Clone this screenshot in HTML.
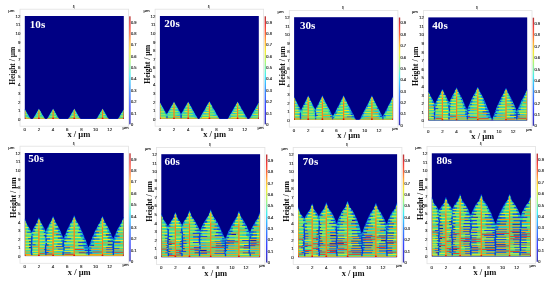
<!DOCTYPE html>
<html><head><meta charset="utf-8"><title>Dendrite growth</title>
<style>
html,body{margin:0;padding:0;background:#fff;}
body{width:550px;height:282px;overflow:hidden;}
svg text{font-family:"Liberation Sans",sans-serif;}
.lb{font-family:"Liberation Serif",serif;font-weight:bold;font-size:11.1px;fill:#fff;}
.tk{font-size:4.4px;fill:#222;stroke:#222;stroke-width:0.12px;}
.ck{font-size:4.0px;fill:#222;stroke:#222;stroke-width:0.15px;}
.yl{font-family:"Liberation Serif",serif;font-weight:bold;fill:#111;}
.xl{font-family:"Liberation Serif",serif;font-weight:bold;font-size:8.5px;fill:#111;}
</style></head><body>
<svg width="550" height="282" viewBox="0 0 550 282" style="display:block">
<defs>
<linearGradient id="cb" x1="0" y1="1" x2="0" y2="0"><stop offset="0.000" stop-color="#00008c"/><stop offset="0.063" stop-color="#0000d0"/><stop offset="0.158" stop-color="#0010ff"/><stop offset="0.295" stop-color="#0060ff"/><stop offset="0.379" stop-color="#00a8ff"/><stop offset="0.453" stop-color="#10e8f0"/><stop offset="0.526" stop-color="#60f090"/><stop offset="0.611" stop-color="#b8f030"/><stop offset="0.684" stop-color="#f4e000"/><stop offset="0.758" stop-color="#ffa000"/><stop offset="0.842" stop-color="#ff3800"/><stop offset="0.926" stop-color="#e80000"/><stop offset="1.000" stop-color="#a00000"/></linearGradient>
<filter id="bl" x="-5%" y="-5%" width="110%" height="110%"><feGaussianBlur stdDeviation="0.5"/></filter>
</defs>
<rect width="550" height="282" fill="#fff"/>
<rect x="20.0" y="9.2" width="108.6" height="117.0" fill="none" stroke="#e2e2e2" stroke-width="0.8"/>
<rect x="24.8" y="16.0" width="99.0" height="103.0" fill="#000084"/>
<clipPath id="c0"><rect x="24.8" y="16.0" width="99.0" height="103.0"/></clipPath>
<clipPath id="s0"><polygon points="24.8,119.0 24.8,109.1 25.5,110.3 26.2,111.5 26.9,112.7 27.6,113.9 28.3,115.1 29.0,116.3 29.8,117.5 30.5,118.7 31.2,119.0 32.6,119.0 33.3,118.3 34.0,117.1 34.7,115.9 35.4,114.7 36.1,113.5 36.8,112.3 37.5,111.1 38.2,109.9 38.9,108.7 39.6,109.9 40.4,111.1 41.1,112.3 41.8,113.5 42.5,114.7 43.2,115.9 43.9,117.1 44.6,118.3 45.3,119.0 46.7,119.0 47.4,118.3 48.1,117.1 48.8,115.9 49.5,114.7 50.3,113.5 51.0,112.3 51.7,111.1 52.4,109.9 53.1,108.7 53.8,109.9 54.5,111.1 55.2,112.3 55.9,113.5 56.6,114.7 57.3,115.9 58.0,117.1 58.7,118.3 59.5,119.0 67.9,119.0 68.6,118.3 69.3,117.1 70.1,115.9 70.8,114.7 71.5,113.5 72.2,112.3 72.9,111.1 73.6,109.9 74.3,108.7 75.0,109.9 75.7,111.1 76.4,112.3 77.1,113.5 77.8,114.7 78.5,115.9 79.2,117.1 80.0,118.3 80.7,119.0 96.2,119.0 96.9,118.3 97.6,117.1 98.3,115.9 99.0,114.7 99.8,113.5 100.5,112.3 101.2,111.1 101.9,109.9 102.6,108.7 103.3,109.9 104.0,111.1 104.7,112.3 105.4,113.5 106.1,114.7 106.8,115.9 107.5,117.1 108.2,118.3 109.0,119.0 117.4,119.0 118.1,118.7 118.8,117.5 119.6,116.3 120.3,115.1 121.0,113.9 121.7,112.7 122.4,111.5 123.1,110.3 123.8,109.1 123.8,119.0"/></clipPath>
<g clip-path="url(#c0)"><g filter="url(#bl)">
<polygon points="24.8,119.0 24.8,109.1 25.5,110.3 26.2,111.5 26.9,112.7 27.6,113.9 28.3,115.1 29.0,116.3 29.8,117.5 30.5,118.7 31.2,119.0 32.6,119.0 33.3,118.3 34.0,117.1 34.7,115.9 35.4,114.7 36.1,113.5 36.8,112.3 37.5,111.1 38.2,109.9 38.9,108.7 39.6,109.9 40.4,111.1 41.1,112.3 41.8,113.5 42.5,114.7 43.2,115.9 43.9,117.1 44.6,118.3 45.3,119.0 46.7,119.0 47.4,118.3 48.1,117.1 48.8,115.9 49.5,114.7 50.3,113.5 51.0,112.3 51.7,111.1 52.4,109.9 53.1,108.7 53.8,109.9 54.5,111.1 55.2,112.3 55.9,113.5 56.6,114.7 57.3,115.9 58.0,117.1 58.7,118.3 59.5,119.0 67.9,119.0 68.6,118.3 69.3,117.1 70.1,115.9 70.8,114.7 71.5,113.5 72.2,112.3 72.9,111.1 73.6,109.9 74.3,108.7 75.0,109.9 75.7,111.1 76.4,112.3 77.1,113.5 77.8,114.7 78.5,115.9 79.2,117.1 80.0,118.3 80.7,119.0 96.2,119.0 96.9,118.3 97.6,117.1 98.3,115.9 99.0,114.7 99.8,113.5 100.5,112.3 101.2,111.1 101.9,109.9 102.6,108.7 103.3,109.9 104.0,111.1 104.7,112.3 105.4,113.5 106.1,114.7 106.8,115.9 107.5,117.1 108.2,118.3 109.0,119.0 117.4,119.0 118.1,118.7 118.8,117.5 119.6,116.3 120.3,115.1 121.0,113.9 121.7,112.7 122.4,111.5 123.1,110.3 123.8,109.1 123.8,119.0" fill="#0c50ec" stroke="#0828c0" stroke-width="0.5"/>
<g clip-path="url(#s0)">
<path d="M24.8 109.2L25.4 110.2L25.9 111.2L26.5 112.2L27.0 113.1L27.6 114.1L28.1 115.1L28.7 116.1L29.2 117.0L29.8 118.0L30.3 119.0L19.3 119.0L19.8 118.0L20.4 117.0L20.9 116.1L21.5 115.1L22.0 114.1L22.6 113.1L23.1 112.2L23.7 111.2L24.2 110.2ZM38.9 108.8L39.5 109.8L40.1 110.8L40.7 111.9L41.2 112.9L41.8 113.9L42.4 114.9L43.0 115.9L43.5 117.0L44.1 118.0L44.7 119.0L33.2 119.0L33.8 118.0L34.3 117.0L34.9 115.9L35.5 114.9L36.1 113.9L36.6 112.9L37.2 111.9L37.8 110.8L38.4 109.8ZM53.1 108.8L53.7 109.8L54.2 110.8L54.8 111.9L55.4 112.9L56.0 113.9L56.5 114.9L57.1 115.9L57.7 117.0L58.3 118.0L58.8 119.0L47.3 119.0L47.9 118.0L48.5 117.0L49.1 115.9L49.6 114.9L50.2 113.9L50.8 112.9L51.4 111.9L51.9 110.8L52.5 109.8ZM74.3 108.8L74.9 109.8L75.5 110.8L76.0 111.9L76.6 112.9L77.2 113.9L77.8 114.9L78.3 115.9L78.9 117.0L79.5 118.0L80.1 119.0L68.5 119.0L69.1 118.0L69.7 117.0L70.3 115.9L70.8 114.9L71.4 113.9L72.0 112.9L72.6 111.9L73.1 110.8L73.7 109.8ZM102.6 108.8L103.2 109.8L103.7 110.8L104.3 111.9L104.9 112.9L105.5 113.9L106.0 114.9L106.6 115.9L107.2 117.0L107.8 118.0L108.3 119.0L96.8 119.0L97.4 118.0L98.0 117.0L98.6 115.9L99.1 114.9L99.7 113.9L100.3 112.9L100.9 111.9L101.4 110.8L102.0 109.8ZM123.8 109.2L124.4 110.2L124.9 111.2L125.5 112.2L126.0 113.1L126.6 114.1L127.1 115.1L127.7 116.1L128.2 117.0L128.8 118.0L129.3 119.0L118.3 119.0L118.8 118.0L119.4 117.0L119.9 116.1L120.5 115.1L121.0 114.1L121.6 113.1L122.1 112.2L122.7 111.2L123.2 110.2Z" fill="#22c8d0"/>
<path d="M24.8 109.4L25.3 110.3L25.8 111.3L26.3 112.3L26.8 113.2L27.3 114.2L27.8 115.2L28.3 116.1L28.8 117.1L29.3 118.0L29.8 119.0L19.8 119.0L20.3 118.0L20.8 117.1L21.3 116.1L21.8 115.2L22.3 114.2L22.8 113.2L23.3 112.3L23.8 111.3L24.3 110.3ZM38.9 109.0L39.5 110.0L40.0 111.0L40.5 112.0L41.0 113.0L41.5 114.0L42.1 115.0L42.6 116.0L43.1 117.0L43.6 118.0L44.2 119.0L33.7 119.0L34.3 118.0L34.8 117.0L35.3 116.0L35.8 115.0L36.3 114.0L36.9 113.0L37.4 112.0L37.9 111.0L38.4 110.0ZM53.1 109.0L53.6 110.0L54.1 111.0L54.6 112.0L55.2 113.0L55.7 114.0L56.2 115.0L56.7 116.0L57.3 117.0L57.8 118.0L58.3 119.0L47.9 119.0L48.4 118.0L48.9 117.0L49.4 116.0L50.0 115.0L50.5 114.0L51.0 113.0L51.5 112.0L52.0 111.0L52.6 110.0ZM74.3 109.0L74.8 110.0L75.3 111.0L75.9 112.0L76.4 113.0L76.9 114.0L77.4 115.0L77.9 116.0L78.5 117.0L79.0 118.0L79.5 119.0L69.1 119.0L69.6 118.0L70.1 117.0L70.7 116.0L71.2 115.0L71.7 114.0L72.2 113.0L72.7 112.0L73.3 111.0L73.8 110.0ZM102.6 109.0L103.1 110.0L103.6 111.0L104.1 112.0L104.7 113.0L105.2 114.0L105.7 115.0L106.2 116.0L106.8 117.0L107.3 118.0L107.8 119.0L97.4 119.0L97.9 118.0L98.4 117.0L98.9 116.0L99.5 115.0L100.0 114.0L100.5 113.0L101.0 112.0L101.5 111.0L102.1 110.0ZM123.8 109.4L124.3 110.3L124.8 111.3L125.3 112.3L125.8 113.2L126.3 114.2L126.8 115.2L127.3 116.1L127.8 117.1L128.3 118.0L128.8 119.0L118.8 119.0L119.3 118.0L119.8 117.1L120.3 116.1L120.8 115.2L121.3 114.2L121.8 113.2L122.3 112.3L122.8 111.3L123.3 110.3Z" fill="#44de8c"/>
<path d="M24.8 114.8H21.6M24.8 112.2H26.3M38.9 112.0H40.8M53.1 111.5H54.5M74.3 116.3H70.5M74.3 114.8H77.5M102.6 114.6H105.8M123.8 116.1H119.7M123.8 117.5H127.9M24.8 117.1H20.8M24.8 112.5H23.2M24.8 117.4H29.1M24.8 114.5H27.4M38.9 117.3H33.9M38.9 115.0H35.7M38.9 112.5H36.9M38.9 117.2H43.9M38.9 114.3H41.7M53.1 116.3H48.6M53.1 113.7H50.3M53.1 116.5H56.9M53.1 114.0H56.0M74.3 113.8H71.4M74.3 117.1H79.0M74.3 112.5H76.4M102.6 116.0H98.2M102.6 113.2H99.8M102.6 116.9H106.7M102.6 112.2H104.3M123.8 113.8H120.8M123.8 115.2H127.8M123.8 112.6H126.1" stroke="#3cd8a0" stroke-width="1.7" fill="none" opacity="1"/>
<path d="M22.9 115.8H20.7M26.8 116.1H29.1M36.8 116.0H34.4M37.7 113.7H35.8M41.2 115.9H43.4M51.1 115.0H49.2M72.2 115.0H70.4M76.8 115.9H78.7M75.7 113.5H77.3M100.8 114.7H98.9M104.1 115.7H106.9M122.3 114.8H120.3M126.1 116.2H128.2M125.2 113.9H126.8" stroke="#20b8e8" stroke-width="1.1" fill="none" opacity="1"/>
<path d="M24.8 117.1H21.7M24.8 112.5H23.5M24.8 117.4H28.1M24.8 114.5H26.8M38.9 117.3H35.1M38.9 115.0H36.4M38.9 112.5H37.4M38.9 117.2H42.8M38.9 114.3H41.1M53.1 116.3H49.7M53.1 113.7H50.9M53.1 116.5H56.0M53.1 114.0H55.3M74.3 113.8H72.0M74.3 117.1H77.9M74.3 112.5H75.9M102.6 116.0H99.2M102.6 113.2H100.4M102.6 116.9H105.7M102.6 112.2H103.9M123.8 113.8H121.5M123.8 115.2H126.9M123.8 112.6H125.6" stroke="#a0f050" stroke-width="1.0" fill="none" opacity="1"/>
<path d="M24.8 114.8H22.3M24.8 112.2H26.0M38.9 112.0H40.4M53.1 111.5H54.2M74.3 116.3H71.4M74.3 114.8H76.7M102.6 114.6H105.0M123.8 116.1H120.6M123.8 117.5H127.0" stroke="#eee820" stroke-width="1.0" fill="none" opacity="1"/>
<path d="M24.8 118.4H123.8" stroke="#f4a820" stroke-width="0.8" fill="none"/>
<path d="M24.8 119.0V109.7" stroke="#f4ac20" stroke-width="1.0" fill="none"/>
<path d="M24.8 119.0V111.9" stroke="#ee5a18" stroke-width="0.6" fill="none"/>
<circle cx="24.8" cy="118.3" r="0.9" fill="#e01010"/>
<path d="M38.9 119.0V109.3" stroke="#f4ac20" stroke-width="1.0" fill="none"/>
<path d="M38.9 119.0V111.6" stroke="#ee5a18" stroke-width="0.6" fill="none"/>
<circle cx="38.9" cy="118.3" r="0.9" fill="#e01010"/>
<path d="M53.1 119.0V109.3" stroke="#f4ac20" stroke-width="1.0" fill="none"/>
<path d="M53.1 119.0V111.6" stroke="#ee5a18" stroke-width="0.6" fill="none"/>
<circle cx="53.1" cy="118.3" r="0.9" fill="#e01010"/>
<path d="M74.3 119.0V109.3" stroke="#f4ac20" stroke-width="1.0" fill="none"/>
<path d="M74.3 119.0V111.6" stroke="#ee5a18" stroke-width="0.6" fill="none"/>
<circle cx="74.3" cy="118.3" r="0.9" fill="#e01010"/>
<path d="M102.6 119.0V109.3" stroke="#f4ac20" stroke-width="1.0" fill="none"/>
<path d="M102.6 119.0V111.6" stroke="#ee5a18" stroke-width="0.6" fill="none"/>
<circle cx="102.6" cy="118.3" r="0.9" fill="#e01010"/>
<path d="M123.8 119.0V109.7" stroke="#f4ac20" stroke-width="1.0" fill="none"/>
<path d="M123.8 119.0V111.9" stroke="#ee5a18" stroke-width="0.6" fill="none"/>
<circle cx="123.8" cy="118.3" r="0.9" fill="#e01010"/>
</g></g></g>
<text x="29.8" y="27.5" class="lb">10s</text>
<text x="20.4" y="120.8" class="tk" text-anchor="end">0</text>
<text x="20.4" y="112.2" class="tk" text-anchor="end">1</text>
<text x="20.4" y="103.6" class="tk" text-anchor="end">2</text>
<text x="20.4" y="95.0" class="tk" text-anchor="end">3</text>
<text x="20.4" y="86.4" class="tk" text-anchor="end">4</text>
<text x="20.4" y="77.8" class="tk" text-anchor="end">5</text>
<text x="20.4" y="69.2" class="tk" text-anchor="end">6</text>
<text x="20.4" y="60.7" class="tk" text-anchor="end">7</text>
<text x="20.4" y="52.1" class="tk" text-anchor="end">8</text>
<text x="20.4" y="43.5" class="tk" text-anchor="end">9</text>
<text x="20.4" y="34.9" class="tk" text-anchor="end">10</text>
<text x="20.4" y="26.3" class="tk" text-anchor="end">11</text>
<text x="20.4" y="17.8" class="tk" text-anchor="end">12</text>
<text x="24.8" y="131.0" class="tk" text-anchor="middle">0</text>
<text x="38.9" y="131.0" class="tk" text-anchor="middle">2</text>
<text x="53.1" y="131.0" class="tk" text-anchor="middle">4</text>
<text x="67.2" y="131.0" class="tk" text-anchor="middle">6</text>
<text x="81.4" y="131.0" class="tk" text-anchor="middle">8</text>
<text x="95.5" y="131.0" class="tk" text-anchor="middle">10</text>
<text x="109.7" y="131.0" class="tk" text-anchor="middle">12</text>
<text x="11.4" y="11.5" class="tk" text-anchor="middle">µm</text>
<text x="125.7" y="129.2" class="tk" text-anchor="middle">µm</text>
<text x="73.7" y="7.8" class="tk" text-anchor="middle" fill="#7080a0">ξ</text>
<rect x="129.2" y="16.3" width="1.4" height="108.0" fill="url(#cb)" opacity="0.78"/>
<text x="130.9" y="125.9" class="ck">0</text>
<text x="130.9" y="114.5" class="ck">0.1</text>
<text x="130.9" y="103.1" class="ck">0.2</text>
<text x="130.9" y="91.7" class="ck">0.3</text>
<text x="130.9" y="80.4" class="ck">0.4</text>
<text x="130.9" y="69.0" class="ck">0.5</text>
<text x="130.9" y="57.6" class="ck">0.6</text>
<text x="130.9" y="46.3" class="ck">0.7</text>
<text x="130.9" y="34.9" class="ck">0.8</text>
<text x="130.9" y="23.5" class="ck">0.9</text>
<text transform="translate(15.0,65.8) rotate(-90)" class="yl" font-size="7.5" text-anchor="middle">Height / µm</text>
<text x="78.8" y="136.8" class="xl" text-anchor="middle">x / µm</text>
<rect x="155.1" y="9.2" width="108.5" height="117.0" fill="none" stroke="#e2e2e2" stroke-width="0.8"/>
<rect x="159.9" y="16.0" width="98.9" height="103.0" fill="#000084"/>
<clipPath id="c1"><rect x="159.9" y="16.0" width="98.9" height="103.0"/></clipPath>
<clipPath id="s1"><polygon points="159.9,119.0 159.9,102.3 160.6,103.5 161.3,104.8 162.0,106.0 162.7,107.2 163.4,108.5 164.1,109.7 164.8,111.0 165.6,112.2 166.3,113.5 166.8,114.4 167.0,114.1 167.7,112.9 168.4,111.6 169.1,110.4 169.8,109.1 170.5,107.9 171.2,106.6 171.9,105.4 172.6,104.2 173.3,102.9 174.0,101.7 174.7,102.9 175.4,104.2 176.1,105.4 176.9,106.6 177.6,107.9 178.3,109.1 179.0,110.4 179.7,111.6 180.4,112.9 181.1,114.1 181.8,112.9 182.5,111.6 183.2,110.4 183.9,109.1 184.6,107.9 185.3,106.6 186.0,105.4 186.7,104.2 187.5,102.9 188.2,101.7 188.9,102.9 189.6,104.2 190.3,105.4 191.0,106.6 191.7,107.9 192.4,109.1 193.1,110.4 193.8,111.6 194.5,112.9 195.2,114.1 195.9,115.4 196.6,116.6 197.3,117.8 198.0,119.0 198.8,119.0 199.5,118.7 200.2,117.4 200.9,116.2 201.6,114.9 202.3,113.7 203.0,112.4 203.7,111.2 204.4,109.9 205.1,108.7 205.8,107.5 206.5,106.2 207.2,105.0 207.9,103.7 208.6,102.5 209.4,101.2 210.1,102.5 210.8,103.7 211.5,105.0 212.2,106.2 212.9,107.5 213.6,108.7 214.3,109.9 215.0,111.2 215.7,112.4 216.4,113.7 217.1,114.9 217.8,116.2 218.5,117.4 219.2,118.7 219.9,119.0 227.7,119.0 228.4,117.8 229.1,116.6 229.8,115.4 230.5,114.1 231.2,112.9 232.0,111.6 232.7,110.4 233.4,109.1 234.1,107.9 234.8,106.6 235.5,105.4 236.2,104.2 236.9,102.9 237.6,101.7 238.3,102.9 239.0,104.2 239.7,105.4 240.4,106.6 241.1,107.9 241.8,109.1 242.6,110.4 243.3,111.6 244.0,112.9 244.7,114.1 245.4,115.4 246.1,116.6 246.8,117.8 247.5,119.0 248.9,119.0 249.6,118.4 250.3,117.2 251.0,116.0 251.7,114.7 252.4,113.5 253.1,112.2 253.9,111.0 254.6,109.7 255.3,108.5 256.0,107.2 256.7,106.0 257.4,104.8 258.1,103.5 258.8,102.3 258.8,119.0"/></clipPath>
<g clip-path="url(#c1)"><g filter="url(#bl)">
<polygon points="159.9,119.0 159.9,102.3 160.6,103.5 161.3,104.8 162.0,106.0 162.7,107.2 163.4,108.5 164.1,109.7 164.8,111.0 165.6,112.2 166.3,113.5 166.8,114.4 167.0,114.1 167.7,112.9 168.4,111.6 169.1,110.4 169.8,109.1 170.5,107.9 171.2,106.6 171.9,105.4 172.6,104.2 173.3,102.9 174.0,101.7 174.7,102.9 175.4,104.2 176.1,105.4 176.9,106.6 177.6,107.9 178.3,109.1 179.0,110.4 179.7,111.6 180.4,112.9 181.1,114.1 181.8,112.9 182.5,111.6 183.2,110.4 183.9,109.1 184.6,107.9 185.3,106.6 186.0,105.4 186.7,104.2 187.5,102.9 188.2,101.7 188.9,102.9 189.6,104.2 190.3,105.4 191.0,106.6 191.7,107.9 192.4,109.1 193.1,110.4 193.8,111.6 194.5,112.9 195.2,114.1 195.9,115.4 196.6,116.6 197.3,117.8 198.0,119.0 198.8,119.0 199.5,118.7 200.2,117.4 200.9,116.2 201.6,114.9 202.3,113.7 203.0,112.4 203.7,111.2 204.4,109.9 205.1,108.7 205.8,107.5 206.5,106.2 207.2,105.0 207.9,103.7 208.6,102.5 209.4,101.2 210.1,102.5 210.8,103.7 211.5,105.0 212.2,106.2 212.9,107.5 213.6,108.7 214.3,109.9 215.0,111.2 215.7,112.4 216.4,113.7 217.1,114.9 217.8,116.2 218.5,117.4 219.2,118.7 219.9,119.0 227.7,119.0 228.4,117.8 229.1,116.6 229.8,115.4 230.5,114.1 231.2,112.9 232.0,111.6 232.7,110.4 233.4,109.1 234.1,107.9 234.8,106.6 235.5,105.4 236.2,104.2 236.9,102.9 237.6,101.7 238.3,102.9 239.0,104.2 239.7,105.4 240.4,106.6 241.1,107.9 241.8,109.1 242.6,110.4 243.3,111.6 244.0,112.9 244.7,114.1 245.4,115.4 246.1,116.6 246.8,117.8 247.5,119.0 248.9,119.0 249.6,118.4 250.3,117.2 251.0,116.0 251.7,114.7 252.4,113.5 253.1,112.2 253.9,111.0 254.6,109.7 255.3,108.5 256.0,107.2 256.7,106.0 257.4,104.8 258.1,103.5 258.8,102.3 258.8,119.0" fill="#0c50ec" stroke="#0828c0" stroke-width="0.5"/>
<g clip-path="url(#s1)">
<path d="M159.9 102.4L160.8 104.1L161.7 105.7L162.6 107.4L163.5 109.1L164.4 110.7L165.3 112.4L166.2 114.0L167.1 115.7L168.0 117.3L168.9 119.0L150.9 119.0L151.8 117.3L152.7 115.7L153.6 114.0L154.5 112.4L155.4 110.7L156.3 109.1L157.2 107.4L158.1 105.7L159.0 104.1ZM174.0 101.8L175.0 103.6L175.9 105.3L176.8 107.0L177.8 108.7L178.7 110.4L179.6 112.1L180.6 113.9L181.5 115.6L182.4 117.3L183.4 119.0L164.7 119.0L165.6 117.3L166.5 115.6L167.5 113.9L168.4 112.1L169.4 110.4L170.3 108.7L171.2 107.0L172.2 105.3L173.1 103.6ZM188.2 101.8L189.1 103.6L190.0 105.3L191.0 107.0L191.9 108.7L192.8 110.4L193.8 112.1L194.7 113.9L195.6 115.6L196.6 117.3L197.5 119.0L178.8 119.0L179.7 117.3L180.7 115.6L181.6 113.9L182.5 112.1L183.5 110.4L184.4 108.7L185.4 107.0L186.3 105.3L187.2 103.6ZM209.4 101.4L210.3 103.2L211.3 104.9L212.2 106.7L213.2 108.4L214.1 110.2L215.1 112.0L216.1 113.7L217.0 115.5L218.0 117.2L218.9 119.0L199.8 119.0L200.7 117.2L201.7 115.5L202.6 113.7L203.6 112.0L204.6 110.2L205.5 108.4L206.5 106.7L207.4 104.9L208.4 103.2ZM237.6 101.8L238.5 103.6L239.5 105.3L240.4 107.0L241.3 108.7L242.3 110.4L243.2 112.1L244.2 113.9L245.1 115.6L246.0 117.3L247.0 119.0L228.3 119.0L229.2 117.3L230.1 115.6L231.1 113.9L232.0 112.1L232.9 110.4L233.9 108.7L234.8 107.0L235.7 105.3L236.7 103.6ZM258.8 102.4L259.7 104.1L260.6 105.7L261.5 107.4L262.4 109.1L263.3 110.7L264.2 112.4L265.1 114.0L266.0 115.7L266.9 117.3L267.8 119.0L249.8 119.0L250.7 117.3L251.6 115.7L252.5 114.0L253.4 112.4L254.3 110.7L255.2 109.1L256.1 107.4L257.0 105.7L257.9 104.1Z" fill="#22c8d0"/>
<path d="M159.9 102.7L160.7 104.3L161.5 105.9L162.4 107.6L163.2 109.2L164.0 110.8L164.8 112.5L165.6 114.1L166.4 115.7L167.3 117.4L168.1 119.0L151.7 119.0L152.5 117.4L153.4 115.7L154.2 114.1L155.0 112.5L155.8 110.8L156.6 109.2L157.4 107.6L158.3 105.9L159.1 104.3ZM174.0 102.1L174.9 103.8L175.7 105.5L176.6 107.2L177.4 108.9L178.3 110.5L179.1 112.2L180.0 113.9L180.8 115.6L181.6 117.3L182.5 119.0L165.6 119.0L166.4 117.3L167.3 115.6L168.1 113.9L169.0 112.2L169.8 110.5L170.6 108.9L171.5 107.2L172.3 105.5L173.2 103.8ZM188.2 102.1L189.0 103.8L189.8 105.5L190.7 107.2L191.5 108.9L192.4 110.5L193.2 112.2L194.1 113.9L194.9 115.6L195.8 117.3L196.6 119.0L179.7 119.0L180.5 117.3L181.4 115.6L182.2 113.9L183.1 112.2L183.9 110.5L184.8 108.9L185.6 107.2L186.5 105.5L187.3 103.8ZM209.4 101.7L210.2 103.4L211.1 105.1L212.0 106.9L212.8 108.6L213.7 110.3L214.6 112.1L215.4 113.8L216.3 115.5L217.2 117.3L218.0 119.0L200.7 119.0L201.5 117.3L202.4 115.5L203.3 113.8L204.1 112.1L205.0 110.3L205.9 108.6L206.7 106.9L207.6 105.1L208.5 103.4ZM237.6 102.1L238.5 103.8L239.3 105.5L240.1 107.2L241.0 108.9L241.8 110.5L242.7 112.2L243.5 113.9L244.4 115.6L245.2 117.3L246.1 119.0L229.1 119.0L230.0 117.3L230.8 115.6L231.7 113.9L232.5 112.2L233.4 110.5L234.2 108.9L235.1 107.2L235.9 105.5L236.8 103.8ZM258.8 102.7L259.6 104.3L260.4 105.9L261.3 107.6L262.1 109.2L262.9 110.8L263.7 112.5L264.5 114.1L265.3 115.7L266.2 117.4L267.0 119.0L250.6 119.0L251.4 117.4L252.3 115.7L253.1 114.1L253.9 112.5L254.7 110.8L255.5 109.2L256.3 107.6L257.2 105.9L258.0 104.3Z" fill="#44de8c"/>
<path d="M159.9 117.2H152.1M159.9 111.9H154.2M159.9 109.7H156.1M159.9 117.2H167.3M159.9 111.9H165.2M174.0 111.1H168.3M174.0 108.7H170.3M188.2 111.7H183.4M188.2 112.0H193.9M188.2 109.7H192.2M209.4 117.5H199.8M209.4 115.2H200.7M209.4 112.6H202.2M209.4 110.2H205.1M209.4 107.8H205.7M209.4 116.8H219.2M209.4 106.1H212.2M237.6 117.4H229.1M237.6 114.9H229.2M237.6 112.4H231.7M237.6 110.1H233.1M237.6 104.7H236.0M237.6 114.7H245.5M237.6 109.5H241.2M258.8 114.3H251.7M258.8 109.5H255.3M258.8 107.2H256.5M174.0 116.7H182.1M159.9 114.7H153.7M159.9 106.8H157.0M159.9 114.7H167.1M159.9 109.1H163.5M159.9 106.7H162.1M174.0 116.2H165.7M174.0 113.9H166.2M174.0 106.1H171.3M174.0 114.0H180.0M174.0 111.4H179.5M174.0 108.6H177.9M174.0 106.0H176.4M188.2 116.7H180.1M188.2 114.3H181.1M188.2 109.4H183.6M188.2 106.5H185.6M188.2 117.3H196.6M188.2 114.6H194.1M188.2 107.1H191.6M188.2 104.3H189.6M209.4 105.5H206.8M209.4 114.0H216.1M209.4 111.2H215.2M209.4 108.9H213.0M237.6 107.5H234.1M237.6 117.4H246.9M237.6 111.9H243.8M237.6 106.9H240.6M237.6 104.3H238.8M258.8 116.8H250.7M258.8 111.8H253.6M258.8 116.5H266.1M258.8 113.6H264.4M258.8 110.9H264.3M258.8 108.3H261.7M258.8 105.9H261.0" stroke="#3cd8a0" stroke-width="1.7" fill="none" opacity="1"/>
<path d="M157.8 110.6H154.9M157.9 108.4H156.3M161.6 107.8H163.2M170.4 114.9H166.8M170.4 112.6H167.5M172.1 109.8H169.2M172.6 107.4H170.6M177.1 115.4H181.1M177.1 112.7H180.6M176.0 110.1H179.0M175.9 107.3H177.4M185.7 113.0H181.4M186.0 108.1H184.3M191.4 116.1H196.7M190.5 113.3H195.1M189.7 108.4H192.2M206.0 113.9H201.8M207.0 111.3H203.3M208.3 106.5H206.2M213.1 115.5H217.9M213.2 112.7H216.2M211.5 110.0H214.6M232.8 116.1H229.0M235.2 113.7H230.5M235.7 111.1H232.0M236.0 108.8H233.4M242.3 116.1H246.2M240.2 110.6H242.9M255.7 115.5H250.9M255.2 113.0H252.4M256.4 110.5H253.9M257.4 108.2H255.2M262.2 115.2H265.9M260.8 112.4H264.8M261.2 109.6H263.2" stroke="#20b8e8" stroke-width="1.1" fill="none" opacity="1"/>
<path d="M165.7 113.4H166.8M170.1 109.8H168.9M178.3 110.1H179.3M183.6 110.5H182.7M184.7 108.1H184.1M190.1 105.8H190.8M201.1 116.2H200.0M204.2 111.3H203.1M212.4 107.6H213.3M211.1 104.8H211.6M234.2 108.8H233.2M245.4 116.1H246.6M251.8 115.5H250.6M262.3 109.6H263.4" stroke="#0c44d8" stroke-width="1.1" fill="none" opacity="1"/>
<path d="M159.9 114.7H155.1M159.9 106.8H157.7M159.9 114.7H165.4M159.9 109.1H162.7M159.9 106.7H161.6M174.0 116.2H167.6M174.0 113.9H168.0M174.0 106.1H171.9M174.0 114.0H178.7M174.0 111.4H178.2M174.0 108.6H177.0M174.0 106.0H175.9M188.2 116.7H181.9M188.2 114.3H182.7M188.2 109.4H184.7M188.2 106.5H186.2M188.2 117.3H194.6M188.2 114.6H192.8M188.2 107.1H190.8M188.2 104.3H189.3M209.4 105.5H207.4M209.4 114.0H214.6M209.4 111.2H213.9M209.4 108.9H212.1M237.6 107.5H234.9M237.6 117.4H244.7M237.6 111.9H242.4M237.6 106.9H239.9M237.6 104.3H238.5M258.8 116.8H252.6M258.8 111.8H254.8M258.8 116.5H264.4M258.8 113.6H263.1M258.8 110.9H263.0M258.8 108.3H261.0M258.8 105.9H260.5" stroke="#a0f050" stroke-width="1.0" fill="none" opacity="1"/>
<path d="M159.9 117.2H153.9M159.9 111.9H155.5M159.9 109.7H157.0M159.9 117.2H165.6M159.9 111.9H164.0M174.0 111.1H169.6M174.0 108.7H171.1M188.2 111.7H184.5M188.2 112.0H192.5M188.2 109.7H191.3M209.4 117.5H202.0M209.4 115.2H202.7M209.4 112.6H203.9M209.4 110.2H206.1M209.4 107.8H206.6M209.4 116.8H216.9M209.4 106.1H211.5M237.6 117.4H231.1M237.6 114.9H231.1M237.6 112.4H233.1M237.6 110.1H234.2M237.6 104.7H236.4M237.6 114.7H243.7M237.6 109.5H240.4M258.8 114.3H253.3M258.8 109.5H256.1M258.8 107.2H257.0" stroke="#eee820" stroke-width="1.0" fill="none" opacity="1"/>
<path d="M174.0 116.7H180.2" stroke="#f8a018" stroke-width="1.0" fill="none" opacity="1"/>
<path d="M167.0 119.0V116.3" stroke="#0c34d0" stroke-width="1.3" fill="none"/>
<path d="M181.1 119.0V116.8M181.1 116.8V114.6" stroke="#0c34d0" stroke-width="1.3" fill="none"/>
<path d="M159.9 118.4H258.8" stroke="#f4a820" stroke-width="0.8" fill="none"/>
<path d="M159.9 119.0V103.3" stroke="#f4ac20" stroke-width="1.1" fill="none"/>
<path d="M159.9 119.0V106.9" stroke="#ee5a18" stroke-width="0.6" fill="none"/>
<circle cx="159.9" cy="118.3" r="0.9" fill="#e01010"/>
<path d="M174.0 119.0V102.7" stroke="#f4ac20" stroke-width="1.1" fill="none"/>
<path d="M174.0 119.0V106.5" stroke="#ee5a18" stroke-width="0.6" fill="none"/>
<circle cx="174.0" cy="118.3" r="0.9" fill="#e01010"/>
<path d="M188.2 119.0V102.7" stroke="#f4ac20" stroke-width="1.1" fill="none"/>
<path d="M188.2 119.0V106.5" stroke="#ee5a18" stroke-width="0.6" fill="none"/>
<circle cx="188.2" cy="118.3" r="0.9" fill="#e01010"/>
<path d="M209.4 119.0V102.3" stroke="#f4ac20" stroke-width="1.1" fill="none"/>
<path d="M209.4 119.0V106.2" stroke="#ee5a18" stroke-width="0.6" fill="none"/>
<circle cx="209.4" cy="118.3" r="0.9" fill="#e01010"/>
<path d="M237.6 119.0V102.7" stroke="#f4ac20" stroke-width="1.1" fill="none"/>
<path d="M237.6 119.0V106.5" stroke="#ee5a18" stroke-width="0.6" fill="none"/>
<circle cx="237.6" cy="118.3" r="0.9" fill="#e01010"/>
<path d="M258.8 119.0V103.3" stroke="#f4ac20" stroke-width="1.1" fill="none"/>
<path d="M258.8 119.0V106.9" stroke="#ee5a18" stroke-width="0.6" fill="none"/>
<circle cx="258.8" cy="118.3" r="0.9" fill="#e01010"/>
</g></g></g>
<text x="164.3" y="26.8" class="lb">20s</text>
<text x="155.5" y="120.8" class="tk" text-anchor="end">0</text>
<text x="155.5" y="112.2" class="tk" text-anchor="end">1</text>
<text x="155.5" y="103.6" class="tk" text-anchor="end">2</text>
<text x="155.5" y="95.0" class="tk" text-anchor="end">3</text>
<text x="155.5" y="86.4" class="tk" text-anchor="end">4</text>
<text x="155.5" y="77.8" class="tk" text-anchor="end">5</text>
<text x="155.5" y="69.2" class="tk" text-anchor="end">6</text>
<text x="155.5" y="60.7" class="tk" text-anchor="end">7</text>
<text x="155.5" y="52.1" class="tk" text-anchor="end">8</text>
<text x="155.5" y="43.5" class="tk" text-anchor="end">9</text>
<text x="155.5" y="34.9" class="tk" text-anchor="end">10</text>
<text x="155.5" y="26.3" class="tk" text-anchor="end">11</text>
<text x="155.5" y="17.8" class="tk" text-anchor="end">12</text>
<text x="159.9" y="131.0" class="tk" text-anchor="middle">0</text>
<text x="174.0" y="131.0" class="tk" text-anchor="middle">2</text>
<text x="188.2" y="131.0" class="tk" text-anchor="middle">4</text>
<text x="202.3" y="131.0" class="tk" text-anchor="middle">6</text>
<text x="216.4" y="131.0" class="tk" text-anchor="middle">8</text>
<text x="230.5" y="131.0" class="tk" text-anchor="middle">10</text>
<text x="244.7" y="131.0" class="tk" text-anchor="middle">12</text>
<text x="146.5" y="11.5" class="tk" text-anchor="middle">µm</text>
<text x="260.7" y="129.2" class="tk" text-anchor="middle">µm</text>
<text x="208.8" y="7.8" class="tk" text-anchor="middle" fill="#7080a0">ξ</text>
<rect x="264.6" y="16.3" width="1.4" height="108.0" fill="url(#cb)" opacity="0.78"/>
<text x="266.3" y="125.9" class="ck">0</text>
<text x="266.3" y="114.5" class="ck">0.1</text>
<text x="266.3" y="103.1" class="ck">0.2</text>
<text x="266.3" y="91.7" class="ck">0.3</text>
<text x="266.3" y="80.4" class="ck">0.4</text>
<text x="266.3" y="69.0" class="ck">0.5</text>
<text x="266.3" y="57.6" class="ck">0.6</text>
<text x="266.3" y="46.3" class="ck">0.7</text>
<text x="266.3" y="34.9" class="ck">0.8</text>
<text x="266.3" y="23.5" class="ck">0.9</text>
<text transform="translate(150.3,64.3) rotate(-90)" class="yl" font-size="7.7" text-anchor="middle">Height / µm</text>
<text x="214.6" y="136.8" class="xl" text-anchor="middle">x / µm</text>
<rect x="289.3" y="10.4" width="108.6" height="116.7" fill="none" stroke="#e2e2e2" stroke-width="0.8"/>
<rect x="294.1" y="17.2" width="99.0" height="102.7" fill="#000084"/>
<clipPath id="c2"><rect x="294.1" y="17.2" width="99.0" height="102.7"/></clipPath>
<clipPath id="s2"><polygon points="294.1,119.9 294.1,96.7 294.8,98.3 295.5,99.8 296.2,101.3 296.9,102.7 297.6,104.0 298.3,105.4 299.1,106.8 299.8,108.1 300.5,109.5 300.9,110.3 301.2,109.8 301.9,108.4 302.6,107.0 303.3,105.7 304.0,104.3 304.7,102.9 305.4,101.5 306.1,100.2 306.8,98.7 307.5,97.1 308.2,95.6 309.0,97.1 309.7,98.7 310.4,100.2 311.1,101.5 311.8,102.9 312.5,104.3 313.2,105.7 313.9,107.0 314.6,108.4 315.3,109.8 316.0,108.4 316.7,107.0 317.4,105.7 318.1,104.3 318.9,102.9 319.6,101.5 320.3,100.2 321.0,98.7 321.7,97.1 322.4,95.6 323.1,97.1 323.8,98.7 324.5,100.2 325.2,101.5 325.9,102.9 326.6,104.3 327.3,105.7 328.0,107.0 328.8,108.4 329.5,109.8 330.2,111.1 330.9,112.5 331.6,113.9 332.3,115.2 333.0,116.5 333.0,116.4 333.7,115.1 334.4,113.7 335.1,112.3 335.8,111.0 336.5,109.6 337.2,108.2 337.9,106.8 338.7,105.5 339.4,104.1 340.1,102.7 340.8,101.4 341.5,100.0 342.2,98.5 342.9,97.0 343.6,95.5 344.3,97.0 345.0,98.5 345.7,100.0 346.4,101.4 347.1,102.7 347.8,104.1 348.6,105.5 349.3,106.8 350.0,108.2 350.7,109.6 351.4,111.0 352.1,112.3 352.8,113.7 353.5,115.1 354.2,116.4 354.9,117.8 355.6,119.2 356.3,119.9 359.2,119.9 359.9,119.3 360.6,118.0 361.3,116.6 362.0,115.2 362.7,113.9 363.4,112.5 364.1,111.1 364.8,109.8 365.5,108.4 366.2,107.0 366.9,105.7 367.6,104.3 368.4,102.9 369.1,101.5 369.8,100.2 370.5,98.7 371.2,97.1 371.9,95.6 372.6,97.1 373.3,98.7 374.0,100.2 374.7,101.5 375.4,102.9 376.1,104.3 376.8,105.7 377.5,107.0 378.2,108.4 379.0,109.8 379.7,111.1 380.4,112.5 381.1,113.9 381.8,115.2 382.5,116.6 382.7,116.9 383.2,115.9 383.9,114.6 384.6,113.2 385.3,111.8 386.0,110.4 386.7,109.1 387.4,107.7 388.2,106.3 388.9,105.0 389.6,103.6 390.3,102.2 391.0,100.9 391.7,99.3 392.4,97.8 393.1,96.3 393.1,119.9"/></clipPath>
<g clip-path="url(#c2)"><g filter="url(#bl)">
<polygon points="294.1,119.9 294.1,96.7 294.8,98.3 295.5,99.8 296.2,101.3 296.9,102.7 297.6,104.0 298.3,105.4 299.1,106.8 299.8,108.1 300.5,109.5 300.9,110.3 301.2,109.8 301.9,108.4 302.6,107.0 303.3,105.7 304.0,104.3 304.7,102.9 305.4,101.5 306.1,100.2 306.8,98.7 307.5,97.1 308.2,95.6 309.0,97.1 309.7,98.7 310.4,100.2 311.1,101.5 311.8,102.9 312.5,104.3 313.2,105.7 313.9,107.0 314.6,108.4 315.3,109.8 316.0,108.4 316.7,107.0 317.4,105.7 318.1,104.3 318.9,102.9 319.6,101.5 320.3,100.2 321.0,98.7 321.7,97.1 322.4,95.6 323.1,97.1 323.8,98.7 324.5,100.2 325.2,101.5 325.9,102.9 326.6,104.3 327.3,105.7 328.0,107.0 328.8,108.4 329.5,109.8 330.2,111.1 330.9,112.5 331.6,113.9 332.3,115.2 333.0,116.5 333.0,116.4 333.7,115.1 334.4,113.7 335.1,112.3 335.8,111.0 336.5,109.6 337.2,108.2 337.9,106.8 338.7,105.5 339.4,104.1 340.1,102.7 340.8,101.4 341.5,100.0 342.2,98.5 342.9,97.0 343.6,95.5 344.3,97.0 345.0,98.5 345.7,100.0 346.4,101.4 347.1,102.7 347.8,104.1 348.6,105.5 349.3,106.8 350.0,108.2 350.7,109.6 351.4,111.0 352.1,112.3 352.8,113.7 353.5,115.1 354.2,116.4 354.9,117.8 355.6,119.2 356.3,119.9 359.2,119.9 359.9,119.3 360.6,118.0 361.3,116.6 362.0,115.2 362.7,113.9 363.4,112.5 364.1,111.1 364.8,109.8 365.5,108.4 366.2,107.0 366.9,105.7 367.6,104.3 368.4,102.9 369.1,101.5 369.8,100.2 370.5,98.7 371.2,97.1 371.9,95.6 372.6,97.1 373.3,98.7 374.0,100.2 374.7,101.5 375.4,102.9 376.1,104.3 376.8,105.7 377.5,107.0 378.2,108.4 379.0,109.8 379.7,111.1 380.4,112.5 381.1,113.9 381.8,115.2 382.5,116.6 382.7,116.9 383.2,115.9 383.9,114.6 384.6,113.2 385.3,111.8 386.0,110.4 386.7,109.1 387.4,107.7 388.2,106.3 388.9,105.0 389.6,103.6 390.3,102.2 391.0,100.9 391.7,99.3 392.4,97.8 393.1,96.3 393.1,119.9" fill="#0c50ec" stroke="#0828c0" stroke-width="0.5"/>
<g clip-path="url(#s2)">
<path d="M294.1 97.0L295.1 99.3L296.2 101.6L297.3 103.9L298.4 106.1L299.6 108.4L300.7 110.7L301.8 113.0L303.0 115.3L304.1 117.6L305.2 119.9L283.0 119.9L284.1 117.6L285.2 115.3L286.4 113.0L287.5 110.7L288.6 108.4L289.8 106.1L290.9 103.9L292.0 101.6L293.1 99.3ZM308.2 95.9L309.3 98.3L310.4 100.7L311.6 103.1L312.8 105.5L314.0 107.9L315.2 110.3L316.4 112.7L317.6 115.1L318.7 117.5L319.9 119.9L296.5 119.9L297.7 117.5L298.9 115.1L300.1 112.7L301.3 110.3L302.5 107.9L303.7 105.5L304.9 103.1L306.1 100.7L307.2 98.3ZM322.4 95.9L323.5 98.3L324.6 100.7L325.7 103.1L326.9 105.5L328.1 107.9L329.3 110.3L330.5 112.7L331.7 115.1L332.9 117.5L334.1 119.9L310.7 119.9L311.9 117.5L313.1 115.1L314.3 112.7L315.5 110.3L316.6 107.9L317.8 105.5L319.0 103.1L320.2 100.7L321.3 98.3ZM343.6 95.7L344.7 98.1L345.8 100.5L347.0 103.0L348.2 105.4L349.4 107.8L350.6 110.2L351.8 112.6L353.0 115.1L354.2 117.5L355.4 119.9L331.8 119.9L333.0 117.5L334.2 115.1L335.4 112.6L336.6 110.2L337.8 107.8L339.0 105.4L340.2 103.0L341.4 100.5L342.5 98.1ZM371.9 95.9L373.0 98.3L374.1 100.7L375.2 103.1L376.4 105.5L377.6 107.9L378.8 110.3L380.0 112.7L381.2 115.1L382.4 117.5L383.6 119.9L360.2 119.9L361.4 117.5L362.6 115.1L363.8 112.7L365.0 110.3L366.1 107.9L367.3 105.5L368.5 103.1L369.7 100.7L370.8 98.3ZM393.1 96.6L394.1 98.9L395.2 101.2L396.4 103.6L397.5 105.9L398.7 108.2L399.8 110.6L401.0 112.9L402.1 115.2L403.3 117.6L404.5 119.9L381.7 119.9L382.9 117.6L384.1 115.2L385.2 112.9L386.4 110.6L387.5 108.2L388.7 105.9L389.8 103.6L391.0 101.2L392.1 98.9Z" fill="#22c8d0"/>
<path d="M294.1 97.3L295.0 99.6L296.0 101.8L297.0 104.1L298.0 106.4L299.1 108.6L300.1 110.9L301.1 113.1L302.1 115.4L303.2 117.6L304.2 119.9L284.0 119.9L285.0 117.6L286.1 115.4L287.1 113.1L288.1 110.9L289.1 108.6L290.2 106.4L291.2 104.1L292.2 101.8L293.2 99.6ZM308.2 96.2L309.2 98.6L310.2 101.0L311.3 103.3L312.4 105.7L313.4 108.1L314.5 110.4L315.6 112.8L316.7 115.2L317.8 117.5L318.8 119.9L297.7 119.9L298.7 117.5L299.8 115.2L300.9 112.8L302.0 110.4L303.0 108.1L304.1 105.7L305.2 103.3L306.3 101.0L307.3 98.6ZM322.4 96.2L323.4 98.6L324.4 101.0L325.4 103.3L326.5 105.7L327.6 108.1L328.7 110.4L329.7 112.8L330.8 115.2L331.9 117.5L333.0 119.9L311.8 119.9L312.9 117.5L314.0 115.2L315.0 112.8L316.1 110.4L317.2 108.1L318.3 105.7L319.3 103.3L320.4 101.0L321.4 98.6ZM343.6 96.1L344.6 98.5L345.6 100.8L346.7 103.2L347.8 105.6L348.8 108.0L349.9 110.4L351.0 112.8L352.1 115.1L353.2 117.5L354.3 119.9L332.9 119.9L334.0 117.5L335.1 115.1L336.2 112.8L337.3 110.4L338.4 108.0L339.4 105.6L340.5 103.2L341.6 100.8L342.6 98.5ZM371.9 96.2L372.9 98.6L373.9 101.0L374.9 103.3L376.0 105.7L377.1 108.1L378.2 110.4L379.2 112.8L380.3 115.2L381.4 117.5L382.5 119.9L361.3 119.9L362.4 117.5L363.5 115.2L364.5 112.8L365.6 110.4L366.7 108.1L367.8 105.7L368.8 103.3L369.9 101.0L370.9 98.6ZM393.1 96.9L394.0 99.2L395.0 101.5L396.1 103.8L397.1 106.1L398.1 108.4L399.2 110.7L400.2 113.0L401.3 115.3L402.3 117.6L403.4 119.9L382.8 119.9L383.9 117.6L384.9 115.3L386.0 113.0L387.0 110.7L388.1 108.4L389.1 106.1L390.1 103.8L391.2 101.5L392.2 99.2Z" fill="#44de8c"/>
<path d="M294.1 107.8H289.4M294.1 115.7H301.8M294.1 112.7H301.8M294.1 110.2H300.0M294.1 104.8H297.4M294.1 102.0H296.8M308.2 114.2H300.7M308.2 111.2H301.3M308.2 102.9H305.3M308.2 100.1H306.6M308.2 117.0H316.3M308.2 112.0H315.0M308.2 109.1H314.8M308.2 101.5H311.4M322.4 116.8H314.3M322.4 114.0H314.3M322.4 111.3H314.3M322.4 108.4H315.6M322.4 103.4H319.3M322.4 100.4H320.3M322.4 112.9H330.1M322.4 107.3H328.5M322.4 104.9H326.9M322.4 102.3H325.1M343.6 117.1H332.4M343.6 114.4H333.6M343.6 111.6H336.2M343.6 105.7H339.5M343.6 115.8H354.2M343.6 113.4H351.2M343.6 110.5H350.7M343.6 105.0H347.7M343.6 102.3H347.2M371.9 115.0H360.9M371.9 112.6H362.5M371.9 110.0H364.2M371.9 107.5H366.4M371.9 115.3H380.5M371.9 101.4H374.8M371.9 98.8H373.5M393.1 117.0H384.0M393.1 112.0H385.4M393.1 100.6H391.3M393.1 117.8H401.2M393.1 115.6H401.2M393.1 113.1H401.2M393.1 102.8H396.4M294.1 118.3H286.0M294.1 118.3H301.8M308.2 117.0H299.8M322.4 118.1H334.2M322.4 115.5H333.6M343.6 118.2H353.8M371.9 117.7H362.4M371.9 117.8H381.0M371.9 112.6H380.2M371.9 109.7H378.7M294.1 115.6H286.1M294.1 113.0H286.5M294.1 110.5H288.3M294.1 104.9H289.7M294.1 102.2H291.4M294.1 107.4H299.9M294.1 99.3H295.2M308.2 108.3H301.8M308.2 105.7H302.7M308.2 114.6H316.3M308.2 106.6H313.0M308.2 104.0H312.1M308.2 98.8H309.9M322.4 105.8H317.7M322.4 110.0H330.1M322.4 99.6H324.3M343.6 108.7H336.9M343.6 102.7H340.4M343.6 100.2H341.4M343.6 107.8H349.4M343.6 99.3H345.1M371.9 104.5H368.3M371.9 102.0H368.8M371.9 99.2H370.3M371.9 106.7H378.1M371.9 104.0H376.5M393.1 114.4H383.0M393.1 109.0H387.8M393.1 106.4H387.5M393.1 103.5H390.2M393.1 110.6H400.3M393.1 108.2H399.1M393.1 105.3H397.0M393.1 100.0H394.8" stroke="#3cd8a0" stroke-width="1.7" fill="none" opacity="1"/>
<path d="M291.3 116.9H287.0M289.0 114.2H287.0M290.7 111.6H287.0M291.6 109.1H287.6M292.9 103.6H290.6M299.3 116.9H300.9M297.6 114.4H300.9M298.5 111.4H300.9M296.6 108.9H300.4M296.3 106.1H298.9M295.3 103.4H297.5M303.2 115.7H300.9M306.5 104.4H303.7M307.0 101.5H305.3M312.8 115.6H315.3M310.5 105.2H313.2M309.6 102.7H311.8M319.4 112.6H315.3M319.5 110.0H315.3M321.1 102.0H319.1M325.2 108.6H329.2M324.5 105.9H327.7M323.5 100.9H325.0M340.0 115.7H332.9M340.1 110.3H335.8M341.0 104.3H339.0M348.4 114.4H354.1M346.7 112.0H352.3M346.5 109.1H350.8M346.0 106.5H349.3M344.9 100.9H346.3M368.8 116.3H360.4M366.5 113.6H362.4M368.3 108.7H365.0M369.7 106.1H366.4M370.9 100.6H369.4M376.6 116.4H382.7M375.8 114.0H382.0M374.8 111.3H380.1M375.6 108.3H378.5M373.9 102.6H375.4M390.2 115.6H382.7M389.6 110.6H385.6M391.1 105.0H388.6M391.4 102.1H390.2M397.6 114.2H400.2M396.3 111.7H400.2M396.0 109.2H399.9M394.8 103.9H397.0M394.0 101.5H395.7" stroke="#20b8e8" stroke-width="1.1" fill="none" opacity="1"/>
<path d="M317.7 115.5H315.3M346.9 116.8H355.5M397.5 116.4H400.2" stroke="#1048e8" stroke-width="1.1" fill="none" opacity="1"/>
<path d="M288.3 111.6H287.0M288.6 109.1H287.3M291.3 103.6H290.5M292.7 100.9H292.0M300.9 116.9H300.9M300.8 114.4H300.9M298.5 108.9H300.7M297.8 106.1H299.2M295.5 100.6H296.1M302.5 109.8H300.9M303.6 106.9H302.1M305.1 104.4H303.5M305.9 101.5H305.2M307.0 98.7H306.7M315.3 115.6H315.3M315.0 113.2H315.3M314.6 110.7H315.3M312.5 105.2H313.4M309.8 100.1H310.5M315.3 115.5H315.3M316.0 112.6H315.3M317.8 107.0H316.2M318.9 104.5H317.6M330.1 116.7H332.9M329.9 114.2H332.7M329.5 111.5H331.1M326.8 105.9H328.0M324.5 100.9H325.1M336.8 113.1H333.9M338.8 107.3H337.1M340.3 104.3H338.8M341.5 101.3H340.5M342.4 98.8H341.9M350.8 114.4H354.1M350.5 112.0H352.7M349.7 109.1H351.1M345.5 100.9H346.4M362.6 116.3H360.4M363.8 113.6H361.9M366.2 108.7H364.7M368.0 106.1H366.2M379.9 116.4H382.7M378.8 114.0H382.0M376.9 108.3H378.9M374.8 102.6H375.6M385.5 115.6H382.7M386.8 110.6H385.2M389.4 105.0H388.4M390.8 102.1H390.1M392.1 99.3H391.6M400.2 116.4H400.2M400.0 114.2H400.2M400.0 111.7H400.2M397.4 106.8H398.8M396.1 103.9H397.2M395.3 101.5H395.8" stroke="#0c44d8" stroke-width="1.1" fill="none" opacity="1"/>
<path d="M294.1 115.6H287.9M294.1 113.0H288.2M294.1 110.5H289.7M294.1 104.9H290.7M294.1 102.2H292.0M294.1 107.4H298.6M294.1 99.3H295.0M308.2 108.3H303.3M308.2 105.7H304.0M308.2 114.6H314.5M308.2 106.6H311.9M308.2 104.0H311.2M308.2 98.8H309.5M322.4 105.8H318.8M322.4 110.0H328.3M322.4 99.6H323.8M343.6 108.7H338.4M343.6 102.7H341.1M343.6 100.2H341.9M343.6 107.8H348.1M343.6 99.3H344.7M371.9 104.5H369.1M371.9 102.0H369.5M371.9 99.2H370.7M371.9 106.7H376.7M371.9 104.0H375.4M393.1 114.4H385.3M393.1 109.0H389.0M393.1 106.4H388.8M393.1 103.5H390.9M393.1 110.6H398.7M393.1 108.2H397.7M393.1 105.3H396.1M393.1 100.0H394.4" stroke="#a0f050" stroke-width="1.0" fill="none" opacity="1"/>
<path d="M294.1 107.8H290.5M294.1 115.7H300.0M294.1 112.7H300.0M294.1 110.2H298.6M294.1 104.8H296.6M294.1 102.0H296.2M308.2 114.2H302.4M308.2 111.2H302.9M308.2 102.9H306.0M308.2 100.1H307.0M308.2 117.0H314.5M308.2 112.0H313.4M308.2 109.1H313.3M308.2 101.5H310.7M322.4 116.8H316.2M322.4 114.0H316.2M322.4 111.3H316.2M322.4 108.4H317.1M322.4 103.4H320.0M322.4 100.4H320.8M322.4 112.9H328.3M322.4 107.3H327.1M322.4 104.9H325.8M322.4 102.3H324.4M343.6 117.1H335.0M343.6 114.4H335.9M343.6 111.6H337.9M343.6 105.7H340.4M343.6 115.8H351.7M343.6 113.4H349.4M343.6 110.5H349.0M343.6 105.0H346.7M343.6 102.3H346.4M371.9 115.0H363.5M371.9 112.6H364.6M371.9 110.0H366.0M371.9 107.5H367.6M371.9 115.3H378.5M371.9 101.4H374.1M371.9 98.8H373.1M393.1 117.0H386.1M393.1 112.0H387.2M393.1 100.6H391.7M393.1 117.8H399.3M393.1 115.6H399.3M393.1 113.1H399.3M393.1 102.8H395.7" stroke="#eee820" stroke-width="1.0" fill="none" opacity="1"/>
<path d="M294.1 118.3H287.9M294.1 118.3H300.0M308.2 117.0H301.7M322.4 118.1H331.5M322.4 115.5H331.0M343.6 118.2H351.5M371.9 117.7H364.6M371.9 117.8H378.9M371.9 112.6H378.3M371.9 109.7H377.2" stroke="#f8a018" stroke-width="1.0" fill="none" opacity="1"/>
<path d="M300.5 119.9V117.0M300.4 117.0V112.5" stroke="#0c34d0" stroke-width="1.3" fill="none"/>
<path d="M315.6 119.9V117.7M315.6 116.5V113.1M315.3 111.8V110.8" stroke="#0c34d0" stroke-width="1.3" fill="none"/>
<path d="M332.6 119.9V117.7M333.2 117.7V116.9" stroke="#0c34d0" stroke-width="1.3" fill="none"/>
<path d="M382.9 119.9V117.2" stroke="#0c34d0" stroke-width="1.3" fill="none"/>
<path d="M294.1 119.3H393.1" stroke="#f4a820" stroke-width="0.8" fill="none"/>
<path d="M294.1 119.9V98.1" stroke="#f4ac20" stroke-width="1.2" fill="none"/>
<path d="M294.1 119.9V103.2" stroke="#ee5a18" stroke-width="0.6" fill="none"/>
<circle cx="294.1" cy="119.2" r="0.9" fill="#e01010"/>
<path d="M308.2 119.9V97.1" stroke="#f4ac20" stroke-width="1.2" fill="none"/>
<path d="M308.2 119.9V102.4" stroke="#ee5a18" stroke-width="0.6" fill="none"/>
<circle cx="308.2" cy="119.2" r="0.9" fill="#e01010"/>
<path d="M322.4 119.9V97.1" stroke="#f4ac20" stroke-width="1.2" fill="none"/>
<path d="M322.4 119.9V102.4" stroke="#ee5a18" stroke-width="0.6" fill="none"/>
<circle cx="322.4" cy="119.2" r="0.9" fill="#e01010"/>
<path d="M343.6 119.9V96.9" stroke="#f4ac20" stroke-width="1.2" fill="none"/>
<path d="M343.6 119.9V102.3" stroke="#ee5a18" stroke-width="0.6" fill="none"/>
<circle cx="343.6" cy="119.2" r="0.9" fill="#e01010"/>
<path d="M371.9 119.9V97.1" stroke="#f4ac20" stroke-width="1.2" fill="none"/>
<path d="M371.9 119.9V102.4" stroke="#ee5a18" stroke-width="0.6" fill="none"/>
<circle cx="371.9" cy="119.2" r="0.9" fill="#e01010"/>
<path d="M393.1 119.9V97.7" stroke="#f4ac20" stroke-width="1.2" fill="none"/>
<path d="M393.1 119.9V102.9" stroke="#ee5a18" stroke-width="0.6" fill="none"/>
<circle cx="393.1" cy="119.2" r="0.9" fill="#e01010"/>
</g></g></g>
<text x="300.0" y="28.5" class="lb">30s</text>
<text x="289.7" y="121.7" class="tk" text-anchor="end">0</text>
<text x="289.7" y="113.1" class="tk" text-anchor="end">1</text>
<text x="289.7" y="104.5" class="tk" text-anchor="end">2</text>
<text x="289.7" y="96.0" class="tk" text-anchor="end">3</text>
<text x="289.7" y="87.4" class="tk" text-anchor="end">4</text>
<text x="289.7" y="78.9" class="tk" text-anchor="end">5</text>
<text x="289.7" y="70.3" class="tk" text-anchor="end">6</text>
<text x="289.7" y="61.7" class="tk" text-anchor="end">7</text>
<text x="289.7" y="53.2" class="tk" text-anchor="end">8</text>
<text x="289.7" y="44.6" class="tk" text-anchor="end">9</text>
<text x="289.7" y="36.1" class="tk" text-anchor="end">10</text>
<text x="289.7" y="27.5" class="tk" text-anchor="end">11</text>
<text x="289.7" y="19.0" class="tk" text-anchor="end">12</text>
<text x="294.1" y="131.9" class="tk" text-anchor="middle">0</text>
<text x="308.2" y="131.9" class="tk" text-anchor="middle">2</text>
<text x="322.4" y="131.9" class="tk" text-anchor="middle">4</text>
<text x="336.5" y="131.9" class="tk" text-anchor="middle">6</text>
<text x="350.7" y="131.9" class="tk" text-anchor="middle">8</text>
<text x="364.8" y="131.9" class="tk" text-anchor="middle">10</text>
<text x="379.0" y="131.9" class="tk" text-anchor="middle">12</text>
<text x="280.7" y="12.7" class="tk" text-anchor="middle">µm</text>
<text x="395.0" y="130.1" class="tk" text-anchor="middle">µm</text>
<text x="343.0" y="9.0" class="tk" text-anchor="middle" fill="#7080a0">ξ</text>
<rect x="398.8" y="17.5" width="1.4" height="107.7" fill="url(#cb)" opacity="0.78"/>
<text x="400.5" y="126.8" class="ck">0</text>
<text x="400.5" y="115.4" class="ck">0.1</text>
<text x="400.5" y="104.0" class="ck">0.2</text>
<text x="400.5" y="92.6" class="ck">0.3</text>
<text x="400.5" y="81.3" class="ck">0.4</text>
<text x="400.5" y="69.9" class="ck">0.5</text>
<text x="400.5" y="58.5" class="ck">0.6</text>
<text x="400.5" y="47.2" class="ck">0.7</text>
<text x="400.5" y="35.8" class="ck">0.8</text>
<text x="400.5" y="24.4" class="ck">0.9</text>
<text transform="translate(285.2,66.0) rotate(-90)" class="yl" font-size="7.8" text-anchor="middle">Height / µm</text>
<text x="348.7" y="138.2" class="xl" text-anchor="middle">x / µm</text>
<rect x="423.5" y="10.6" width="108.5" height="117.1" fill="none" stroke="#e2e2e2" stroke-width="0.8"/>
<rect x="428.3" y="17.4" width="98.9" height="103.1" fill="#000084"/>
<clipPath id="c3"><rect x="428.3" y="17.4" width="98.9" height="103.1"/></clipPath>
<clipPath id="s3"><polygon points="428.3,120.5 428.3,91.0 429.0,92.4 429.7,94.1 430.4,95.9 431.1,97.0 431.8,98.2 432.5,99.5 433.2,100.9 434.0,102.4 434.7,103.9 434.9,104.5 435.4,103.5 436.1,101.9 436.8,100.4 437.5,98.9 438.2,97.6 438.9,96.3 439.6,95.0 440.3,93.9 441.0,92.1 441.7,90.4 442.4,89.1 443.1,90.4 443.8,92.1 444.5,93.9 445.3,95.0 446.0,96.3 446.7,97.6 447.4,98.9 448.1,100.4 448.8,101.9 449.2,102.8 449.5,102.0 450.2,100.4 450.9,98.9 451.6,97.5 452.3,96.1 453.0,94.8 453.7,93.6 454.4,92.5 455.1,90.6 455.9,89.0 456.6,87.6 457.3,89.0 458.0,90.6 458.7,92.5 459.4,93.6 460.1,94.8 460.8,96.1 461.5,97.5 462.2,98.9 462.9,100.4 463.6,102.0 464.3,103.7 465.0,105.4 465.7,107.1 466.4,108.9 467.0,110.4 467.2,110.1 467.9,108.3 468.6,106.5 469.3,104.8 470.0,103.1 470.7,101.4 471.4,99.8 472.1,98.3 472.8,96.9 473.5,95.5 474.2,94.2 474.9,93.0 475.6,91.9 476.3,90.0 477.0,88.4 477.8,87.0 478.5,88.4 479.2,90.0 479.9,91.9 480.6,93.0 481.3,94.2 482.0,95.5 482.7,96.9 483.4,98.3 484.1,99.8 484.8,101.4 485.5,103.1 486.2,104.8 486.9,106.5 487.6,108.3 488.3,110.1 489.1,112.0 489.8,114.0 490.5,115.9 491.2,118.0 491.9,120.0 492.1,120.5 492.6,119.0 493.3,117.0 494.0,115.0 494.7,113.1 495.4,111.2 496.1,109.3 496.8,107.5 497.5,105.8 498.2,104.1 498.9,102.5 499.6,100.9 500.4,99.4 501.1,97.9 501.8,96.5 502.5,95.2 503.2,94.0 503.9,92.9 504.6,91.1 505.3,89.4 506.0,88.0 506.7,89.4 507.4,91.1 508.1,92.9 508.8,94.0 509.5,95.2 510.2,96.5 511.0,97.9 511.7,99.4 512.4,100.9 513.1,102.5 513.8,104.1 514.5,105.8 515.2,107.5 515.9,109.3 516.6,111.2 516.9,111.8 517.3,110.6 518.0,108.8 518.7,107.1 519.4,105.4 520.1,103.7 520.8,102.2 521.5,100.6 522.3,99.2 523.0,97.8 523.7,96.5 524.4,95.3 525.1,94.2 525.8,92.4 526.5,90.7 527.2,89.3 527.2,120.5"/></clipPath>
<g clip-path="url(#c3)"><g filter="url(#bl)">
<polygon points="428.3,120.5 428.3,91.0 429.0,92.4 429.7,94.1 430.4,95.9 431.1,97.0 431.8,98.2 432.5,99.5 433.2,100.9 434.0,102.4 434.7,103.9 434.9,104.5 435.4,103.5 436.1,101.9 436.8,100.4 437.5,98.9 438.2,97.6 438.9,96.3 439.6,95.0 440.3,93.9 441.0,92.1 441.7,90.4 442.4,89.1 443.1,90.4 443.8,92.1 444.5,93.9 445.3,95.0 446.0,96.3 446.7,97.6 447.4,98.9 448.1,100.4 448.8,101.9 449.2,102.8 449.5,102.0 450.2,100.4 450.9,98.9 451.6,97.5 452.3,96.1 453.0,94.8 453.7,93.6 454.4,92.5 455.1,90.6 455.9,89.0 456.6,87.6 457.3,89.0 458.0,90.6 458.7,92.5 459.4,93.6 460.1,94.8 460.8,96.1 461.5,97.5 462.2,98.9 462.9,100.4 463.6,102.0 464.3,103.7 465.0,105.4 465.7,107.1 466.4,108.9 467.0,110.4 467.2,110.1 467.9,108.3 468.6,106.5 469.3,104.8 470.0,103.1 470.7,101.4 471.4,99.8 472.1,98.3 472.8,96.9 473.5,95.5 474.2,94.2 474.9,93.0 475.6,91.9 476.3,90.0 477.0,88.4 477.8,87.0 478.5,88.4 479.2,90.0 479.9,91.9 480.6,93.0 481.3,94.2 482.0,95.5 482.7,96.9 483.4,98.3 484.1,99.8 484.8,101.4 485.5,103.1 486.2,104.8 486.9,106.5 487.6,108.3 488.3,110.1 489.1,112.0 489.8,114.0 490.5,115.9 491.2,118.0 491.9,120.0 492.1,120.5 492.6,119.0 493.3,117.0 494.0,115.0 494.7,113.1 495.4,111.2 496.1,109.3 496.8,107.5 497.5,105.8 498.2,104.1 498.9,102.5 499.6,100.9 500.4,99.4 501.1,97.9 501.8,96.5 502.5,95.2 503.2,94.0 503.9,92.9 504.6,91.1 505.3,89.4 506.0,88.0 506.7,89.4 507.4,91.1 508.1,92.9 508.8,94.0 509.5,95.2 510.2,96.5 511.0,97.9 511.7,99.4 512.4,100.9 513.1,102.5 513.8,104.1 514.5,105.8 515.2,107.5 515.9,109.3 516.6,111.2 516.9,111.8 517.3,110.6 518.0,108.8 518.7,107.1 519.4,105.4 520.1,103.7 520.8,102.2 521.5,100.6 522.3,99.2 523.0,97.8 523.7,96.5 524.4,95.3 525.1,94.2 525.8,92.4 526.5,90.7 527.2,89.3 527.2,120.5" fill="#0c50ec" stroke="#0828c0" stroke-width="0.5"/>
<g clip-path="url(#s3)">
<path d="M428.3 91.3L429.6 94.2L430.9 97.2L432.5 100.1L433.9 103.0L435.1 105.9L436.3 108.8L437.4 111.7L438.5 114.7L439.6 117.6L440.6 120.5L416.0 120.5L417.0 117.6L418.1 114.7L419.2 111.7L420.3 108.8L421.5 105.9L422.7 103.0L424.1 100.1L425.7 97.2L427.0 94.2ZM442.4 89.4L443.8 92.5L445.3 95.6L446.9 98.7L448.4 101.8L449.7 104.9L450.9 108.0L452.1 111.2L453.2 114.3L454.3 117.4L455.3 120.5L429.5 120.5L430.6 117.4L431.7 114.3L432.8 111.2L434.0 108.0L435.2 104.9L436.5 101.8L437.9 98.7L439.6 95.6L441.0 92.5ZM456.6 87.9L458.0 91.2L459.6 94.4L461.3 97.7L462.7 101.0L464.1 104.2L465.4 107.5L466.6 110.7L467.7 114.0L468.9 117.2L469.9 120.5L443.2 120.5L444.3 117.2L445.4 114.0L446.5 110.7L447.7 107.5L449.0 104.2L450.4 101.0L451.9 97.7L453.5 94.4L455.1 91.2ZM477.8 87.3L479.2 90.6L480.8 94.0L482.5 97.3L484.0 100.6L485.4 103.9L486.7 107.2L487.9 110.5L489.1 113.9L490.2 117.2L491.3 120.5L464.2 120.5L465.3 117.2L466.4 113.9L467.6 110.5L468.8 107.2L470.1 103.9L471.5 100.6L473.0 97.3L474.7 94.0L476.3 90.6ZM506.0 88.3L507.4 91.6L509.0 94.8L510.6 98.0L512.1 101.2L513.5 104.4L514.7 107.6L515.9 110.9L517.1 114.1L518.2 117.3L519.3 120.5L492.8 120.5L493.8 117.3L494.9 114.1L496.1 110.9L497.3 107.6L498.6 104.4L499.9 101.2L501.4 98.0L503.0 94.8L504.6 91.6ZM527.2 89.6L528.6 92.7L530.0 95.8L531.6 98.9L533.1 102.0L534.4 105.1L535.6 108.1L536.8 111.2L537.9 114.3L539.0 117.4L540.0 120.5L514.4 120.5L515.4 117.4L516.5 114.3L517.6 111.2L518.8 108.1L520.0 105.1L521.3 102.0L522.8 98.9L524.4 95.8L525.8 92.7Z" fill="#22c8d0"/>
<path d="M428.3 91.8L429.5 94.6L430.7 97.5L432.1 100.4L433.3 103.3L434.5 106.1L435.6 109.0L436.6 111.9L437.5 114.8L438.5 117.6L439.4 120.5L417.2 120.5L418.1 117.6L419.1 114.8L420.0 111.9L421.0 109.0L422.1 106.1L423.3 103.3L424.5 100.4L425.9 97.5L427.1 94.6ZM442.4 89.8L443.7 92.9L445.0 96.0L446.5 99.0L447.8 102.1L449.0 105.2L450.1 108.2L451.2 111.3L452.2 114.4L453.2 117.4L454.1 120.5L430.7 120.5L431.7 117.4L432.7 114.4L433.7 111.3L434.8 108.2L435.9 105.2L437.1 102.1L438.4 99.0L439.8 96.0L441.2 92.9ZM456.6 88.4L457.9 91.6L459.3 94.8L460.8 98.0L462.1 101.2L463.4 104.5L464.5 107.7L465.6 110.9L466.7 114.1L467.7 117.3L468.7 120.5L444.4 120.5L445.4 117.3L446.4 114.1L447.5 110.9L448.6 107.7L449.7 104.5L451.0 101.2L452.3 98.0L453.8 94.8L455.3 91.6ZM477.8 87.8L479.1 91.1L480.5 94.4L482.1 97.6L483.4 100.9L484.7 104.2L485.8 107.4L487.0 110.7L488.0 114.0L489.1 117.2L490.0 120.5L465.5 120.5L466.4 117.2L467.5 114.0L468.5 110.7L469.7 107.4L470.8 104.2L472.1 100.9L473.4 97.6L475.0 94.4L476.4 91.1ZM506.0 88.8L507.3 92.0L508.7 95.2L510.2 98.3L511.5 101.5L512.7 104.7L513.9 107.8L515.0 111.0L516.0 114.2L517.0 117.3L518.0 120.5L494.0 120.5L495.0 117.3L496.0 114.2L497.0 111.0L498.1 107.8L499.3 104.7L500.5 101.5L501.8 98.3L503.3 95.2L504.7 92.0ZM527.2 90.1L528.4 93.1L529.8 96.2L531.2 99.2L532.5 102.3L533.7 105.3L534.8 108.3L535.9 111.4L536.9 114.4L537.9 117.5L538.8 120.5L515.6 120.5L516.5 117.5L517.5 114.4L518.5 111.4L519.6 108.3L520.7 105.3L521.9 102.3L523.2 99.2L524.6 96.2L526.0 93.1Z" fill="#44de8c"/>
<path d="M428.3 113.3H420.2M428.3 110.2H420.2M428.3 107.2H420.6M428.3 104.5H422.9M428.3 101.9H422.7M428.3 95.8H426.5M428.3 117.7H435.8M428.3 115.1H435.8M428.3 112.0H435.8M428.3 109.4H435.8M428.3 103.6H435.3M428.3 97.6H431.4M428.3 94.5H429.9M442.4 113.1H433.8M442.4 110.0H433.8M442.4 107.1H433.8M442.4 104.5H436.0M442.4 101.8H435.4M442.4 98.5H437.4M442.4 95.8H439.4M442.4 92.8H440.8M442.4 118.4H450.1M442.4 116.1H450.1M442.4 113.5H450.1M442.4 110.5H450.1M442.4 107.4H450.1M442.4 104.2H448.4M442.4 101.5H448.6M442.4 95.9H446.2M442.4 93.1H444.1M456.6 113.7H448.1M456.6 110.8H448.1M456.6 108.1H448.1M456.6 105.3H449.1M456.6 102.5H448.5M456.6 99.8H450.0M456.6 97.0H452.6M456.6 93.8H453.4M456.6 113.1H467.8M456.6 110.1H467.7M456.6 107.1H464.0M456.6 104.1H464.2M456.6 101.0H462.7M456.6 92.5H458.7M477.8 115.0H465.1M477.8 112.0H466.5M477.8 106.2H468.1M477.8 103.3H469.8M477.8 100.2H471.3M477.8 97.0H472.1M477.8 94.3H474.8M477.8 91.1H476.2M477.8 110.5H488.9M477.8 107.5H486.9M477.8 104.5H485.6M477.8 101.8H483.7M477.8 98.5H483.9M506.0 111.8H496.5M506.0 108.7H495.8M506.0 105.7H496.7M506.0 103.0H499.7M506.0 97.6H501.2M506.0 94.5H503.0M506.0 116.6H519.0M506.0 113.8H516.3M506.0 110.9H515.0M506.0 108.1H516.4M506.0 102.3H513.0M506.0 99.4H510.9M506.0 94.0H508.7M506.0 91.0H507.3M527.2 113.6H517.7M527.2 111.0H516.2M527.2 108.3H518.9M527.2 105.1H520.9M527.2 99.1H522.9M527.2 96.4H524.3M527.2 116.4H535.3M527.2 113.7H535.3M527.2 110.7H535.2M527.2 107.5H535.3M527.2 104.4H535.3M527.2 101.1H532.4M527.2 98.5H531.9M527.2 92.5H528.5M428.3 118.4H420.2M428.3 115.7H420.2M428.3 106.7H435.8M442.4 115.7H433.8M456.6 118.7H448.1M456.6 117.9H469.1M456.6 115.6H467.1M477.8 109.3H468.8M477.8 116.1H488.4M477.8 113.3H490.0M506.0 117.7H491.9M506.0 115.0H495.0M506.0 105.1H515.2M527.2 116.0H514.8M527.2 102.3H521.7M527.2 118.8H535.3M428.3 99.1H424.0M428.3 100.7H432.7M442.4 98.6H446.9M456.6 90.6H455.1M456.6 98.1H461.7M456.6 95.3H460.3M477.8 95.5H482.0M477.8 92.6H480.3M506.0 100.3H501.0M506.0 91.3H504.4M506.0 96.7H509.6M527.2 93.4H525.3M527.2 95.4H529.6M442.4 118.4H433.8M456.6 116.2H448.1M477.8 117.6H464.9M477.8 118.7H492.0M506.0 119.1H517.7M527.2 118.3H514.8" stroke="#3cd8a0" stroke-width="1.7" fill="none" opacity="1"/>
<path d="M423.1 114.2H421.2M423.9 111.8H421.2M423.5 108.8H421.2M426.6 100.4H423.4M431.8 113.6H434.9M433.2 110.6H434.9M432.6 108.0H434.9M430.7 105.2H434.9M431.3 102.1H434.1M430.0 99.2H432.6M429.5 96.2H430.7M439.1 117.0H434.9M438.5 114.3H434.9M439.8 103.0H435.2M440.3 100.3H436.5M440.4 97.0H438.3M441.2 94.3H439.9M447.1 117.0H449.2M447.4 114.6H449.2M446.8 109.0H449.2M446.1 105.9H449.2M446.4 102.7H449.2M453.2 117.2H449.2M452.2 114.8H449.2M453.7 106.6H449.2M452.6 103.8H449.2M453.4 98.3H450.9M454.8 95.6H452.4M455.4 92.4H454.4M460.8 116.5H467.0M459.7 114.1H467.0M460.5 111.7H467.0M459.6 108.6H467.0M460.3 102.7H464.3M458.9 99.5H462.8M458.6 96.6H461.3M457.9 93.9H459.7M474.5 116.1H467.0M473.4 113.6H467.0M473.8 110.5H467.0M473.3 107.9H467.1M473.9 104.7H468.9M475.1 101.9H470.1M475.1 98.7H471.6M475.6 95.5H473.3M476.1 92.8H474.9M482.3 117.2H492.1M482.9 114.6H491.2M480.7 109.1H488.9M481.5 106.1H487.7M482.0 103.1H485.9M480.6 100.3H484.6M480.6 97.0H483.0M478.9 94.0H481.3M501.2 116.3H492.3M502.7 113.5H493.4M502.7 110.3H494.7M501.3 107.2H496.1M502.1 104.2H497.8M503.0 101.5H499.0M510.2 117.6H516.8M510.5 112.4H516.8M508.9 109.5H516.8M510.8 106.7H515.7M510.4 103.6H514.0M508.6 100.9H512.7M507.8 98.0H511.2M522.6 116.8H516.8M523.7 114.6H516.8M523.7 109.6H516.8M524.1 106.8H518.4M524.9 100.8H521.2M525.0 97.6H522.8M526.1 94.9H524.5M530.2 117.3H534.3M532.3 114.9H534.3M530.4 112.2H534.3M530.3 109.2H534.3M529.1 97.0H531.2M528.0 93.9H529.3" stroke="#20b8e8" stroke-width="1.1" fill="none" opacity="1"/>
<path d="M426.0 103.0H422.0M431.4 116.3H434.9M438.2 108.6H434.9M443.5 94.5H445.0M482.6 111.9H490.1M509.8 115.1H516.8M531.5 106.1H534.3M530.4 102.9H534.2M530.1 99.6H532.6" stroke="#1048e8" stroke-width="1.1" fill="none" opacity="1"/>
<path d="M423.1 116.9H421.2" stroke="#0818b0" stroke-width="1.1" fill="none" opacity="1"/>
<path d="M421.2 116.9H421.2M421.2 114.2H421.2M421.2 111.8H421.2M422.0 108.8H421.2M423.1 105.7H421.2M424.2 103.0H421.7M424.8 100.4H423.1M426.3 97.6H424.8M427.3 94.4H426.6M434.9 116.3H434.9M434.8 113.6H434.9M434.8 110.6H434.9M433.8 108.0H434.9M432.8 105.2H434.9M432.2 102.1H434.4M431.5 99.2H432.8M429.7 96.2H430.8M434.9 117.0H434.9M434.9 114.3H434.9M435.4 111.6H434.9M435.5 108.6H434.9M437.0 105.7H434.9M437.5 103.0H434.9M438.0 100.3H436.3M439.8 97.0H438.1M440.6 94.3H439.8M449.2 117.0H449.2M449.2 114.6H449.2M449.1 112.1H449.2M449.0 109.0H449.2M448.6 105.9H449.2M447.5 102.7H449.2M446.3 100.1H448.5M445.4 97.1H446.8M444.1 94.5H445.1M449.2 117.2H449.2M449.2 114.8H449.2M449.2 112.3H449.2M449.2 109.4H449.2M450.7 106.6H449.2M451.1 103.8H449.2M451.5 101.0H449.3M453.2 98.3H450.7M453.5 95.6H452.2M455.0 92.4H454.3M466.4 116.5H467.0M464.9 114.1H467.0M465.0 111.7H467.0M464.3 108.6H467.0M463.3 105.6H466.0M462.1 102.7H464.6M461.0 99.5H463.1M460.0 96.6H461.5M458.8 93.9H459.9M457.6 91.1H458.3M469.8 116.1H467.0M469.1 113.6H467.0M469.8 110.5H467.0M470.1 107.9H467.1M472.0 104.7H468.4M472.5 101.9H469.8M474.1 98.7H471.3M475.0 95.5H473.1M476.0 92.8H474.7M487.8 117.2H492.1M486.4 114.6H491.2M486.0 111.9H490.1M485.0 109.1H488.9M484.6 106.1H487.7M483.9 103.1H486.3M482.8 100.3H485.0M481.3 97.0H483.3M480.0 94.0H481.5M478.9 91.1H479.8M496.4 116.3H492.3M497.2 113.5H493.4M498.8 110.3H494.7M499.1 107.2H496.1M500.5 104.2H497.4M501.2 101.5H498.7M502.5 98.9H500.1M503.5 96.2H501.5M504.4 93.0H503.6M514.1 117.6H516.8M514.8 115.1H516.8M514.8 112.4H516.8M512.6 109.5H516.8M511.6 106.7H515.7M511.7 103.6H514.3M510.3 100.9H513.0M509.7 98.0H511.5M508.8 95.2H509.9M507.5 92.6H508.2M519.5 116.8H516.8M519.8 114.6H516.8M519.0 112.2H516.8M520.5 109.6H516.8M520.6 106.8H518.0M521.6 103.7H519.5M523.1 100.8H520.9M524.5 97.6H522.6M525.4 94.9H524.3M534.3 117.3H534.3M534.3 114.9H534.3M534.3 112.2H534.3M533.9 109.2H534.3M532.8 106.1H534.3M532.0 102.9H534.3M530.6 99.6H532.9M530.0 97.0H531.4M528.5 93.9H529.4" stroke="#0c44d8" stroke-width="1.1" fill="none" opacity="1"/>
<path d="M428.3 99.1H425.0M428.3 100.7H431.7M442.4 98.6H445.9M456.6 90.6H455.4M456.6 98.1H460.5M456.6 95.3H459.4M477.8 95.5H481.0M477.8 92.6H479.7M506.0 100.3H502.2M506.0 91.3H504.8M506.0 96.7H508.7M527.2 93.4H525.8M527.2 95.4H529.1" stroke="#a0f050" stroke-width="1.0" fill="none" opacity="1"/>
<path d="M428.3 113.3H422.1M428.3 110.2H422.1M428.3 107.2H422.4M428.3 104.5H424.1M428.3 101.9H424.0M428.3 95.8H427.0M428.3 117.7H434.1M428.3 115.1H434.1M428.3 112.0H434.1M428.3 109.4H434.1M428.3 103.6H433.7M428.3 97.6H430.7M428.3 94.5H429.5M442.4 113.1H435.8M442.4 110.0H435.8M442.4 107.1H435.8M442.4 104.5H437.5M442.4 101.8H437.0M442.4 98.5H438.6M442.4 95.8H440.1M442.4 92.8H441.2M442.4 118.4H448.3M442.4 116.1H448.3M442.4 113.5H448.3M442.4 110.5H448.3M442.4 107.4H448.3M442.4 104.2H447.1M442.4 101.5H447.1M442.4 95.9H445.3M442.4 93.1H443.7M456.6 113.7H450.0M456.6 110.8H450.0M456.6 108.1H450.0M456.6 105.3H450.8M456.6 102.5H450.4M456.6 99.8H451.5M456.6 97.0H453.5M456.6 93.8H454.1M456.6 113.1H465.2M456.6 110.1H465.1M456.6 107.1H462.3M456.6 104.1H462.5M456.6 101.0H461.2M456.6 92.5H458.2M477.8 115.0H468.0M477.8 112.0H469.1M477.8 106.2H470.4M477.8 103.3H471.6M477.8 100.2H472.8M477.8 97.0H473.4M477.8 94.3H475.5M477.8 91.1H476.6M477.8 110.5H486.4M477.8 107.5H484.8M477.8 104.5H483.8M477.8 101.8H482.3M477.8 98.5H482.5M506.0 111.8H498.7M506.0 108.7H498.1M506.0 105.7H498.9M506.0 103.0H501.2M506.0 97.6H502.3M506.0 94.5H503.7M506.0 116.6H516.0M506.0 113.8H513.9M506.0 110.9H512.9M506.0 108.1H514.0M506.0 102.3H511.4M506.0 99.4H509.8M506.0 94.0H508.1M506.0 91.0H507.0M527.2 113.6H519.9M527.2 111.0H518.7M527.2 108.3H520.8M527.2 105.1H522.3M527.2 99.1H523.9M527.2 96.4H525.0M527.2 116.4H533.4M527.2 113.7H533.4M527.2 110.7H533.4M527.2 107.5H533.4M527.2 104.4H533.4M527.2 101.1H531.2M527.2 98.5H530.8M527.2 92.5H528.2" stroke="#eee820" stroke-width="1.0" fill="none" opacity="1"/>
<path d="M428.3 118.4H422.1M428.3 115.7H422.1M428.3 106.7H434.1M442.4 115.7H435.8M456.6 118.7H450.0M456.6 117.9H466.2M456.6 115.6H464.7M477.8 109.3H470.9M477.8 116.1H485.9M477.8 113.3H487.2M506.0 117.7H495.1M506.0 115.0H497.5M506.0 105.1H513.1M527.2 116.0H517.7M527.2 102.3H523.0M527.2 118.8H533.4" stroke="#f8a018" stroke-width="1.0" fill="none" opacity="1"/>
<path d="M442.4 118.4H435.8M456.6 116.2H450.0M477.8 117.6H467.9M477.8 118.7H488.7M506.0 119.1H515.0M527.2 118.3H517.7" stroke="#e84020" stroke-width="1.0" fill="none" opacity="1"/>
<path d="M434.5 120.5V116.8M434.5 115.5V111.9M434.6 110.6V106.3" stroke="#0c34d0" stroke-width="1.3" fill="none"/>
<path d="M449.0 120.5V117.3M449.2 116.0V112.8M449.5 111.5V108.5M449.0 108.5V105.2" stroke="#0c34d0" stroke-width="1.3" fill="none"/>
<path d="M467.4 120.5V116.0M467.4 114.7V112.4M467.6 112.4V111.5" stroke="#0c34d0" stroke-width="1.3" fill="none"/>
<path d="M516.8 120.5V116.7M516.9 116.7V114.4M516.9 114.4V112.7" stroke="#0c34d0" stroke-width="1.3" fill="none"/>
<path d="M428.3 119.9H527.2" stroke="#f4a820" stroke-width="0.8" fill="none"/>
<path d="M428.3 120.5V92.8" stroke="#f4ac20" stroke-width="1.2" fill="none"/>
<path d="M428.3 120.5V99.3" stroke="#ee5a18" stroke-width="0.6" fill="none"/>
<circle cx="428.3" cy="119.8" r="0.9" fill="#e01010"/>
<path d="M442.4 120.5V90.9" stroke="#f4ac20" stroke-width="1.2" fill="none"/>
<path d="M442.4 120.5V97.9" stroke="#ee5a18" stroke-width="0.6" fill="none"/>
<circle cx="442.4" cy="119.8" r="0.9" fill="#e01010"/>
<path d="M456.6 120.5V89.6" stroke="#f4ac20" stroke-width="1.2" fill="none"/>
<path d="M456.6 120.5V96.8" stroke="#ee5a18" stroke-width="0.6" fill="none"/>
<circle cx="456.6" cy="119.8" r="0.9" fill="#e01010"/>
<path d="M477.8 120.5V89.0" stroke="#f4ac20" stroke-width="1.2" fill="none"/>
<path d="M477.8 120.5V96.4" stroke="#ee5a18" stroke-width="0.6" fill="none"/>
<circle cx="477.8" cy="119.8" r="0.9" fill="#e01010"/>
<path d="M506.0 120.5V90.0" stroke="#f4ac20" stroke-width="1.2" fill="none"/>
<path d="M506.0 120.5V97.1" stroke="#ee5a18" stroke-width="0.6" fill="none"/>
<circle cx="506.0" cy="119.8" r="0.9" fill="#e01010"/>
<path d="M527.2 120.5V91.2" stroke="#f4ac20" stroke-width="1.2" fill="none"/>
<path d="M527.2 120.5V98.0" stroke="#ee5a18" stroke-width="0.6" fill="none"/>
<circle cx="527.2" cy="119.8" r="0.9" fill="#e01010"/>
</g></g></g>
<text x="432.3" y="28.5" class="lb">40s</text>
<text x="423.9" y="122.2" class="tk" text-anchor="end">0</text>
<text x="423.9" y="113.7" class="tk" text-anchor="end">1</text>
<text x="423.9" y="105.1" class="tk" text-anchor="end">2</text>
<text x="423.9" y="96.5" class="tk" text-anchor="end">3</text>
<text x="423.9" y="87.9" class="tk" text-anchor="end">4</text>
<text x="423.9" y="79.3" class="tk" text-anchor="end">5</text>
<text x="423.9" y="70.7" class="tk" text-anchor="end">6</text>
<text x="423.9" y="62.1" class="tk" text-anchor="end">7</text>
<text x="423.9" y="53.5" class="tk" text-anchor="end">8</text>
<text x="423.9" y="44.9" class="tk" text-anchor="end">9</text>
<text x="423.9" y="36.3" class="tk" text-anchor="end">10</text>
<text x="423.9" y="27.7" class="tk" text-anchor="end">11</text>
<text x="423.9" y="19.2" class="tk" text-anchor="end">12</text>
<text x="428.3" y="132.5" class="tk" text-anchor="middle">0</text>
<text x="442.4" y="132.5" class="tk" text-anchor="middle">2</text>
<text x="456.6" y="132.5" class="tk" text-anchor="middle">4</text>
<text x="470.7" y="132.5" class="tk" text-anchor="middle">6</text>
<text x="484.8" y="132.5" class="tk" text-anchor="middle">8</text>
<text x="498.9" y="132.5" class="tk" text-anchor="middle">10</text>
<text x="513.1" y="132.5" class="tk" text-anchor="middle">12</text>
<text x="414.9" y="12.9" class="tk" text-anchor="middle">µm</text>
<text x="529.1" y="130.7" class="tk" text-anchor="middle">µm</text>
<text x="477.1" y="9.2" class="tk" text-anchor="middle" fill="#7080a0">ξ</text>
<rect x="532.7" y="17.7" width="1.4" height="108.1" fill="url(#cb)" opacity="0.78"/>
<text x="534.4" y="127.4" class="ck">0</text>
<text x="534.4" y="116.0" class="ck">0.1</text>
<text x="534.4" y="104.6" class="ck">0.2</text>
<text x="534.4" y="93.2" class="ck">0.3</text>
<text x="534.4" y="81.9" class="ck">0.4</text>
<text x="534.4" y="70.5" class="ck">0.5</text>
<text x="534.4" y="59.1" class="ck">0.6</text>
<text x="534.4" y="47.8" class="ck">0.7</text>
<text x="534.4" y="36.4" class="ck">0.8</text>
<text x="534.4" y="25.0" class="ck">0.9</text>
<text transform="translate(418.3,66.3) rotate(-90)" class="yl" font-size="7.8" text-anchor="middle">Height / µm</text>
<text x="482.7" y="138.7" class="xl" text-anchor="middle">x / µm</text>
<rect x="20.0" y="146.2" width="108.5" height="117.1" fill="none" stroke="#e2e2e2" stroke-width="0.8"/>
<rect x="24.8" y="153.0" width="98.9" height="103.1" fill="#000084"/>
<clipPath id="c4"><rect x="24.8" y="153.0" width="98.9" height="103.1"/></clipPath>
<clipPath id="s4"><polygon points="24.8,256.1 24.8,218.8 25.5,220.4 26.2,222.2 26.9,224.3 27.6,225.3 28.3,226.4 29.0,227.6 29.7,228.9 30.5,230.2 31.2,231.7 31.6,232.5 31.9,231.9 32.6,230.4 33.3,228.9 34.0,227.6 34.7,226.3 35.4,225.1 36.1,224.0 36.8,223.0 37.5,221.0 38.2,219.1 38.9,217.5 39.6,219.1 40.3,221.0 41.0,223.0 41.8,224.0 42.5,225.1 43.2,226.3 43.9,227.6 44.6,228.9 45.3,230.4 45.7,231.2 46.0,230.6 46.7,229.1 47.4,227.7 48.1,226.3 48.8,225.0 49.5,223.8 50.2,222.7 50.9,221.7 51.6,219.7 52.4,217.8 53.1,216.2 53.8,217.8 54.5,219.7 55.2,221.7 55.9,222.7 56.6,223.8 57.3,225.0 58.0,226.3 58.7,227.7 59.4,229.1 60.1,230.6 60.8,232.1 61.5,233.8 62.2,235.4 62.9,237.1 63.5,238.6 63.7,238.2 64.4,236.5 65.1,234.7 65.8,233.1 66.5,231.5 67.2,229.9 67.9,228.4 68.6,227.0 69.3,225.6 70.0,224.3 70.7,223.1 71.4,222.0 72.1,221.0 72.8,219.0 73.5,217.1 74.2,215.5 75.0,217.1 75.7,219.0 76.4,221.0 77.1,222.0 77.8,223.1 78.5,224.3 79.2,225.6 79.9,227.0 80.6,228.4 81.3,229.9 82.0,231.5 82.7,233.1 83.4,234.7 84.1,236.5 84.8,238.2 85.6,240.1 86.3,241.9 87.0,243.8 87.7,245.8 88.4,247.8 88.5,248.1 89.1,246.5 89.8,244.5 90.5,242.6 91.2,240.7 91.9,238.9 92.6,237.1 93.3,235.4 94.0,233.8 94.7,232.1 95.4,230.6 96.1,229.1 96.9,227.7 97.6,226.3 98.3,225.0 99.0,223.8 99.7,222.7 100.4,221.7 101.1,219.7 101.8,217.8 102.5,216.2 103.2,217.8 103.9,219.7 104.6,221.7 105.3,222.7 106.0,223.8 106.7,225.0 107.5,226.3 108.2,227.7 108.9,229.1 109.6,230.6 110.3,232.1 111.0,233.8 111.7,235.4 112.4,237.1 113.1,238.9 113.3,239.3 113.8,238.0 114.5,236.3 115.2,234.6 115.9,233.0 116.6,231.4 117.3,229.9 118.0,228.5 118.8,227.2 119.5,225.9 120.2,224.7 120.9,223.6 121.6,222.6 122.3,220.5 123.0,218.7 123.7,217.1 123.7,256.1"/></clipPath>
<g clip-path="url(#c4)"><g filter="url(#bl)">
<polygon points="24.8,256.1 24.8,218.8 25.5,220.4 26.2,222.2 26.9,224.3 27.6,225.3 28.3,226.4 29.0,227.6 29.7,228.9 30.5,230.2 31.2,231.7 31.6,232.5 31.9,231.9 32.6,230.4 33.3,228.9 34.0,227.6 34.7,226.3 35.4,225.1 36.1,224.0 36.8,223.0 37.5,221.0 38.2,219.1 38.9,217.5 39.6,219.1 40.3,221.0 41.0,223.0 41.8,224.0 42.5,225.1 43.2,226.3 43.9,227.6 44.6,228.9 45.3,230.4 45.7,231.2 46.0,230.6 46.7,229.1 47.4,227.7 48.1,226.3 48.8,225.0 49.5,223.8 50.2,222.7 50.9,221.7 51.6,219.7 52.4,217.8 53.1,216.2 53.8,217.8 54.5,219.7 55.2,221.7 55.9,222.7 56.6,223.8 57.3,225.0 58.0,226.3 58.7,227.7 59.4,229.1 60.1,230.6 60.8,232.1 61.5,233.8 62.2,235.4 62.9,237.1 63.5,238.6 63.7,238.2 64.4,236.5 65.1,234.7 65.8,233.1 66.5,231.5 67.2,229.9 67.9,228.4 68.6,227.0 69.3,225.6 70.0,224.3 70.7,223.1 71.4,222.0 72.1,221.0 72.8,219.0 73.5,217.1 74.2,215.5 75.0,217.1 75.7,219.0 76.4,221.0 77.1,222.0 77.8,223.1 78.5,224.3 79.2,225.6 79.9,227.0 80.6,228.4 81.3,229.9 82.0,231.5 82.7,233.1 83.4,234.7 84.1,236.5 84.8,238.2 85.6,240.1 86.3,241.9 87.0,243.8 87.7,245.8 88.4,247.8 88.5,248.1 89.1,246.5 89.8,244.5 90.5,242.6 91.2,240.7 91.9,238.9 92.6,237.1 93.3,235.4 94.0,233.8 94.7,232.1 95.4,230.6 96.1,229.1 96.9,227.7 97.6,226.3 98.3,225.0 99.0,223.8 99.7,222.7 100.4,221.7 101.1,219.7 101.8,217.8 102.5,216.2 103.2,217.8 103.9,219.7 104.6,221.7 105.3,222.7 106.0,223.8 106.7,225.0 107.5,226.3 108.2,227.7 108.9,229.1 109.6,230.6 110.3,232.1 111.0,233.8 111.7,235.4 112.4,237.1 113.1,238.9 113.3,239.3 113.8,238.0 114.5,236.3 115.2,234.6 115.9,233.0 116.6,231.4 117.3,229.9 118.0,228.5 118.8,227.2 119.5,225.9 120.2,224.7 120.9,223.6 121.6,222.6 122.3,220.5 123.0,218.7 123.7,217.1 123.7,256.1" fill="#0c50ec" stroke="#0828c0" stroke-width="0.5"/>
<g clip-path="url(#s4)">
<path d="M24.8 219.2L26.2 222.9L28.1 226.6L30.1 230.3L31.8 234.0L33.3 237.6L34.7 241.3L36.1 245.0L37.4 248.7L38.7 252.4L39.9 256.1L9.7 256.1L10.9 252.4L12.2 248.7L13.5 245.0L14.9 241.3L16.3 237.6L17.8 234.0L19.5 230.3L21.5 226.6L23.4 222.9ZM38.9 217.9L40.4 221.7L42.4 225.5L44.4 229.4L46.1 233.2L47.7 237.0L49.2 240.8L50.6 244.6L51.9 248.5L53.2 252.3L54.4 256.1L23.5 256.1L24.7 252.3L26.0 248.5L27.3 244.6L28.7 240.8L30.2 237.0L31.7 233.2L33.5 229.4L35.5 225.5L37.4 221.7ZM53.1 216.6L54.6 220.6L56.6 224.5L58.7 228.5L60.5 232.4L62.1 236.4L63.6 240.3L65.0 244.3L66.4 248.2L67.7 252.2L68.9 256.1L37.2 256.1L38.4 252.2L39.7 248.2L41.1 244.3L42.5 240.3L44.0 236.4L45.7 232.4L47.4 228.5L49.5 224.5L51.5 220.6ZM74.2 216.0L75.8 220.0L77.9 224.0L80.0 228.0L81.8 232.0L83.4 236.0L84.9 240.0L86.4 244.1L87.7 248.1L89.1 252.1L90.3 256.1L58.2 256.1L59.4 252.1L60.8 248.1L62.1 244.1L63.6 240.0L65.1 236.0L66.7 232.0L68.5 228.0L70.6 224.0L72.7 220.0ZM102.5 216.6L104.0 220.6L106.1 224.5L108.1 228.5L109.9 232.4L111.5 236.4L113.0 240.3L114.5 244.3L115.8 248.2L117.1 252.2L118.4 256.1L86.6 256.1L87.9 252.2L89.2 248.2L90.6 244.3L92.0 240.3L93.5 236.4L95.1 232.4L96.9 228.5L98.9 224.5L101.0 220.6ZM123.7 217.5L125.2 221.3L127.2 225.2L129.2 229.1L131.0 232.9L132.5 236.8L134.0 240.7L135.4 244.5L136.8 248.4L138.1 252.2L139.3 256.1L108.1 256.1L109.3 252.2L110.6 248.4L112.0 244.5L113.4 240.7L114.9 236.8L116.4 232.9L118.2 229.1L120.2 225.2L122.2 221.3Z" fill="#22c8d0"/>
<path d="M24.8 219.7L26.1 223.4L27.8 227.0L29.6 230.7L31.1 234.3L32.5 237.9L33.8 241.6L35.0 245.2L36.2 248.8L37.3 252.5L38.4 256.1L11.2 256.1L12.3 252.5L13.4 248.8L14.6 245.2L15.8 241.6L17.1 237.9L18.5 234.3L20.0 230.7L21.8 227.0L23.5 223.4ZM38.9 218.5L40.3 222.2L42.0 226.0L43.9 229.8L45.4 233.5L46.9 237.3L48.2 241.1L49.5 244.8L50.7 248.6L51.8 252.3L52.9 256.1L24.9 256.1L26.0 252.3L27.2 248.6L28.4 244.8L29.7 241.1L31.0 237.3L32.4 233.5L34.0 229.8L35.8 226.0L37.6 222.2ZM53.1 217.2L54.4 221.1L56.3 225.0L58.1 228.9L59.8 232.8L61.2 236.7L62.6 240.6L63.9 244.4L65.1 248.3L66.3 252.2L67.4 256.1L38.7 256.1L39.8 252.2L41.0 248.3L42.2 244.4L43.5 240.6L44.9 236.7L46.4 232.8L48.0 228.9L49.8 225.0L51.7 221.1ZM74.2 216.6L75.7 220.5L77.6 224.5L79.4 228.4L81.1 232.4L82.5 236.3L83.9 240.3L85.2 244.2L86.5 248.2L87.7 252.1L88.8 256.1L59.7 256.1L60.8 252.1L62.0 248.2L63.3 244.2L64.6 240.3L66.0 236.3L67.4 232.4L69.1 228.4L70.9 224.5L72.8 220.5ZM102.5 217.2L103.9 221.1L105.8 225.0L107.6 228.9L109.2 232.8L110.7 236.7L112.0 240.6L113.3 244.4L114.6 248.3L115.7 252.2L116.9 256.1L88.1 256.1L89.3 252.2L90.5 248.3L91.7 244.4L93.0 240.6L94.3 236.7L95.8 232.8L97.4 228.9L99.3 225.0L101.1 221.1ZM123.7 218.1L125.1 221.9L126.9 225.7L128.7 229.5L130.3 233.3L131.7 237.1L133.1 240.9L134.3 244.7L135.5 248.5L136.7 252.3L137.8 256.1L109.6 256.1L110.7 252.3L111.9 248.5L113.1 244.7L114.3 240.9L115.7 237.1L117.1 233.3L118.7 229.5L120.5 225.7L122.3 221.9Z" fill="#44de8c"/>
<path d="M24.8 253.1H16.7M24.8 245.7H16.7M24.8 239.5H16.7M24.8 236.6H16.7M24.8 233.6H18.4M24.8 230.1H19.9M24.8 226.7H21.6M24.8 223.6H22.8M24.8 249.2H32.5M24.8 246.4H32.5M24.8 243.3H32.5M24.8 240.3H32.5M24.8 237.4H32.5M24.8 233.9H32.5M24.8 227.5H29.1M24.8 224.2H26.8M38.9 253.7H30.5M38.9 251.3H30.5M38.9 248.8H30.5M38.9 243.1H30.5M38.9 239.7H30.5M38.9 236.4H31.0M38.9 232.9H31.5M38.9 230.0H33.6M38.9 227.2H33.9M38.9 224.3H35.6M38.9 246.2H46.6M38.9 243.3H46.6M38.9 240.3H46.6M38.9 237.2H46.6M38.9 234.1H46.6M38.9 230.5H44.6M38.9 224.2H42.2M38.9 221.2H40.4M53.1 243.4H44.6M53.1 240.5H44.6M53.1 237.6H44.6M53.1 234.6H44.6M53.1 231.6H47.0M53.1 228.3H48.1M53.1 225.0H49.5M53.1 222.1H50.4M53.1 250.6H65.6M53.1 245.6H64.5M53.1 242.6H64.7M53.1 239.7H63.8M53.1 236.4H62.6M53.1 230.4H59.4M53.1 226.9H58.6M53.1 223.7H56.4M53.1 220.4H54.9M74.2 251.7H61.4M74.2 249.3H61.5M74.2 243.2H61.4M74.2 240.3H62.5M74.2 237.2H65.4M74.2 234.0H66.3M74.2 230.7H66.2M74.2 227.7H69.0M74.2 221.0H72.4M74.2 254.2H89.2M74.2 247.2H85.9M74.2 244.0H85.0M74.2 240.8H86.9M74.2 237.5H82.9M74.2 234.1H81.8M74.2 230.8H80.8M74.2 224.0H78.4M74.2 220.6H75.9M102.5 240.6H90.3M102.5 237.7H91.4M102.5 234.4H94.3M102.5 228.1H97.3M102.5 218.8H101.3M102.5 246.4H114.6M102.5 239.5H112.7M102.5 236.5H110.4M102.5 233.6H110.9M102.5 230.3H108.3M102.5 227.1H108.4M102.5 223.8H105.8M102.5 220.6H104.1M123.7 247.2H111.8M123.7 240.5H112.6M123.7 231.3H116.3M123.7 227.9H118.6M123.7 221.1H122.1M123.7 246.2H131.8M123.7 243.2H131.8M123.7 240.4H131.8M123.7 237.5H131.8M123.7 230.8H129.7M123.7 227.4H128.0M123.7 224.5H127.3M24.8 250.8H16.7M24.8 248.3H16.7M24.8 242.5H16.7M24.8 254.5H32.5M24.8 252.0H32.5M38.9 246.4H30.5M38.9 251.0H46.6M38.9 248.6H46.6M53.1 251.5H44.6M53.1 249.3H44.6M53.1 246.6H44.6M53.1 253.3H65.6M53.1 248.0H65.6M53.1 233.3H60.3M74.2 246.7H62.1M74.2 252.0H90.1M102.5 254.5H85.4M102.5 249.6H87.5M102.5 246.9H87.4M102.5 243.5H92.4M102.5 231.3H94.2M102.5 253.6H115.4M102.5 250.9H115.4M102.5 248.7H115.4M102.5 242.9H114.6M123.7 254.7H111.2M123.7 249.9H111.2M123.7 243.7H112.2M123.7 237.7H115.8M123.7 234.1H116.0M123.7 254.3H131.8M123.7 251.5H131.8M123.7 248.8H131.8M123.7 234.0H131.8M24.8 230.7H30.5M38.9 220.8H37.6M38.9 227.2H43.2M74.2 224.2H69.6M74.2 227.4H80.0M102.5 224.9H98.1M102.5 221.9H100.1M123.7 224.6H120.4M123.7 221.4H125.2M38.9 253.7H46.6M53.1 254.1H44.6M74.2 254.3H61.4M74.2 249.5H86.7M102.5 252.0H89.6M123.7 252.3H111.2" stroke="#3cd8a0" stroke-width="1.7" fill="none" opacity="1"/>
<path d="M19.8 251.5H17.7M20.6 249.3H17.7M21.3 244.1H17.7M20.6 237.9H17.7M21.1 235.0H17.7M22.5 232.0H18.0M22.0 228.5H19.8M23.8 225.1H21.9M29.7 252.9H31.6M29.6 250.4H31.6M27.8 229.1H30.1M34.6 252.1H31.6M33.7 249.8H31.6M33.7 247.3H31.6M36.0 241.5H31.6M34.0 238.1H31.6M34.6 234.8H31.6M37.4 225.6H34.9M42.5 252.1H45.7M43.0 247.0H45.7M42.5 244.6H45.7M42.1 241.7H45.7M41.8 238.7H45.7M42.8 232.5H45.7M40.5 225.6H43.0M48.3 247.7H45.7M49.4 241.8H45.7M49.5 236.0H45.7M49.3 233.1H45.7M51.2 223.4H49.6M56.9 251.7H63.5M57.0 231.7H61.0M54.5 222.1H55.6M69.4 250.1H63.5M69.4 245.1H63.5M70.7 241.6H63.5M69.3 235.6H63.8M70.7 232.5H65.6M71.2 229.2H67.2M73.1 222.6H70.9M78.4 250.4H88.5M77.4 247.9H88.5M79.4 235.9H84.9M78.1 229.2H81.4M77.0 225.8H79.5M98.6 252.9H88.5M99.2 250.4H88.5M98.4 248.0H88.5M98.7 242.0H89.6M98.8 236.1H92.1M99.7 229.7H95.5M100.9 223.3H99.1M104.9 228.7H109.0M104.5 225.5H107.3M119.4 253.1H113.3M120.7 250.7H113.3M120.1 245.6H113.3M120.3 238.9H113.3M119.3 232.6H115.7M120.5 229.7H117.1M126.9 238.8H130.8M128.8 235.9H130.8M127.3 229.2H130.0M125.4 225.8H128.1" stroke="#20b8e8" stroke-width="1.1" fill="none" opacity="1"/>
<path d="M21.3 246.7H17.7M21.0 240.9H17.7M28.1 238.7H31.6M27.2 232.3H31.6M35.6 244.8H31.6M35.3 231.3H31.8M36.0 228.4H33.3M38.0 222.7H36.8M44.1 249.4H45.7M43.8 235.6H45.7M41.5 229.0H44.9M48.6 252.5H45.7M49.5 249.9H45.7M50.1 238.9H45.7M57.9 249.0H63.5M56.0 246.4H63.5M57.5 244.0H63.5M57.8 238.1H63.5M56.2 234.8H62.9M55.4 228.9H59.6M55.2 225.3H57.7M70.7 252.7H63.5M70.1 247.8H63.5M71.2 238.7H63.5M78.4 245.6H88.5M78.1 242.4H87.6M77.9 232.5H82.9M99.5 239.0H90.8M99.0 232.8H94.0M99.5 226.5H97.2M106.2 252.0H113.3M106.2 249.3H113.3M106.1 247.1H113.3M107.6 237.9H113.3M103.6 222.2H105.1M119.4 248.3H113.3M120.5 242.1H113.3M119.5 236.1H113.7M121.3 226.3H119.0M128.1 252.7H130.8M128.7 249.9H130.8M128.7 247.3H130.8M129.0 241.6H130.8M127.6 232.4H130.8" stroke="#1048e8" stroke-width="1.1" fill="none" opacity="1"/>
<path d="M29.1 247.6H31.6M29.1 244.9H31.6M29.0 241.7H31.6M48.6 245.0H45.7M78.8 252.6H88.5M107.7 244.8H113.3M107.8 241.3H113.3M105.9 234.9H112.4" stroke="#0818b0" stroke-width="1.1" fill="none" opacity="1"/>
<path d="M17.7 251.5H17.7M17.7 249.3H17.7M17.7 246.7H17.7M17.7 244.1H17.7M17.8 240.9H17.7M18.1 237.9H17.7M19.0 235.0H17.7M20.1 232.0H17.7M21.6 228.5H19.6M22.9 225.1H21.8M23.7 222.0H23.3M31.6 252.9H31.6M31.6 250.4H31.6M31.6 247.6H31.6M31.6 244.9H31.6M31.6 241.7H31.6M31.4 238.7H31.6M31.3 235.8H31.6M30.0 232.3H31.6M28.4 229.1H30.4M27.2 225.9H28.4M25.9 222.6H26.5M31.6 252.1H31.6M31.6 249.8H31.6M31.6 247.3H31.6M31.6 244.8H31.6M31.6 241.5H31.6M32.3 238.1H31.6M33.3 234.8H31.6M34.5 231.3H31.6M35.0 228.4H33.0M36.3 225.6H34.7M37.5 222.7H36.7M45.7 252.1H45.7M45.7 249.4H45.7M45.7 247.0H45.7M45.7 244.6H45.7M45.7 241.7H45.7M45.5 238.7H45.7M44.8 235.6H45.7M43.9 232.5H45.7M42.7 229.0H45.2M41.6 225.6H43.2M40.4 222.7H41.1M45.7 252.5H45.7M45.7 249.9H45.7M45.7 247.7H45.7M45.7 245.0H45.7M45.7 241.8H45.7M45.7 238.9H45.7M47.2 236.0H45.7M47.6 233.1H45.7M48.5 230.0H45.7M49.1 226.7H47.4M50.6 223.4H49.5M51.8 220.5H51.2M63.5 251.7H63.5M63.5 249.0H63.5M62.0 246.4H63.5M62.4 244.0H63.5M60.9 241.0H63.5M60.4 238.1H63.5M59.9 234.8H62.9M58.0 231.7H61.4M57.1 228.9H59.9M56.6 225.3H57.9M54.6 222.1H55.7M63.5 252.7H63.5M63.5 250.1H63.5M64.6 247.8H63.5M64.6 245.1H63.5M66.5 241.6H63.5M65.7 238.7H63.5M66.9 235.6H63.8M68.5 232.5H65.2M69.7 229.2H66.9M70.6 226.1H68.5M71.8 222.6H70.7M73.2 219.4H72.5M84.6 252.6H88.5M84.7 250.4H88.5M84.4 247.9H88.5M83.7 245.6H88.5M82.0 242.4H87.6M82.6 239.2H86.3M80.5 235.9H84.9M79.7 232.5H83.3M79.0 229.2H81.7M77.5 225.8H79.8M76.4 222.4H77.6M75.3 219.1H75.8M92.3 252.9H88.5M91.2 250.4H88.5M91.6 248.0H88.5M94.1 245.4H88.5M93.8 242.0H89.6M94.7 239.0H90.8M96.4 236.1H92.1M96.7 232.8H93.6M97.6 229.7H95.2M98.5 226.5H96.9M100.2 223.3H99.0M101.3 220.3H100.7M112.2 252.0H113.3M112.0 249.3H113.3M112.4 247.1H113.3M111.7 244.8H113.3M110.9 241.3H113.3M109.7 237.9H113.3M109.2 234.9H112.4M107.6 232.0H111.0M106.7 228.7H109.3M105.5 225.5H107.5M104.1 222.2H105.3M103.3 219.0H103.8M114.0 253.1H113.3M113.3 250.7H113.3M113.5 248.3H113.3M114.0 245.6H113.3M114.6 242.1H113.3M115.5 238.9H113.3M117.2 236.1H113.7M118.0 232.6H115.4M119.3 229.7H116.8M120.8 226.3H118.8M121.9 223.0H121.0M130.8 252.7H130.8M130.8 249.9H130.8M130.8 247.3H130.8M130.8 244.7H130.8M130.8 241.6H130.8M130.8 238.8H130.8M129.8 235.9H130.8M129.4 232.4H130.8M127.5 229.2H130.3M126.6 225.8H128.3M125.3 222.9H126.3" stroke="#0c44d8" stroke-width="1.1" fill="none" opacity="1"/>
<path d="M24.8 230.7H29.2M38.9 220.8H37.9M38.9 227.2H42.2M74.2 224.2H70.6M74.2 227.4H78.7M102.5 224.9H99.1M102.5 221.9H100.7M123.7 224.6H121.2M123.7 221.4H124.9" stroke="#a0f050" stroke-width="1.0" fill="none" opacity="1"/>
<path d="M24.8 253.1H18.6M24.8 245.7H18.6M24.8 239.5H18.6M24.8 236.6H18.6M24.8 233.6H19.9M24.8 230.1H21.0M24.8 226.7H22.3M24.8 223.6H23.3M24.8 249.2H30.7M24.8 246.4H30.7M24.8 243.3H30.7M24.8 240.3H30.7M24.8 237.4H30.7M24.8 233.9H30.7M24.8 227.5H28.1M24.8 224.2H26.4M38.9 253.7H32.4M38.9 251.3H32.4M38.9 248.8H32.4M38.9 243.1H32.4M38.9 239.7H32.4M38.9 236.4H32.9M38.9 232.9H33.2M38.9 230.0H34.8M38.9 227.2H35.1M38.9 224.3H36.4M38.9 246.2H44.8M38.9 243.3H44.8M38.9 240.3H44.8M38.9 237.2H44.8M38.9 234.1H44.8M38.9 230.5H43.3M38.9 224.2H41.4M38.9 221.2H40.1M53.1 243.4H46.5M53.1 240.5H46.5M53.1 237.6H46.5M53.1 234.6H46.5M53.1 231.6H48.4M53.1 228.3H49.3M53.1 225.0H50.4M53.1 222.1H51.0M53.1 250.6H62.7M53.1 245.6H61.8M53.1 242.6H62.1M53.1 239.7H61.4M53.1 236.4H60.4M53.1 230.4H58.0M53.1 226.9H57.3M53.1 223.7H55.6M53.1 220.4H54.5M74.2 251.7H64.4M74.2 249.3H64.5M74.2 243.2H64.4M74.2 240.3H65.2M74.2 237.2H67.5M74.2 234.0H68.1M74.2 230.7H68.1M74.2 227.7H70.2M74.2 221.0H72.8M74.2 254.2H85.8M74.2 247.2H83.2M74.2 244.0H82.5M74.2 240.8H83.9M74.2 237.5H80.9M74.2 234.1H80.1M74.2 230.8H79.3M74.2 224.0H77.5M74.2 220.6H75.5M102.5 240.6H93.1M102.5 237.7H94.0M102.5 234.4H96.2M102.5 228.1H98.5M102.5 218.8H101.6M102.5 246.4H111.8M102.5 239.5H110.4M102.5 236.5H108.5M102.5 233.6H109.0M102.5 230.3H107.0M102.5 227.1H107.0M102.5 223.8H105.1M102.5 220.6H103.7M123.7 247.2H114.5M123.7 240.5H115.2M123.7 231.3H118.0M123.7 227.9H119.8M123.7 221.1H122.4M123.7 246.2H129.9M123.7 243.2H129.9M123.7 240.4H129.9M123.7 237.5H129.9M123.7 230.8H128.3M123.7 227.4H127.0M123.7 224.5H126.4" stroke="#eee820" stroke-width="1.0" fill="none" opacity="1"/>
<path d="M24.8 250.8H18.6M24.8 248.3H18.6M24.8 242.5H18.6M24.8 254.5H30.7M24.8 252.0H30.7M38.9 246.4H32.4M38.9 251.0H44.8M38.9 248.6H44.8M53.1 251.5H46.5M53.1 249.3H46.5M53.1 246.6H46.5M53.1 253.3H62.7M53.1 248.0H62.7M53.1 233.3H58.6M74.2 246.7H64.9M74.2 252.0H86.5M102.5 254.5H89.3M102.5 249.6H91.0M102.5 246.9H90.9M102.5 243.5H94.7M102.5 231.3H96.1M102.5 253.6H112.4M102.5 250.9H112.4M102.5 248.7H112.4M102.5 242.9H111.8M123.7 254.7H114.1M123.7 249.9H114.1M123.7 243.7H114.8M123.7 237.7H117.6M123.7 234.1H117.8M123.7 254.3H129.9M123.7 251.5H129.9M123.7 248.8H129.9M123.7 234.0H129.9" stroke="#f8a018" stroke-width="1.0" fill="none" opacity="1"/>
<path d="M38.9 253.7H44.8M53.1 254.1H46.5M74.2 254.3H64.4M74.2 249.5H83.8M102.5 252.0H92.6M123.7 252.3H114.1" stroke="#e84020" stroke-width="1.0" fill="none" opacity="1"/>
<path d="M31.8 256.1V253.2M31.3 253.2V250.9M31.6 250.9V247.7M31.4 247.7V245.5M31.7 244.3V240.7M31.8 240.7V236.0" stroke="#0c34d0" stroke-width="1.3" fill="none"/>
<path d="M45.9 256.1V252.9M45.6 252.9V248.3M45.6 248.3V245.1M46.3 245.1V242.9M46.2 241.6V238.8M45.6 237.5V234.8" stroke="#0c34d0" stroke-width="1.3" fill="none"/>
<path d="M63.1 256.1V251.8M64.0 250.5V248.2M63.3 246.9V243.1M63.3 243.1V240.3" stroke="#0c34d0" stroke-width="1.3" fill="none"/>
<path d="M88.8 256.1V251.8M88.6 251.8V248.9" stroke="#0c34d0" stroke-width="1.3" fill="none"/>
<path d="M113.4 256.1V252.0M113.5 252.0V248.9M113.4 248.9V245.0M113.4 245.0V241.4" stroke="#0c34d0" stroke-width="1.3" fill="none"/>
<path d="M24.8 255.5H123.7" stroke="#f4a820" stroke-width="0.8" fill="none"/>
<path d="M24.8 256.1V221.0" stroke="#f4ac20" stroke-width="1.2" fill="none"/>
<path d="M24.8 256.1V229.3" stroke="#ee5a18" stroke-width="0.6" fill="none"/>
<circle cx="24.8" cy="255.4" r="0.9" fill="#e01010"/>
<path d="M38.9 256.1V219.8" stroke="#f4ac20" stroke-width="1.2" fill="none"/>
<path d="M38.9 256.1V228.3" stroke="#ee5a18" stroke-width="0.6" fill="none"/>
<circle cx="38.9" cy="255.4" r="0.9" fill="#e01010"/>
<path d="M53.1 256.1V218.6" stroke="#f4ac20" stroke-width="1.2" fill="none"/>
<path d="M53.1 256.1V227.4" stroke="#ee5a18" stroke-width="0.6" fill="none"/>
<circle cx="53.1" cy="255.4" r="0.9" fill="#e01010"/>
<path d="M74.2 256.1V218.0" stroke="#f4ac20" stroke-width="1.2" fill="none"/>
<path d="M74.2 256.1V226.9" stroke="#ee5a18" stroke-width="0.6" fill="none"/>
<circle cx="74.2" cy="255.4" r="0.9" fill="#e01010"/>
<path d="M102.5 256.1V218.6" stroke="#f4ac20" stroke-width="1.2" fill="none"/>
<path d="M102.5 256.1V227.4" stroke="#ee5a18" stroke-width="0.6" fill="none"/>
<circle cx="102.5" cy="255.4" r="0.9" fill="#e01010"/>
<path d="M123.7 256.1V219.4" stroke="#f4ac20" stroke-width="1.2" fill="none"/>
<path d="M123.7 256.1V228.0" stroke="#ee5a18" stroke-width="0.6" fill="none"/>
<circle cx="123.7" cy="255.4" r="0.9" fill="#e01010"/>
</g></g></g>
<text x="28.3" y="162.4" class="lb">50s</text>
<text x="20.4" y="257.9" class="tk" text-anchor="end">0</text>
<text x="20.4" y="249.3" class="tk" text-anchor="end">1</text>
<text x="20.4" y="240.7" class="tk" text-anchor="end">2</text>
<text x="20.4" y="232.1" class="tk" text-anchor="end">3</text>
<text x="20.4" y="223.5" class="tk" text-anchor="end">4</text>
<text x="20.4" y="214.9" class="tk" text-anchor="end">5</text>
<text x="20.4" y="206.3" class="tk" text-anchor="end">6</text>
<text x="20.4" y="197.7" class="tk" text-anchor="end">7</text>
<text x="20.4" y="189.1" class="tk" text-anchor="end">8</text>
<text x="20.4" y="180.5" class="tk" text-anchor="end">9</text>
<text x="20.4" y="171.9" class="tk" text-anchor="end">10</text>
<text x="20.4" y="163.3" class="tk" text-anchor="end">11</text>
<text x="20.4" y="154.8" class="tk" text-anchor="end">12</text>
<text x="24.8" y="268.1" class="tk" text-anchor="middle">0</text>
<text x="38.9" y="268.1" class="tk" text-anchor="middle">2</text>
<text x="53.1" y="268.1" class="tk" text-anchor="middle">4</text>
<text x="67.2" y="268.1" class="tk" text-anchor="middle">6</text>
<text x="81.3" y="268.1" class="tk" text-anchor="middle">8</text>
<text x="95.4" y="268.1" class="tk" text-anchor="middle">10</text>
<text x="109.6" y="268.1" class="tk" text-anchor="middle">12</text>
<text x="11.4" y="148.5" class="tk" text-anchor="middle">µm</text>
<text x="125.6" y="266.3" class="tk" text-anchor="middle">µm</text>
<text x="73.7" y="144.8" class="tk" text-anchor="middle" fill="#7080a0">ξ</text>
<rect x="129.3" y="153.3" width="1.4" height="108.1" fill="url(#cb)" opacity="0.78"/>
<text x="131.0" y="262.9" class="ck">0</text>
<text x="131.0" y="251.6" class="ck">0.1</text>
<text x="131.0" y="240.2" class="ck">0.2</text>
<text x="131.0" y="228.8" class="ck">0.3</text>
<text x="131.0" y="217.5" class="ck">0.4</text>
<text x="131.0" y="206.1" class="ck">0.5</text>
<text x="131.0" y="194.7" class="ck">0.6</text>
<text x="131.0" y="183.4" class="ck">0.7</text>
<text x="131.0" y="172.0" class="ck">0.8</text>
<text x="131.0" y="160.6" class="ck">0.9</text>
<text transform="translate(15.5,197.7) rotate(-90)" class="yl" font-size="8.0" text-anchor="middle">Height / µm</text>
<text x="79.2" y="275.2" class="xl" text-anchor="middle">x / µm</text>
<rect x="156.5" y="147.4" width="108.4" height="117.0" fill="none" stroke="#e2e2e2" stroke-width="0.8"/>
<rect x="161.3" y="154.2" width="98.8" height="103.0" fill="#000084"/>
<clipPath id="c5"><rect x="161.3" y="154.2" width="98.8" height="103.0"/></clipPath>
<clipPath id="s5"><polygon points="161.3,257.2 161.3,213.4 162.0,215.2 162.7,217.3 163.4,219.5 164.1,220.3 164.8,221.3 165.5,222.3 166.2,223.4 166.9,224.6 167.7,225.9 168.0,226.6 168.4,226.0 169.1,224.7 169.8,223.4 170.5,222.2 171.2,221.1 171.9,220.1 172.6,219.1 173.3,218.3 174.0,216.1 174.7,214.0 175.4,212.2 176.1,214.0 176.8,216.1 177.5,218.3 178.2,219.1 178.9,220.1 179.6,221.1 180.4,222.2 181.1,223.4 181.8,224.7 182.0,225.1 182.5,224.2 183.2,222.9 183.9,221.6 184.6,220.4 185.3,219.3 186.0,218.3 186.7,217.3 187.4,216.5 188.1,214.3 188.8,212.2 189.5,210.4 190.2,212.2 190.9,214.3 191.6,216.5 192.4,217.3 193.1,218.3 193.8,219.3 194.5,220.4 195.2,221.6 195.9,222.9 196.6,224.2 197.3,225.5 198.0,226.9 198.7,228.3 199.4,229.8 199.9,230.9 200.1,230.5 200.8,229.0 201.5,227.5 202.2,226.0 202.9,224.6 203.6,223.3 204.3,222.0 205.1,220.8 205.8,219.6 206.5,218.5 207.2,217.4 207.9,216.5 208.6,215.6 209.3,213.4 210.0,211.4 210.7,209.6 211.4,211.4 212.1,213.4 212.8,215.6 213.5,216.5 214.2,217.4 214.9,218.5 215.6,219.6 216.3,220.8 217.1,222.0 217.8,223.3 218.5,224.6 219.2,226.0 219.9,227.5 220.6,229.0 221.3,230.5 222.0,232.1 222.7,233.7 223.4,235.4 224.1,237.0 224.8,238.8 225.1,239.5 225.5,238.6 226.2,236.9 226.9,235.2 227.6,233.6 228.3,232.1 229.0,230.5 229.8,229.0 230.5,227.6 231.2,226.2 231.9,224.8 232.6,223.5 233.3,222.3 234.0,221.1 234.7,220.0 235.4,219.0 236.1,218.0 236.8,217.1 237.5,215.0 238.2,212.9 238.9,211.1 239.6,212.9 240.3,215.0 241.0,217.1 241.8,218.0 242.5,219.0 243.2,220.0 243.9,221.1 244.6,222.3 245.3,223.5 246.0,224.8 246.7,226.2 247.4,227.6 248.1,229.0 248.8,230.5 249.5,232.1 249.7,232.6 250.2,231.6 250.9,230.1 251.6,228.6 252.3,227.2 253.0,225.9 253.7,224.6 254.5,223.3 255.2,222.2 255.9,221.0 256.6,220.0 257.3,219.0 258.0,218.2 258.7,216.0 259.4,213.9 260.1,212.1 260.1,257.2"/></clipPath>
<g clip-path="url(#c5)"><g filter="url(#bl)">
<polygon points="161.3,257.2 161.3,213.4 162.0,215.2 162.7,217.3 163.4,219.5 164.1,220.3 164.8,221.3 165.5,222.3 166.2,223.4 166.9,224.6 167.7,225.9 168.0,226.6 168.4,226.0 169.1,224.7 169.8,223.4 170.5,222.2 171.2,221.1 171.9,220.1 172.6,219.1 173.3,218.3 174.0,216.1 174.7,214.0 175.4,212.2 176.1,214.0 176.8,216.1 177.5,218.3 178.2,219.1 178.9,220.1 179.6,221.1 180.4,222.2 181.1,223.4 181.8,224.7 182.0,225.1 182.5,224.2 183.2,222.9 183.9,221.6 184.6,220.4 185.3,219.3 186.0,218.3 186.7,217.3 187.4,216.5 188.1,214.3 188.8,212.2 189.5,210.4 190.2,212.2 190.9,214.3 191.6,216.5 192.4,217.3 193.1,218.3 193.8,219.3 194.5,220.4 195.2,221.6 195.9,222.9 196.6,224.2 197.3,225.5 198.0,226.9 198.7,228.3 199.4,229.8 199.9,230.9 200.1,230.5 200.8,229.0 201.5,227.5 202.2,226.0 202.9,224.6 203.6,223.3 204.3,222.0 205.1,220.8 205.8,219.6 206.5,218.5 207.2,217.4 207.9,216.5 208.6,215.6 209.3,213.4 210.0,211.4 210.7,209.6 211.4,211.4 212.1,213.4 212.8,215.6 213.5,216.5 214.2,217.4 214.9,218.5 215.6,219.6 216.3,220.8 217.1,222.0 217.8,223.3 218.5,224.6 219.2,226.0 219.9,227.5 220.6,229.0 221.3,230.5 222.0,232.1 222.7,233.7 223.4,235.4 224.1,237.0 224.8,238.8 225.1,239.5 225.5,238.6 226.2,236.9 226.9,235.2 227.6,233.6 228.3,232.1 229.0,230.5 229.8,229.0 230.5,227.6 231.2,226.2 231.9,224.8 232.6,223.5 233.3,222.3 234.0,221.1 234.7,220.0 235.4,219.0 236.1,218.0 236.8,217.1 237.5,215.0 238.2,212.9 238.9,211.1 239.6,212.9 240.3,215.0 241.0,217.1 241.8,218.0 242.5,219.0 243.2,220.0 243.9,221.1 244.6,222.3 245.3,223.5 246.0,224.8 246.7,226.2 247.4,227.6 248.1,229.0 248.8,230.5 249.5,232.1 249.7,232.6 250.2,231.6 250.9,230.1 251.6,228.6 252.3,227.2 253.0,225.9 253.7,224.6 254.5,223.3 255.2,222.2 255.9,221.0 256.6,220.0 257.3,219.0 258.0,218.2 258.7,216.0 259.4,213.9 260.1,212.1 260.1,257.2" fill="#0c50ec" stroke="#0828c0" stroke-width="0.5"/>
<g clip-path="url(#s5)">
<path d="M161.3 213.9L162.8 218.2L165.2 222.5L167.7 226.9L169.8 231.2L171.8 235.5L173.6 239.9L175.3 244.2L176.9 248.5L178.4 252.9L179.9 257.2L142.7 257.2L144.2 252.9L145.7 248.5L147.3 244.2L149.0 239.9L150.8 235.5L152.8 231.2L154.9 226.9L157.4 222.5L159.8 218.2ZM175.4 212.7L177.0 217.1L179.5 221.6L182.0 226.0L184.2 230.5L186.1 234.9L188.0 239.4L189.7 243.8L191.3 248.3L192.9 252.7L194.4 257.2L156.4 257.2L157.9 252.7L159.5 248.3L161.1 243.8L162.9 239.4L164.7 234.9L166.7 230.5L168.8 226.0L171.3 221.6L173.9 217.1ZM189.5 210.9L191.1 215.5L193.8 220.2L196.4 224.8L198.6 229.4L200.6 234.0L202.5 238.7L204.3 243.3L206.0 247.9L207.6 252.6L209.2 257.2L169.9 257.2L171.5 252.6L173.1 247.9L174.8 243.3L176.6 238.7L178.4 234.0L180.5 229.4L182.7 224.8L185.2 220.2L187.9 215.5ZM210.7 210.0L212.3 214.8L215.1 219.5L217.7 224.2L219.9 228.9L222.0 233.6L223.9 238.3L225.7 243.1L227.4 247.8L229.0 252.5L230.6 257.2L190.8 257.2L192.4 252.5L194.0 247.8L195.7 243.1L197.5 238.3L199.4 233.6L201.5 228.9L203.7 224.2L206.3 219.5L209.1 214.8ZM238.9 211.6L240.5 216.1L243.1 220.7L245.7 225.3L247.9 229.8L249.9 234.4L251.7 238.9L253.5 243.5L255.2 248.1L256.8 252.6L258.3 257.2L219.5 257.2L221.1 252.6L222.7 248.1L224.4 243.5L226.1 238.9L228.0 234.4L230.0 229.8L232.2 225.3L234.7 220.7L237.4 216.1ZM260.1 212.6L261.6 217.0L264.2 221.5L266.7 226.0L268.9 230.4L270.8 234.9L272.7 239.4L274.4 243.8L276.0 248.3L277.6 252.7L279.2 257.2L241.0 257.2L242.6 252.7L244.2 248.3L245.8 243.8L247.5 239.4L249.4 234.9L251.3 230.4L253.5 226.0L256.0 221.5L258.6 217.0Z" fill="#22c8d0"/>
<path d="M161.3 214.5L162.7 218.8L164.9 223.1L167.1 227.3L169.0 231.6L170.8 235.9L172.4 240.1L173.9 244.4L175.4 248.7L176.8 252.9L178.2 257.2L144.4 257.2L145.8 252.9L147.2 248.7L148.7 244.4L150.2 240.1L151.8 235.9L153.6 231.6L155.5 227.3L157.7 223.1L159.9 218.8ZM175.4 213.3L176.8 217.7L179.1 222.1L181.4 226.5L183.3 230.9L185.1 235.3L186.8 239.7L188.3 244.0L189.8 248.4L191.3 252.8L192.6 257.2L158.2 257.2L159.6 252.8L161.0 248.4L162.5 244.0L164.1 239.7L165.7 235.3L167.5 230.9L169.5 226.5L171.7 222.1L174.0 217.7ZM189.5 211.6L191.0 216.2L193.4 220.7L195.7 225.3L197.7 229.8L199.6 234.4L201.3 239.0L202.9 243.5L204.4 248.1L205.9 252.6L207.3 257.2L171.8 257.2L173.2 252.6L174.7 248.1L176.2 243.5L177.8 239.0L179.5 234.4L181.3 229.8L183.3 225.3L185.6 220.7L188.1 216.2ZM210.7 210.8L212.2 215.4L214.7 220.0L217.0 224.7L219.1 229.3L220.9 234.0L222.6 238.6L224.2 243.3L225.8 247.9L227.3 252.6L228.7 257.2L192.7 257.2L194.1 252.6L195.6 247.9L197.2 243.3L198.8 238.6L200.5 234.0L202.3 229.3L204.4 224.7L206.7 220.0L209.2 215.4ZM238.9 212.3L240.4 216.8L242.7 221.2L245.0 225.7L247.0 230.2L248.8 234.7L250.5 239.2L252.1 243.7L253.6 248.2L255.1 252.7L256.5 257.2L221.4 257.2L222.8 252.7L224.2 248.2L225.7 243.7L227.3 239.2L229.0 234.7L230.8 230.2L232.8 225.7L235.1 221.2L237.5 216.8ZM260.1 213.3L261.5 217.7L263.8 222.1L266.1 226.4L268.0 230.8L269.8 235.2L271.5 239.6L273.0 244.0L274.5 248.4L276.0 252.8L277.4 257.2L242.8 257.2L244.2 252.8L245.7 248.4L247.2 244.0L248.7 239.6L250.4 235.2L252.2 230.8L254.1 226.4L256.4 222.1L258.7 217.7Z" fill="#44de8c"/>
<path d="M161.3 254.8H153.2M161.3 252.5H153.2M161.3 250.1H153.2M161.3 237.3H153.2M161.3 234.3H153.2M161.3 231.3H153.2M161.3 228.3H153.4M161.3 221.9H157.7M161.3 218.4H159.4M161.3 239.9H169.0M161.3 236.9H169.0M161.3 233.7H169.0M161.3 230.8H169.0M161.3 227.5H167.9M161.3 217.8H163.0M175.4 245.7H166.9M175.4 238.1H166.9M175.4 234.7H166.9M175.4 231.2H166.9M175.4 224.8H168.6M175.4 221.4H171.0M175.4 218.5H173.1M175.4 215.0H174.5M175.4 240.5H182.9M175.4 237.1H182.9M175.4 227.5H182.9M175.4 224.6H181.8M175.4 221.7H180.5M175.4 218.2H177.6M175.4 215.1H176.6M189.5 244.9H180.8M189.5 233.3H180.8M189.5 230.2H180.8M189.5 220.8H183.9M189.5 217.7H186.4M189.5 244.0H201.9M189.5 241.4H201.9M189.5 231.9H198.6M189.5 228.9H199.9M189.5 226.0H198.0M189.5 222.9H196.6M189.5 220.1H194.6M189.5 217.3H192.2M210.7 241.3H197.8M210.7 235.1H200.2M210.7 232.2H198.4M210.7 229.4H201.1M210.7 226.4H201.9M210.7 223.5H203.0M210.7 220.3H205.6M210.7 217.1H207.4M210.7 214.1H208.9M210.7 240.3H223.3M210.7 234.2H220.6M210.7 230.8H220.7M210.7 220.8H215.7M210.7 218.0H214.1M210.7 215.1H212.7M238.9 239.2H224.0M238.9 236.0H226.5M238.9 229.8H230.9M238.9 223.5H233.2M238.9 220.7H235.0M238.9 217.6H236.4M238.9 214.2H237.7M238.9 254.4H251.9M238.9 249.4H251.9M238.9 244.5H251.9M238.9 239.5H251.9M238.9 236.6H249.9M238.9 233.1H248.5M238.9 226.8H247.0M238.9 224.0H244.3M238.9 220.7H243.1M238.9 217.3H241.1M238.9 214.5H240.3M260.1 236.5H249.9M260.1 233.6H250.6M260.1 223.1H255.3M260.1 220.2H256.6M260.1 216.7H258.5M260.1 253.2H268.2M260.1 243.1H268.2M260.1 237.0H268.2M260.1 234.0H268.2M260.1 227.5H266.9M260.1 224.0H266.9M260.1 221.2H263.6M260.1 218.0H262.3M260.1 215.1H261.1M161.3 247.4H153.2M161.3 245.1H153.2M161.3 242.6H153.2M161.3 240.4H153.2M161.3 254.4H169.0M161.3 251.7H169.0M161.3 246.8H169.0M161.3 244.6H169.0M161.3 242.3H169.0M175.4 252.8H166.9M175.4 250.5H166.9M175.4 248.0H166.9M175.4 241.1H166.9M175.4 227.7H167.3M175.4 248.1H182.9M175.4 245.5H182.9M175.4 242.7H182.9M175.4 234.0H182.9M175.4 230.9H182.9M189.5 255.3H180.8M189.5 253.0H180.8M189.5 250.2H180.8M189.5 247.5H180.8M189.5 242.3H180.8M189.5 239.6H180.8M189.5 236.3H180.8M189.5 227.3H181.1M189.5 224.3H183.0M189.5 254.4H201.9M189.5 251.8H201.9M189.5 246.6H201.9M189.5 238.5H201.9M189.5 235.0H201.9M210.7 254.6H197.8M210.7 249.2H197.8M210.7 246.6H197.8M210.7 244.0H197.8M210.7 238.1H198.3M210.7 254.7H228.4M210.7 252.3H228.4M210.7 250.0H228.4M210.7 244.8H225.4M210.7 242.6H224.2M210.7 237.2H225.1M210.7 227.6H219.3M210.7 224.1H218.0M238.9 254.6H222.1M238.9 252.1H223.6M238.9 249.4H222.1M238.9 247.2H225.1M238.9 244.6H222.1M238.9 233.0H228.7M238.9 226.6H231.6M238.9 252.0H251.9M238.9 242.1H251.9M238.9 230.1H247.5M260.1 254.4H247.7M260.1 251.9H247.7M260.1 249.4H247.7M260.1 247.2H247.7M260.1 239.6H247.7M260.1 230.1H251.0M260.1 226.6H252.1M260.1 255.8H268.2M260.1 250.5H268.2M260.1 240.3H268.2M260.1 230.5H268.1M161.3 225.2H155.4M161.3 224.3H166.5M161.3 221.0H164.0M189.5 214.5H188.1M189.5 214.2H190.9M161.3 249.1H169.0M175.4 255.5H166.9M175.4 243.4H166.9M175.4 255.0H182.9M175.4 252.7H182.9M175.4 250.3H182.9M189.5 249.2H201.9M210.7 252.0H197.8M210.7 247.4H228.4M238.9 241.8H223.7M238.9 247.1H251.9M260.1 244.8H247.7M260.1 242.1H247.7M260.1 248.3H268.2M260.1 245.8H268.2" stroke="#3cd8a0" stroke-width="1.7" fill="none" opacity="1"/>
<path d="M157.2 250.9H154.2M156.4 248.5H154.2M156.5 241.1H154.2M158.0 235.7H154.2M156.9 232.7H154.2M158.3 229.7H154.2M157.5 226.7H154.2M158.7 223.6H156.0M160.0 220.3H158.4M166.1 243.0H168.0M165.0 232.1H168.0M165.2 229.2H168.0M162.9 222.7H166.0M171.8 246.4H168.0M171.9 233.1H168.0M170.1 229.6H168.0M172.5 226.1H168.0M173.4 223.2H169.6M174.2 219.8H171.9M179.5 248.7H182.0M179.8 238.9H182.0M179.2 226.0H182.0M178.3 223.0H181.1M184.3 253.7H182.0M185.2 231.7H182.0M186.2 228.6H182.0M186.5 222.7H183.0M194.0 245.0H199.9M193.6 239.9H199.9M194.3 227.3H198.6M193.4 224.4H197.1M191.1 218.5H193.4M206.6 247.6H199.9M205.8 245.1H199.9M205.7 242.4H199.9M206.1 239.7H199.9M207.0 233.5H199.9M208.5 218.7H206.1M215.9 248.4H225.1M215.8 238.8H225.1M214.5 222.5H217.7M212.5 219.3H215.7M212.1 216.4H213.6M235.8 253.0H225.1M235.1 250.5H225.1M233.7 247.8H225.1M234.4 245.6H225.1M234.7 237.6H225.1M234.1 231.4H227.6M237.2 219.1H235.1M242.8 250.4H249.7M242.0 242.9H249.7M242.4 235.0H249.7M243.6 231.5H249.7M240.5 219.1H242.7M257.0 250.3H249.7M257.2 247.9H249.7M258.0 221.5H255.3M264.4 246.7H267.2M262.9 235.4H267.2M264.1 225.9H267.2M261.9 219.6H263.5" stroke="#20b8e8" stroke-width="1.1" fill="none" opacity="1"/>
<path d="M157.2 253.2H154.2M158.2 245.8H154.2M157.4 243.5H154.2M157.6 238.8H154.2M165.3 252.8H168.0M165.8 250.1H168.0M166.1 247.5H168.0M165.9 245.2H168.0M164.8 240.7H168.0M165.2 238.3H168.0M164.6 235.3H168.0M172.3 253.9H168.0M171.9 248.9H168.0M172.4 236.5H168.0M174.8 216.9H173.7M179.5 253.4H182.0M179.1 251.2H182.0M179.9 246.5H182.0M179.5 243.9H182.0M179.9 232.4H182.0M186.1 251.4H182.0M184.6 245.9H182.0M186.7 243.4H182.0M186.2 240.7H182.0M185.0 238.0H182.0M184.7 234.7H182.0M194.6 250.2H199.9M193.9 247.6H199.9M193.0 242.4H199.9M193.1 236.9H199.9M192.8 233.4H199.9M194.7 230.3H199.9M190.6 215.7H191.5M207.0 253.1H199.9M207.2 236.5H199.9M207.5 230.7H199.9M205.8 227.8H200.4M207.3 221.9H204.1M214.5 253.1H225.1M215.3 250.8H225.1M216.0 243.2H225.1M214.6 241.0H225.1M214.8 235.6H224.8M215.9 232.6H223.4M213.6 229.3H221.7M214.6 226.0H219.6M234.2 243.0H225.1M234.8 240.2H225.1M234.9 225.0H231.4M243.6 247.9H249.7M244.0 245.5H249.7M242.1 240.5H249.7M242.0 225.2H246.6M255.0 252.9H249.7M255.3 245.6H249.7M256.6 243.2H249.7M256.7 238.1H249.7M257.0 234.9H249.7M256.4 232.0H249.7M257.4 225.0H253.2M259.0 218.7H257.5M264.2 254.2H267.2M265.0 251.6H267.2M263.1 248.9H267.2M264.1 244.2H267.2M265.0 241.5H267.2M263.9 238.7H267.2M263.5 232.4H267.2M265.0 228.9H267.2" stroke="#1048e8" stroke-width="1.1" fill="none" opacity="1"/>
<path d="M170.4 251.2H168.0M171.7 244.1H168.0M171.5 241.8H168.0M170.3 239.5H168.0M180.2 241.2H182.0M184.7 248.7H182.0M194.6 252.8H199.9M206.6 250.4H199.9M215.7 245.8H225.1M236.0 234.4H226.1M242.8 252.8H249.7M256.4 240.5H249.7" stroke="#0818b0" stroke-width="1.1" fill="none" opacity="1"/>
<path d="M154.2 253.2H154.2M154.2 250.9H154.2M154.2 248.5H154.2M154.2 245.8H154.2M154.2 243.5H154.2M154.2 241.1H154.2M154.2 238.8H154.2M154.3 235.7H154.2M155.1 232.7H154.2M155.5 229.7H154.2M156.3 226.7H154.2M157.3 223.6H155.8M159.4 220.3H158.2M160.4 216.8H159.9M168.0 252.8H168.0M168.0 250.1H168.0M168.0 247.5H168.0M168.0 245.2H168.0M168.0 243.0H168.0M168.0 240.7H168.0M168.0 238.3H168.0M168.0 235.3H168.0M168.0 232.1H168.0M166.8 229.2H168.0M165.6 225.9H168.0M164.8 222.7H166.2M162.8 219.4H163.6M162.1 216.2H162.4M168.0 253.9H168.0M168.0 251.2H168.0M168.0 248.9H168.0M168.0 246.4H168.0M168.0 244.1H168.0M168.0 241.8H168.0M168.0 239.5H168.0M168.0 236.5H168.0M168.6 233.1H168.0M168.9 229.6H168.0M170.4 226.1H168.0M171.4 223.2H169.4M173.1 219.8H171.8M174.2 216.9H173.6M182.0 253.4H182.0M182.0 251.2H182.0M182.0 248.7H182.0M182.0 246.5H182.0M182.0 243.9H182.0M182.0 241.2H182.0M182.0 238.9H182.0M182.0 235.5H182.0M182.0 232.4H182.0M181.4 229.4H182.0M180.9 226.0H182.0M178.9 223.0H181.4M177.7 220.1H179.3M176.6 216.6H177.2M182.0 253.7H182.0M182.0 251.4H182.0M182.0 248.7H182.0M182.0 245.9H182.0M182.0 243.4H182.0M182.0 240.7H182.0M182.0 238.0H182.0M182.0 234.7H182.0M182.0 231.7H182.0M182.1 228.6H182.0M183.3 225.7H182.0M184.7 222.7H182.7M186.5 219.2H185.0M188.1 216.1H187.3M199.9 252.8H199.9M199.9 250.2H199.9M199.9 247.6H199.9M199.9 245.0H199.9M199.9 242.4H199.9M198.7 239.9H199.9M197.7 236.9H199.9M198.6 233.4H199.9M196.5 230.3H199.9M195.9 227.3H199.1M194.9 224.4H197.4M193.5 221.3H195.6M192.4 218.5H193.6M190.8 215.7H191.6M199.9 253.1H199.9M199.9 250.4H199.9M199.9 247.6H199.9M199.9 245.1H199.9M199.9 242.4H199.9M201.4 239.7H199.9M200.6 236.5H199.9M201.6 233.5H199.9M202.9 230.7H199.9M204.8 227.8H200.4M205.0 224.9H202.0M206.8 221.9H203.8M207.4 218.7H205.9M209.0 215.5H208.4M210.0 212.5H209.5M223.5 253.1H225.1M223.0 250.8H225.1M224.2 248.4H225.1M221.2 245.8H225.1M222.3 243.2H225.1M222.2 241.0H225.1M222.0 238.8H225.1M219.9 235.6H224.8M219.8 232.6H223.4M217.1 229.3H221.7M217.1 226.0H220.0M215.6 222.5H218.0M214.0 219.3H215.9M212.7 216.4H213.7M211.7 213.5H212.3M225.6 253.0H225.1M227.0 250.5H225.1M228.1 247.8H225.1M228.3 245.6H225.1M229.5 243.0H225.1M229.8 240.2H225.1M228.9 237.6H225.1M231.6 234.4H226.1M232.5 231.4H227.6M232.8 228.2H229.3M233.4 225.0H231.1M235.0 221.9H233.0M236.3 219.1H234.9M237.6 216.0H237.0M249.7 252.8H249.7M249.7 250.4H249.7M249.7 247.9H249.7M249.7 245.5H249.7M249.7 242.9H249.7M249.7 240.5H249.7M249.2 237.9H249.7M246.3 235.0H249.7M246.6 231.5H249.7M244.8 228.5H248.7M244.3 225.2H246.9M242.6 222.4H245.2M241.2 219.1H242.9M240.2 215.7H240.8M249.7 252.9H249.7M249.7 250.3H249.7M249.7 247.9H249.7M249.9 245.6H249.7M249.7 243.2H249.7M250.6 240.5H249.7M250.3 238.1H249.7M252.8 234.9H249.7M253.7 232.0H249.7M253.8 228.5H250.9M255.4 225.0H252.9M256.5 221.5H255.1M258.2 218.7H257.3M259.3 215.1H258.9M267.2 254.2H267.2M267.2 251.6H267.2M267.2 248.9H267.2M267.2 246.7H267.2M267.2 244.2H267.2M267.2 241.5H267.2M267.2 238.7H267.2M267.2 235.4H267.2M266.7 232.4H267.2M266.3 228.9H267.2M265.0 225.9H267.2M263.7 222.5H265.7M262.7 219.6H263.6M261.2 216.4H261.8" stroke="#0c44d8" stroke-width="1.1" fill="none" opacity="1"/>
<path d="M161.3 225.2H156.7M161.3 224.3H165.3M161.3 221.0H163.4M189.5 214.5H188.5M189.5 214.2H190.6" stroke="#a0f050" stroke-width="1.0" fill="none" opacity="1"/>
<path d="M161.3 254.8H155.1M161.3 252.5H155.1M161.3 250.1H155.1M161.3 237.3H155.1M161.3 234.3H155.1M161.3 231.3H155.1M161.3 228.3H155.2M161.3 221.9H158.5M161.3 218.4H159.9M161.3 239.9H167.2M161.3 236.9H167.2M161.3 233.7H167.2M161.3 230.8H167.2M161.3 227.5H166.4M161.3 217.8H162.6M175.4 245.7H168.9M175.4 238.1H168.9M175.4 234.7H168.9M175.4 231.2H168.9M175.4 224.8H170.2M175.4 221.4H172.0M175.4 218.5H173.7M175.4 215.0H174.7M175.4 240.5H181.1M175.4 237.1H181.1M175.4 227.5H181.1M175.4 224.6H180.3M175.4 221.7H179.4M175.4 218.2H177.1M175.4 215.1H176.3M189.5 244.9H182.8M189.5 233.3H182.8M189.5 230.2H182.8M189.5 220.8H185.2M189.5 217.7H187.1M189.5 244.0H199.1M189.5 241.4H199.1M189.5 231.9H196.5M189.5 228.9H197.5M189.5 226.0H196.0M189.5 222.9H195.0M189.5 220.1H193.4M189.5 217.3H191.6M210.7 241.3H200.8M210.7 235.1H202.6M210.7 232.2H201.3M210.7 229.4H203.3M210.7 226.4H204.0M210.7 223.5H204.8M210.7 220.3H206.8M210.7 217.1H208.2M210.7 214.1H209.3M210.7 240.3H220.4M210.7 234.2H218.3M210.7 230.8H218.4M210.7 220.8H214.5M210.7 218.0H213.3M210.7 215.1H212.3M238.9 239.2H227.4M238.9 236.0H229.4M238.9 229.8H232.7M238.9 223.5H234.5M238.9 220.7H235.9M238.9 217.6H237.0M238.9 214.2H238.0M238.9 254.4H248.9M238.9 249.4H248.9M238.9 244.5H248.9M238.9 239.5H248.9M238.9 236.6H247.4M238.9 233.1H246.3M238.9 226.8H245.1M238.9 224.0H243.0M238.9 220.7H242.1M238.9 217.3H240.6M238.9 214.5H240.0M260.1 236.5H252.2M260.1 233.6H252.8M260.1 223.1H256.4M260.1 220.2H257.4M260.1 216.7H258.9M260.1 253.2H266.3M260.1 243.1H266.3M260.1 237.0H266.3M260.1 234.0H266.3M260.1 227.5H265.3M260.1 224.0H265.3M260.1 221.2H262.8M260.1 218.0H261.8M260.1 215.1H260.9" stroke="#eee820" stroke-width="1.0" fill="none" opacity="1"/>
<path d="M161.3 247.4H155.1M161.3 245.1H155.1M161.3 242.6H155.1M161.3 240.4H155.1M161.3 254.4H167.2M161.3 251.7H167.2M161.3 246.8H167.2M161.3 244.6H167.2M161.3 242.3H167.2M175.4 252.8H168.9M175.4 250.5H168.9M175.4 248.0H168.9M175.4 241.1H168.9M175.4 227.7H169.2M175.4 248.1H181.1M175.4 245.5H181.1M175.4 242.7H181.1M175.4 234.0H181.1M175.4 230.9H181.1M189.5 255.3H182.8M189.5 253.0H182.8M189.5 250.2H182.8M189.5 247.5H182.8M189.5 242.3H182.8M189.5 239.6H182.8M189.5 236.3H182.8M189.5 227.3H183.0M189.5 224.3H184.5M189.5 254.4H199.1M189.5 251.8H199.1M189.5 246.6H199.1M189.5 238.5H199.1M189.5 235.0H199.1M210.7 254.6H200.8M210.7 249.2H200.8M210.7 246.6H200.8M210.7 244.0H200.8M210.7 238.1H201.2M210.7 254.7H224.3M210.7 252.3H224.3M210.7 250.0H224.3M210.7 244.8H222.0M210.7 242.6H221.1M210.7 237.2H221.8M210.7 227.6H217.3M210.7 224.1H216.3M238.9 254.6H226.0M238.9 252.1H227.1M238.9 249.4H226.0M238.9 247.2H228.3M238.9 244.6H226.0M238.9 233.0H231.0M238.9 226.6H233.3M238.9 252.0H248.9M238.9 242.1H248.9M238.9 230.1H245.6M260.1 254.4H250.6M260.1 251.9H250.6M260.1 249.4H250.6M260.1 247.2H250.6M260.1 239.6H250.6M260.1 230.1H253.1M260.1 226.6H253.9M260.1 255.8H266.3M260.1 250.5H266.3M260.1 240.3H266.3M260.1 230.5H266.3" stroke="#f8a018" stroke-width="1.0" fill="none" opacity="1"/>
<path d="M161.3 249.1H167.2M175.4 255.5H168.9M175.4 243.4H168.9M175.4 255.0H181.1M175.4 252.7H181.1M175.4 250.3H181.1M189.5 249.2H199.1M210.7 252.0H200.8M210.7 247.4H224.3M238.9 241.8H227.2M238.9 247.1H248.9M260.1 244.8H250.6M260.1 242.1H250.6M260.1 248.3H266.3M260.1 245.8H266.3" stroke="#e84020" stroke-width="1.0" fill="none" opacity="1"/>
<path d="M168.4 257.2V252.7M167.7 251.5V249.1M168.1 247.8V245.2M167.8 243.9V241.2M168.1 241.2V237.3M168.3 237.3V233.5M168.2 233.5V229.6" stroke="#0c34d0" stroke-width="1.3" fill="none"/>
<path d="M182.0 257.2V253.3M182.2 252.0V249.4M182.3 248.1V245.4M182.5 245.4V242.7M182.5 242.7V238.2M182.3 238.2V235.2M182.3 233.9V231.4M181.7 231.4V228.6" stroke="#0c34d0" stroke-width="1.3" fill="none"/>
<path d="M199.5 257.2V254.0M199.4 254.0V250.4M200.0 249.1V246.0M199.8 244.7V242.1M199.4 242.1V238.2M199.8 238.2V233.6" stroke="#0c34d0" stroke-width="1.3" fill="none"/>
<path d="M225.5 257.2V253.4M225.4 252.1V247.5M225.4 247.5V244.6M225.5 244.6V241.3" stroke="#0c34d0" stroke-width="1.3" fill="none"/>
<path d="M250.2 257.2V253.5M249.2 253.5V250.0M249.5 248.7V246.4M249.4 246.4V242.5M249.4 242.5V239.6M250.3 238.3V236.2" stroke="#0c34d0" stroke-width="1.3" fill="none"/>
<path d="M161.3 256.6H260.1" stroke="#f4a820" stroke-width="0.8" fill="none"/>
<path d="M161.3 257.2V216.1" stroke="#f4ac20" stroke-width="1.2" fill="none"/>
<path d="M161.3 257.2V225.7" stroke="#ee5a18" stroke-width="0.6" fill="none"/>
<circle cx="161.3" cy="256.5" r="0.9" fill="#e01010"/>
<path d="M175.4 257.2V214.9" stroke="#f4ac20" stroke-width="1.2" fill="none"/>
<path d="M175.4 257.2V224.8" stroke="#ee5a18" stroke-width="0.6" fill="none"/>
<circle cx="175.4" cy="256.5" r="0.9" fill="#e01010"/>
<path d="M189.5 257.2V213.2" stroke="#f4ac20" stroke-width="1.2" fill="none"/>
<path d="M189.5 257.2V223.5" stroke="#ee5a18" stroke-width="0.6" fill="none"/>
<circle cx="189.5" cy="256.5" r="0.9" fill="#e01010"/>
<path d="M210.7 257.2V212.4" stroke="#f4ac20" stroke-width="1.2" fill="none"/>
<path d="M210.7 257.2V222.9" stroke="#ee5a18" stroke-width="0.6" fill="none"/>
<circle cx="210.7" cy="256.5" r="0.9" fill="#e01010"/>
<path d="M238.9 257.2V213.9" stroke="#f4ac20" stroke-width="1.2" fill="none"/>
<path d="M238.9 257.2V224.0" stroke="#ee5a18" stroke-width="0.6" fill="none"/>
<circle cx="238.9" cy="256.5" r="0.9" fill="#e01010"/>
<path d="M260.1 257.2V214.8" stroke="#f4ac20" stroke-width="1.2" fill="none"/>
<path d="M260.1 257.2V224.8" stroke="#ee5a18" stroke-width="0.6" fill="none"/>
<circle cx="260.1" cy="256.5" r="0.9" fill="#e01010"/>
</g></g></g>
<text x="164.5" y="165.0" class="lb">60s</text>
<text x="156.9" y="258.9" class="tk" text-anchor="end">0</text>
<text x="156.9" y="250.4" class="tk" text-anchor="end">1</text>
<text x="156.9" y="241.8" class="tk" text-anchor="end">2</text>
<text x="156.9" y="233.2" class="tk" text-anchor="end">3</text>
<text x="156.9" y="224.6" class="tk" text-anchor="end">4</text>
<text x="156.9" y="216.0" class="tk" text-anchor="end">5</text>
<text x="156.9" y="207.4" class="tk" text-anchor="end">6</text>
<text x="156.9" y="198.9" class="tk" text-anchor="end">7</text>
<text x="156.9" y="190.3" class="tk" text-anchor="end">8</text>
<text x="156.9" y="181.7" class="tk" text-anchor="end">9</text>
<text x="156.9" y="173.1" class="tk" text-anchor="end">10</text>
<text x="156.9" y="164.5" class="tk" text-anchor="end">11</text>
<text x="156.9" y="155.9" class="tk" text-anchor="end">12</text>
<text x="161.3" y="269.2" class="tk" text-anchor="middle">0</text>
<text x="175.4" y="269.2" class="tk" text-anchor="middle">2</text>
<text x="189.5" y="269.2" class="tk" text-anchor="middle">4</text>
<text x="203.6" y="269.2" class="tk" text-anchor="middle">6</text>
<text x="217.8" y="269.2" class="tk" text-anchor="middle">8</text>
<text x="231.9" y="269.2" class="tk" text-anchor="middle">10</text>
<text x="246.0" y="269.2" class="tk" text-anchor="middle">12</text>
<text x="147.9" y="149.7" class="tk" text-anchor="middle">µm</text>
<text x="262.0" y="267.4" class="tk" text-anchor="middle">µm</text>
<text x="210.1" y="146.0" class="tk" text-anchor="middle" fill="#7080a0">ξ</text>
<rect x="266.0" y="154.5" width="1.4" height="108.0" fill="url(#cb)" opacity="0.78"/>
<text x="267.7" y="264.0" class="ck">0</text>
<text x="267.7" y="252.7" class="ck">0.1</text>
<text x="267.7" y="241.3" class="ck">0.2</text>
<text x="267.7" y="229.9" class="ck">0.3</text>
<text x="267.7" y="218.6" class="ck">0.4</text>
<text x="267.7" y="207.2" class="ck">0.5</text>
<text x="267.7" y="195.8" class="ck">0.6</text>
<text x="267.7" y="184.5" class="ck">0.7</text>
<text x="267.7" y="173.1" class="ck">0.8</text>
<text x="267.7" y="161.7" class="ck">0.9</text>
<text transform="translate(151.9,201.4) rotate(-90)" class="yl" font-size="8.0" text-anchor="middle">Height / µm</text>
<text x="215.7" y="276.3" class="xl" text-anchor="middle">x / µm</text>
<rect x="293.2" y="147.4" width="108.7" height="117.0" fill="none" stroke="#e2e2e2" stroke-width="0.8"/>
<rect x="298.0" y="154.2" width="99.1" height="103.0" fill="#000084"/>
<clipPath id="c6"><rect x="298.0" y="154.2" width="99.1" height="103.0"/></clipPath>
<clipPath id="s6"><polygon points="298.0,257.2 298.0,207.2 298.7,209.0 299.4,211.1 300.1,213.4 300.8,214.1 301.5,214.9 302.2,215.8 303.0,216.9 303.7,218.1 304.2,219.0 304.4,218.7 305.1,217.2 305.8,215.8 306.5,214.5 307.2,213.4 307.9,212.3 308.6,211.4 309.3,210.6 310.0,209.9 310.7,207.6 311.4,205.5 312.2,203.6 312.9,205.5 313.6,207.6 314.3,209.9 315.0,210.6 315.7,211.4 316.4,212.3 317.1,213.4 317.8,214.5 318.5,215.8 318.9,216.6 319.2,215.9 319.9,214.5 320.7,213.3 321.4,212.1 322.1,211.0 322.8,210.1 323.5,209.3 324.2,208.6 324.9,206.3 325.6,204.2 326.3,202.4 327.0,204.2 327.7,206.3 328.4,208.6 329.1,209.3 329.9,210.1 330.6,211.0 331.3,212.1 332.0,213.3 332.7,214.5 333.4,215.9 334.1,217.4 334.8,219.0 335.5,220.6 336.2,222.4 336.7,223.6 336.9,222.9 337.6,221.0 338.3,219.3 339.1,217.6 339.8,216.0 340.5,214.5 341.2,213.2 341.9,211.9 342.6,210.7 343.3,209.7 344.0,208.7 344.7,207.9 345.4,207.2 346.1,205.0 346.8,202.9 347.6,201.0 348.3,202.9 349.0,205.0 349.7,207.2 350.4,207.9 351.1,208.7 351.8,209.7 352.5,210.7 353.2,211.9 353.9,213.2 354.6,214.5 355.3,216.0 356.0,217.6 356.8,219.3 357.5,221.0 358.2,222.9 358.9,224.8 359.6,226.9 360.3,229.0 361.0,231.2 361.7,233.5 362.0,234.4 362.4,233.1 363.1,230.9 363.8,228.7 364.5,226.7 365.2,224.8 366.0,222.9 366.7,221.2 367.4,219.5 368.1,217.9 368.8,216.4 369.5,215.0 370.2,213.8 370.9,212.6 371.6,211.5 372.3,210.6 373.0,209.8 373.7,209.1 374.4,206.8 375.2,204.8 375.9,202.9 376.6,204.8 377.3,206.8 378.0,209.1 378.7,209.8 379.4,210.6 380.1,211.5 380.8,212.6 381.5,213.8 382.2,215.0 382.9,216.4 383.7,217.9 384.4,219.5 385.1,221.2 385.8,222.9 386.4,224.6 386.5,224.5 387.2,222.7 387.9,220.9 388.6,219.2 389.3,217.7 390.0,216.2 390.7,214.8 391.4,213.5 392.1,212.3 392.9,211.3 393.6,210.3 394.3,209.5 395.0,208.8 395.7,206.6 396.4,204.5 397.1,202.6 397.1,257.2"/></clipPath>
<g clip-path="url(#c6)"><g filter="url(#bl)">
<polygon points="298.0,257.2 298.0,207.2 298.7,209.0 299.4,211.1 300.1,213.4 300.8,214.1 301.5,214.9 302.2,215.8 303.0,216.9 303.7,218.1 304.2,219.0 304.4,218.7 305.1,217.2 305.8,215.8 306.5,214.5 307.2,213.4 307.9,212.3 308.6,211.4 309.3,210.6 310.0,209.9 310.7,207.6 311.4,205.5 312.2,203.6 312.9,205.5 313.6,207.6 314.3,209.9 315.0,210.6 315.7,211.4 316.4,212.3 317.1,213.4 317.8,214.5 318.5,215.8 318.9,216.6 319.2,215.9 319.9,214.5 320.7,213.3 321.4,212.1 322.1,211.0 322.8,210.1 323.5,209.3 324.2,208.6 324.9,206.3 325.6,204.2 326.3,202.4 327.0,204.2 327.7,206.3 328.4,208.6 329.1,209.3 329.9,210.1 330.6,211.0 331.3,212.1 332.0,213.3 332.7,214.5 333.4,215.9 334.1,217.4 334.8,219.0 335.5,220.6 336.2,222.4 336.7,223.6 336.9,222.9 337.6,221.0 338.3,219.3 339.1,217.6 339.8,216.0 340.5,214.5 341.2,213.2 341.9,211.9 342.6,210.7 343.3,209.7 344.0,208.7 344.7,207.9 345.4,207.2 346.1,205.0 346.8,202.9 347.6,201.0 348.3,202.9 349.0,205.0 349.7,207.2 350.4,207.9 351.1,208.7 351.8,209.7 352.5,210.7 353.2,211.9 353.9,213.2 354.6,214.5 355.3,216.0 356.0,217.6 356.8,219.3 357.5,221.0 358.2,222.9 358.9,224.8 359.6,226.9 360.3,229.0 361.0,231.2 361.7,233.5 362.0,234.4 362.4,233.1 363.1,230.9 363.8,228.7 364.5,226.7 365.2,224.8 366.0,222.9 366.7,221.2 367.4,219.5 368.1,217.9 368.8,216.4 369.5,215.0 370.2,213.8 370.9,212.6 371.6,211.5 372.3,210.6 373.0,209.8 373.7,209.1 374.4,206.8 375.2,204.8 375.9,202.9 376.6,204.8 377.3,206.8 378.0,209.1 378.7,209.8 379.4,210.6 380.1,211.5 380.8,212.6 381.5,213.8 382.2,215.0 382.9,216.4 383.7,217.9 384.4,219.5 385.1,221.2 385.8,222.9 386.4,224.6 386.5,224.5 387.2,222.7 387.9,220.9 388.6,219.2 389.3,217.7 390.0,216.2 390.7,214.8 391.4,213.5 392.1,212.3 392.9,211.3 393.6,210.3 394.3,209.5 395.0,208.8 395.7,206.6 396.4,204.5 397.1,202.6 397.1,257.2" fill="#0c50ec" stroke="#0828c0" stroke-width="0.5"/>
<g clip-path="url(#s6)">
<path d="M298.0 207.7L299.7 212.6L302.9 217.6L305.4 222.5L307.4 227.5L309.1 232.4L310.7 237.4L312.2 242.3L313.5 247.3L314.8 252.2L316.0 257.2L280.0 257.2L281.2 252.2L282.5 247.3L283.8 242.3L285.3 237.4L286.9 232.4L288.6 227.5L290.6 222.5L293.1 217.6L296.3 212.6ZM312.2 204.2L313.9 209.5L317.4 214.8L320.0 220.1L322.1 225.4L323.9 230.7L325.5 236.0L327.0 241.3L328.4 246.6L329.7 251.9L331.0 257.2L293.3 257.2L294.6 251.9L295.9 246.6L297.3 241.3L298.8 236.0L300.4 230.7L302.2 225.4L304.3 220.1L306.9 214.8L310.4 209.5ZM326.3 202.9L328.1 208.3L331.7 213.8L334.3 219.2L336.4 224.6L338.2 230.1L339.9 235.5L341.4 240.9L342.8 246.3L344.2 251.8L345.4 257.2L307.2 257.2L308.5 251.8L309.8 246.3L311.2 240.9L312.7 235.5L314.4 230.1L316.2 224.6L318.3 219.2L320.9 213.8L324.5 208.3ZM347.6 201.5L349.4 207.1L353.1 212.7L355.7 218.2L357.8 223.8L359.7 229.4L361.4 234.9L362.9 240.5L364.3 246.1L365.7 251.6L367.0 257.2L328.1 257.2L329.4 251.6L330.8 246.1L332.2 240.5L333.7 234.9L335.4 229.4L337.3 223.8L339.4 218.2L342.0 212.7L345.7 207.1ZM375.9 203.4L377.6 208.8L381.2 214.2L383.8 219.5L385.9 224.9L387.7 230.3L389.3 235.7L390.9 241.1L392.3 246.4L393.6 251.8L394.9 257.2L356.9 257.2L358.1 251.8L359.5 246.4L360.9 241.1L362.4 235.7L364.0 230.3L365.8 224.9L367.9 219.5L370.5 214.2L374.1 208.8ZM397.1 203.2L398.9 208.6L402.5 214.0L405.1 219.4L407.2 224.8L409.0 230.2L410.6 235.6L412.1 241.0L413.6 246.4L414.9 251.8L416.2 257.2L378.0 257.2L379.3 251.8L380.6 246.4L382.1 241.0L383.6 235.6L385.2 230.2L387.0 224.8L389.1 219.4L391.7 214.0L395.3 208.6Z" fill="#22c8d0"/>
<path d="M298.0 208.4L299.5 213.3L302.4 218.2L304.7 223.0L306.5 227.9L308.1 232.8L309.5 237.7L310.8 242.6L312.1 247.4L313.2 252.3L314.3 257.2L281.7 257.2L282.8 252.3L283.9 247.4L285.2 242.6L286.5 237.7L287.9 232.8L289.5 227.9L291.3 223.0L293.6 218.2L296.5 213.3ZM312.2 205.0L313.8 210.2L316.9 215.4L319.3 220.6L321.1 225.9L322.8 231.1L324.2 236.3L325.6 241.5L326.9 246.8L328.1 252.0L329.2 257.2L295.1 257.2L296.3 252.0L297.4 246.8L298.7 241.5L300.1 236.3L301.5 231.1L303.2 225.9L305.1 220.6L307.4 215.4L310.6 210.2ZM326.3 203.7L327.9 209.1L331.2 214.4L333.6 219.8L335.5 225.1L337.1 230.5L338.6 235.8L340.0 241.2L341.3 246.5L342.5 251.9L343.6 257.2L309.0 257.2L310.2 251.9L311.4 246.5L312.7 241.2L314.0 235.8L315.5 230.5L317.2 225.1L319.1 219.8L321.4 214.4L324.7 209.1ZM347.6 202.4L349.2 207.9L352.6 213.3L354.9 218.8L356.9 224.3L358.5 229.8L360.1 235.3L361.4 240.8L362.7 246.2L364.0 251.7L365.1 257.2L330.0 257.2L331.1 251.7L332.4 246.2L333.7 240.8L335.0 235.3L336.6 229.8L338.2 224.3L340.2 218.8L342.5 213.3L345.9 207.9ZM375.9 204.2L377.5 209.5L380.7 214.8L383.0 220.1L384.9 225.4L386.6 230.7L388.1 236.0L389.4 241.3L390.7 246.6L391.9 251.9L393.1 257.2L358.7 257.2L359.8 251.9L361.0 246.6L362.3 241.3L363.7 236.0L365.1 230.7L366.8 225.4L368.7 220.1L371.0 214.8L374.2 209.5ZM397.1 204.0L398.7 209.3L402.0 214.6L404.3 219.9L406.2 225.3L407.9 230.6L409.3 235.9L410.7 241.2L412.0 246.6L413.2 251.9L414.4 257.2L379.8 257.2L381.0 251.9L382.2 246.6L383.5 241.2L384.9 235.9L386.3 230.6L388.0 225.3L389.9 219.9L392.2 214.6L395.5 209.3Z" fill="#44de8c"/>
<path d="M298.0 249.1H289.9M298.0 244.1H289.9M298.0 233.3H289.9M298.0 230.3H289.9M298.0 227.3H289.9M298.0 224.1H290.6M298.0 220.9H291.0M298.0 218.1H292.7M298.0 214.9H294.3M298.0 211.7H296.7M298.0 249.3H305.0M298.0 244.5H305.0M298.0 241.8H305.0M298.0 231.3H305.0M298.0 227.8H305.0M298.0 225.0H305.0M298.0 222.0H305.0M298.0 219.0H304.3M298.0 215.6H301.7M298.0 212.2H299.8M312.2 255.0H302.9M312.2 248.1H302.9M312.2 240.3H302.9M312.2 228.7H302.9M312.2 225.3H303.0M312.2 218.6H303.5M312.2 215.4H306.7M312.2 212.6H308.1M312.2 206.3H311.1M312.2 255.4H319.8M312.2 229.3H319.8M312.2 225.9H319.8M312.2 222.8H319.8M312.2 219.6H319.8M312.2 216.4H318.1M312.2 213.4H316.3M312.2 206.6H313.2M326.3 235.2H317.8M326.3 232.1H317.8M326.3 229.1H317.8M326.3 226.0H317.8M326.3 219.8H317.8M326.3 213.6H320.4M326.3 207.2H324.5M326.3 228.3H336.7M326.3 225.0H338.5M326.3 222.1H335.1M326.3 218.6H334.8M326.3 212.6H331.5M326.3 209.1H329.0M326.3 206.0H327.6M347.6 254.3H334.5M347.6 237.4H334.5M347.6 231.8H334.5M347.6 228.7H337.0M347.6 225.8H337.6M347.6 220.0H338.3M347.6 217.1H339.1M347.6 211.1H342.2M347.6 205.3H346.0M347.6 244.7H362.4M347.6 235.3H360.7M347.6 232.1H359.8M347.6 218.7H356.8M347.6 215.6H355.3M347.6 212.2H353.6M347.6 205.7H349.0M375.9 224.7H366.0M375.9 221.2H367.9M375.9 217.7H368.8M375.9 214.2H370.4M375.9 210.8H372.5M375.9 207.5H374.2M375.9 242.2H388.5M375.9 234.8H388.5M375.9 225.7H387.5M375.9 222.8H386.8M375.9 219.7H385.0M375.9 216.3H382.1M375.9 213.2H381.0M375.9 210.1H378.6M375.9 207.2H377.6M397.1 254.6H384.3M397.1 239.6H384.3M397.1 234.6H384.3M397.1 231.3H386.0M397.1 225.4H386.6M397.1 219.8H387.9M397.1 216.3H390.2M397.1 210.1H394.1M397.1 206.6H395.9M397.1 234.4H405.2M397.1 231.6H405.2M397.1 228.1H405.2M397.1 221.8H405.2M397.1 216.1H402.9M397.1 213.1H402.2M397.1 210.3H400.8M397.1 206.9H398.5M298.0 241.4H289.9M298.0 236.6H289.9M298.0 251.5H305.0M298.0 236.8H305.0M298.0 234.5H305.0M312.2 252.7H302.9M312.2 242.9H302.9M312.2 237.9H302.9M312.2 235.3H302.9M312.2 231.9H302.9M312.2 221.8H304.2M312.2 253.1H319.8M312.2 250.7H319.8M312.2 246.1H319.8M312.2 241.3H319.8M312.2 235.9H319.8M312.2 232.4H319.8M326.3 249.9H317.8M326.3 247.4H317.8M326.3 242.5H317.8M326.3 240.0H317.8M326.3 237.7H317.8M326.3 223.0H317.8M326.3 216.9H319.5M326.3 255.0H338.7M326.3 247.8H338.7M326.3 242.7H338.7M326.3 239.9H338.7M326.3 237.2H338.7M326.3 234.4H338.7M326.3 231.5H338.7M326.3 215.6H334.1M347.6 252.0H334.5M347.6 247.2H334.5M347.6 239.8H334.5M347.6 234.9H334.5M347.6 222.8H338.9M347.6 214.1H341.1M347.6 249.7H365.2M347.6 247.3H365.2M347.6 242.6H361.3M347.6 239.9H365.0M347.6 237.6H362.5M347.6 228.6H359.8M347.6 225.4H359.6M347.6 222.0H358.3M375.9 254.4H358.9M375.9 251.6H358.9M375.9 249.2H361.3M375.9 246.9H361.7M375.9 244.2H361.1M375.9 241.6H359.9M375.9 234.2H360.3M375.9 230.7H363.4M375.9 227.6H362.7M375.9 255.0H388.5M375.9 252.4H388.5M375.9 249.8H388.5M375.9 244.9H388.5M375.9 239.6H388.5M375.9 231.7H386.5M375.9 228.8H386.7M397.1 249.5H384.3M397.1 246.8H384.3M397.1 244.5H384.3M397.1 237.0H384.3M397.1 228.5H386.4M397.1 222.6H388.1M397.1 251.8H405.2M397.1 249.4H405.2M397.1 246.7H405.2M397.1 244.3H405.2M397.1 242.0H405.2M397.1 239.4H405.2M397.1 224.9H405.2M397.1 218.9H405.2M312.2 209.6H310.1M312.2 210.1H314.6M326.3 210.6H322.7M347.6 208.3H344.4M347.6 208.7H351.3M397.1 213.4H391.9M298.0 254.2H289.9M298.0 251.7H289.9M298.0 246.4H289.9M298.0 239.1H289.9M298.0 254.1H305.0M298.0 246.8H305.0M298.0 239.2H305.0M312.2 250.5H302.9M312.2 245.4H302.9M312.2 248.4H319.8M312.2 243.8H319.8M312.2 238.6H319.8M326.3 254.4H317.8M326.3 252.1H317.8M326.3 245.1H317.8M326.3 252.5H338.7M326.3 250.3H338.7M326.3 245.1H338.7M347.6 249.6H334.5M347.6 244.7H334.5M347.6 242.3H334.5M347.6 254.4H365.2M347.6 251.9H365.2M375.9 239.2H359.0M375.9 236.7H362.4M375.9 247.5H388.5M375.9 237.2H388.5M397.1 252.2H384.3M397.1 242.1H384.3M397.1 254.4H405.2M397.1 236.9H405.2" stroke="#3cd8a0" stroke-width="1.7" fill="none" opacity="1"/>
<path d="M292.8 228.8H290.9M296.1 216.5H293.1M301.1 249.9H304.2M302.9 232.9H304.2M300.6 217.4H303.5M307.3 248.9H304.2M308.4 241.4H304.2M308.3 217.0H304.8M310.8 211.0H308.8M316.6 251.5H318.9M316.7 242.2H318.9M315.3 227.7H318.9M315.9 224.3H318.9M316.0 221.3H318.9M322.0 252.8H318.9M322.6 248.3H318.9M323.1 221.5H318.9M324.3 212.0H321.2M325.1 209.0H323.6M329.3 253.4H336.7M330.5 229.9H336.7M329.7 217.0H334.3M328.5 214.0H332.7M343.9 250.4H336.7M342.3 245.7H336.7M343.1 233.3H336.7M343.4 227.2H336.7M342.9 218.4H338.3M343.9 212.5H341.2M346.6 206.7H345.5M352.1 227.0H360.8M349.8 210.6H352.7M371.5 232.6H362.0M372.4 229.2H362.5M373.7 212.6H370.6M379.2 253.5H386.4M379.2 233.2H386.4M380.9 227.2H386.4M379.2 218.1H384.1M376.7 208.5H377.9M392.6 245.2H386.4M392.2 229.7H386.4M393.6 214.7H390.5M394.9 211.8H392.3M399.7 214.5H403.6M398.9 211.5H401.7M398.1 208.7H399.3" stroke="#20b8e8" stroke-width="1.1" fill="none" opacity="1"/>
<path d="M294.4 252.6H290.9M294.9 250.2H290.9M294.0 247.6H290.9M294.2 244.8H290.9M294.7 242.5H290.9M293.8 239.8H290.9M294.5 237.5H290.9M293.5 231.7H290.9M294.9 225.7H290.9M294.8 222.5H290.9M294.5 219.4H291.3M301.6 252.6H304.2M301.0 247.7H304.2M301.9 245.2H304.2M302.0 240.2H304.2M302.8 237.6H304.2M302.9 235.2H304.2M303.2 229.7H304.2M301.7 226.3H304.2M308.8 253.5H304.2M308.8 251.1H304.2M307.5 246.5H304.2M308.0 243.8H304.2M308.3 238.8H304.2M308.4 236.3H304.2M308.3 233.7H304.2M307.5 230.3H304.2M306.8 227.1H304.2M307.2 223.7H304.2M309.7 213.8H306.7M316.1 253.8H318.9M316.0 249.1H318.9M315.8 246.8H318.9M317.3 244.5H318.9M316.0 239.7H318.9M315.9 237.0H318.9M315.2 214.8H318.2M313.6 211.8H316.3M313.1 208.5H313.9M321.9 250.6H318.9M321.0 245.8H318.9M323.3 243.5H318.9M321.2 238.4H318.9M321.5 236.1H318.9M322.7 230.5H318.9M321.4 224.5H318.9M322.7 215.3H319.2M329.2 248.7H336.7M329.6 246.2H336.7M331.4 241.1H336.7M330.2 238.3H336.7M330.1 232.8H336.7M331.6 226.7H336.7M329.2 223.4H336.7M330.8 220.5H336.4M344.4 248.0H336.7M342.7 240.7H336.7M344.7 238.3H336.7M344.1 235.8H336.7M344.5 230.2H336.7M343.0 224.2H336.7M344.3 221.2H336.7M343.2 215.5H339.6M345.6 209.5H343.2M352.1 252.8H362.0M350.7 250.3H362.0M351.3 248.1H362.0M351.3 243.2H362.0M352.7 238.3H362.0M351.6 236.0H362.0M352.0 233.7H362.0M351.7 230.5H362.0M351.1 223.8H359.6M350.5 214.0H354.7M372.1 252.8H362.0M373.0 250.0H362.0M371.3 247.6H362.0M372.9 242.6H362.0M372.3 240.0H362.0M370.9 237.6H362.0M372.4 235.1H362.0M373.0 226.0H363.7M371.3 223.2H364.9M371.0 219.6H366.9M372.9 216.2H368.6M374.9 209.2H373.5M379.1 250.9H386.4M379.1 248.3H386.4M379.0 245.9H386.4M379.2 243.3H386.4M381.1 238.0H386.4M380.2 230.2H386.4M380.5 224.1H386.4M392.7 253.0H386.4M392.3 250.6H386.4M392.3 247.9H386.4M393.1 240.5H386.4M393.8 238.0H386.4M393.5 235.4H386.4M393.1 226.9H386.4M394.0 223.9H386.4M391.8 221.1H386.9M393.7 218.2H388.6M401.7 252.8H404.2M400.7 250.2H404.2M400.7 247.8H404.2M400.0 245.2H404.2M400.2 242.7H404.2M402.3 240.4H404.2M400.2 237.8H404.2M400.6 235.3H404.2M401.3 232.8H404.2M401.7 230.0H404.2M400.9 226.5H404.2M400.2 223.4H404.2" stroke="#1048e8" stroke-width="1.1" fill="none" opacity="1"/>
<path d="M294.4 235.0H290.9M302.7 242.9H304.2M316.6 234.3H318.9M316.5 230.8H318.9M322.4 240.9H318.9M322.1 233.6H318.9M321.0 227.5H318.9M329.8 250.9H336.7M329.6 243.6H336.7M330.3 235.6H336.7M344.3 252.7H336.7M343.8 243.1H336.7M352.2 245.7H362.0M351.2 241.0H362.0M352.0 220.4H358.2M372.5 245.3H362.0M381.1 240.6H386.4M378.7 235.7H386.4M379.1 221.2H386.0M393.7 242.9H386.4M394.1 233.0H386.4" stroke="#0818b0" stroke-width="1.1" fill="none" opacity="1"/>
<path d="M290.9 252.6H290.9M290.9 250.2H290.9M290.9 247.6H290.9M290.9 244.8H290.9M290.9 242.5H290.9M290.9 239.8H290.9M290.9 237.5H290.9M290.9 235.0H290.9M290.9 231.7H290.9M290.9 228.8H290.9M291.2 225.7H290.9M292.4 222.5H290.9M293.4 219.4H291.0M294.5 216.5H292.8M296.5 213.4H295.7M297.3 210.1H296.8M304.2 252.6H304.2M304.2 249.9H304.2M304.2 247.7H304.2M304.2 245.2H304.2M304.2 242.9H304.2M304.2 240.2H304.2M304.2 237.6H304.2M304.2 235.2H304.2M304.2 232.9H304.2M304.2 229.7H304.2M304.2 226.3H304.2M304.1 223.4H304.2M303.2 220.4H304.2M301.4 217.4H303.8M300.1 214.0H301.0M299.0 210.6H299.4M304.2 253.5H304.2M304.2 251.1H304.2M304.2 248.9H304.2M304.2 246.5H304.2M304.2 243.8H304.2M304.2 241.4H304.2M304.2 238.8H304.2M304.2 236.3H304.2M304.2 233.7H304.2M304.2 230.3H304.2M304.2 227.1H304.2M304.6 223.7H304.2M305.5 220.2H304.2M307.0 217.0H304.5M308.4 213.8H306.4M310.0 211.0H308.6M311.0 208.1H310.4M318.9 253.8H318.9M318.9 251.5H318.9M318.9 249.1H318.9M318.9 246.8H318.9M318.9 244.5H318.9M318.9 242.2H318.9M318.9 239.7H318.9M318.9 237.0H318.9M318.9 234.3H318.9M318.9 230.8H318.9M318.9 227.7H318.9M318.9 224.3H318.9M318.5 221.3H318.9M317.3 218.0H318.9M315.9 214.8H318.5M314.7 211.8H316.4M313.4 208.5H314.0M318.9 252.8H318.9M318.9 250.6H318.9M318.9 248.3H318.9M318.9 245.8H318.9M318.9 243.5H318.9M318.9 240.9H318.9M318.9 238.4H318.9M318.9 236.1H318.9M318.9 233.6H318.9M318.9 230.5H318.9M318.9 227.5H318.9M319.4 224.5H318.9M319.1 221.5H318.9M319.9 218.2H318.9M321.6 215.3H318.9M322.6 212.0H320.9M324.3 209.0H323.5M325.5 205.6H325.0M336.7 253.4H336.7M336.7 250.9H336.7M336.7 248.7H336.7M336.7 246.2H336.7M336.7 243.6H336.7M336.7 241.1H336.7M336.7 238.3H336.7M335.8 235.6H336.7M336.1 232.8H336.7M335.0 229.9H336.7M335.4 226.7H336.7M333.3 223.4H336.7M333.6 220.5H336.4M332.0 217.0H334.7M330.2 214.0H333.0M329.5 211.0H331.0M327.4 207.5H328.3M336.7 252.7H336.7M336.7 250.4H336.7M336.7 248.0H336.7M336.7 245.7H336.7M336.7 243.1H336.7M336.7 240.7H336.7M336.7 238.3H336.7M336.7 235.8H336.7M338.2 233.3H336.7M339.0 230.2H336.7M339.4 227.2H336.7M338.9 224.2H336.7M340.2 221.2H336.7M340.9 218.4H337.8M342.8 215.5H339.3M343.1 212.5H340.9M344.5 209.5H343.0M346.3 206.7H345.4M346.9 203.7H346.4M360.0 252.8H362.0M361.9 250.3H362.0M361.1 248.1H362.0M358.8 245.7H362.0M358.4 243.2H362.0M360.6 241.0H362.0M359.0 238.3H362.0M357.8 236.0H362.0M357.4 233.7H362.0M357.6 230.5H362.0M355.9 227.0H360.8M355.0 223.8H359.6M354.9 220.4H358.2M353.2 217.2H356.7M352.0 214.0H355.0M350.8 210.6H352.9M349.0 207.1H349.8M348.4 204.2H348.8M362.0 252.8H362.0M363.7 250.0H362.0M363.9 247.6H362.0M364.4 245.3H362.0M364.8 242.6H362.0M365.6 240.0H362.0M366.0 237.6H362.0M365.1 235.1H362.0M367.1 232.6H362.0M368.1 229.2H362.5M368.6 226.0H363.7M369.1 223.2H364.9M370.0 219.6H366.5M370.9 216.2H368.2M372.3 212.6H370.4M374.3 209.2H373.4M375.1 205.9H374.7M386.4 253.5H386.4M386.4 250.9H386.4M386.4 248.3H386.4M386.4 245.9H386.4M386.4 243.3H386.4M386.4 240.6H386.4M386.4 238.0H386.4M386.0 235.7H386.4M386.3 233.2H386.4M383.8 230.2H386.4M384.9 227.2H386.4M383.8 224.1H386.4M383.0 221.2H386.0M382.1 218.1H384.5M379.9 214.7H382.6M379.1 211.6H380.6M377.3 208.5H378.0M376.6 205.6H377.0M386.4 253.0H386.4M386.4 250.6H386.4M386.4 247.9H386.4M386.4 245.2H386.4M386.5 242.9H386.4M386.8 240.5H386.4M386.4 238.0H386.4M386.4 235.4H386.4M387.5 233.0H386.4M389.2 229.7H386.4M389.8 226.9H386.4M389.3 223.9H386.4M390.1 221.1H386.9M391.5 218.2H388.2M392.3 214.7H390.1M393.7 211.8H392.1M395.8 208.6H394.9M404.2 252.8H404.2M404.2 250.2H404.2M404.2 247.8H404.2M404.2 245.2H404.2M404.2 242.7H404.2M404.2 240.4H404.2M404.2 237.8H404.2M404.2 235.3H404.2M404.2 232.8H404.2M404.2 230.0H404.2M404.2 226.5H404.2M403.6 223.4H404.2M403.0 220.2H404.2M402.4 217.3H404.2M401.7 214.5H403.9M400.1 211.5H402.0M398.4 208.7H399.4M397.8 205.3H398.2" stroke="#0c44d8" stroke-width="1.1" fill="none" opacity="1"/>
<path d="M312.2 209.6H310.6M312.2 210.1H314.0M326.3 210.6H323.5M347.6 208.3H345.2M347.6 208.7H350.5M397.1 213.4H393.1" stroke="#a0f050" stroke-width="1.0" fill="none" opacity="1"/>
<path d="M298.0 249.1H291.8M298.0 244.1H291.8M298.0 233.3H291.8M298.0 230.3H291.8M298.0 227.3H291.8M298.0 224.1H292.3M298.0 220.9H292.6M298.0 218.1H293.9M298.0 214.9H295.1M298.0 211.7H297.0M298.0 249.3H303.4M298.0 244.5H303.4M298.0 241.8H303.4M298.0 231.3H303.4M298.0 227.8H303.4M298.0 225.0H303.4M298.0 222.0H303.4M298.0 219.0H302.8M298.0 215.6H300.9M298.0 212.2H299.4M312.2 255.0H305.1M312.2 248.1H305.1M312.2 240.3H305.1M312.2 228.7H305.1M312.2 225.3H305.1M312.2 218.6H305.5M312.2 215.4H308.0M312.2 212.6H309.0M312.2 206.3H311.4M312.2 255.4H318.1M312.2 229.3H318.1M312.2 225.9H318.1M312.2 222.8H318.1M312.2 219.6H318.1M312.2 216.4H316.7M312.2 213.4H315.3M312.2 206.6H312.9M326.3 235.2H319.8M326.3 232.1H319.8M326.3 229.1H319.8M326.3 226.0H319.8M326.3 219.8H319.8M326.3 213.6H321.7M326.3 207.2H325.0M326.3 228.3H334.3M326.3 225.0H335.7M326.3 222.1H333.1M326.3 218.6H332.8M326.3 212.6H330.3M326.3 209.1H328.4M326.3 206.0H327.3M347.6 254.3H337.5M347.6 237.4H337.5M347.6 231.8H337.5M347.6 228.7H339.4M347.6 225.8H339.9M347.6 220.0H340.5M347.6 217.1H341.0M347.6 211.1H343.5M347.6 205.3H346.3M347.6 244.7H359.0M347.6 235.3H357.7M347.6 232.1H357.0M347.6 218.7H354.7M347.6 215.6H353.5M347.6 212.2H352.2M347.6 205.7H348.6M375.9 224.7H368.3M375.9 221.2H369.8M375.9 217.7H370.4M375.9 214.2H371.6M375.9 210.8H373.3M375.9 207.5H374.6M375.9 242.2H385.6M375.9 234.8H385.6M375.9 225.7H384.8M375.9 222.8H384.3M375.9 219.7H382.9M375.9 216.3H380.6M375.9 213.2H379.8M375.9 210.1H378.0M375.9 207.2H377.2M397.1 254.6H387.3M397.1 239.6H387.3M397.1 234.6H387.3M397.1 231.3H388.6M397.1 225.4H389.0M397.1 219.8H390.0M397.1 216.3H391.8M397.1 210.1H394.8M397.1 206.6H396.2M397.1 234.4H403.3M397.1 231.6H403.3M397.1 228.1H403.3M397.1 221.8H403.3M397.1 216.1H401.6M397.1 213.1H401.1M397.1 210.3H399.9M397.1 206.9H398.2" stroke="#eee820" stroke-width="1.0" fill="none" opacity="1"/>
<path d="M298.0 241.4H291.8M298.0 236.6H291.8M298.0 251.5H303.4M298.0 236.8H303.4M298.0 234.5H303.4M312.2 252.7H305.1M312.2 242.9H305.1M312.2 237.9H305.1M312.2 235.3H305.1M312.2 231.9H305.1M312.2 221.8H306.0M312.2 253.1H318.1M312.2 250.7H318.1M312.2 246.1H318.1M312.2 241.3H318.1M312.2 235.9H318.1M312.2 232.4H318.1M326.3 249.9H319.8M326.3 247.4H319.8M326.3 242.5H319.8M326.3 240.0H319.8M326.3 237.7H319.8M326.3 223.0H319.8M326.3 216.9H321.1M326.3 255.0H335.8M326.3 247.8H335.8M326.3 242.7H335.8M326.3 239.9H335.8M326.3 237.2H335.8M326.3 234.4H335.8M326.3 231.5H335.8M326.3 215.6H332.3M347.6 252.0H337.5M347.6 247.2H337.5M347.6 239.8H337.5M347.6 234.9H337.5M347.6 222.8H340.9M347.6 214.1H342.6M347.6 249.7H361.1M347.6 247.3H361.1M347.6 242.6H358.1M347.6 239.9H361.0M347.6 237.6H359.1M347.6 228.6H357.0M347.6 225.4H356.8M347.6 222.0H355.8M375.9 254.4H362.8M375.9 251.6H362.8M375.9 249.2H364.6M375.9 246.9H365.0M375.9 244.2H364.5M375.9 241.6H363.5M375.9 234.2H363.9M375.9 230.7H366.2M375.9 227.6H365.8M375.9 255.0H385.6M375.9 252.4H385.6M375.9 249.8H385.6M375.9 244.9H385.6M375.9 239.6H385.6M375.9 231.7H384.0M375.9 228.8H384.2M397.1 249.5H387.3M397.1 246.8H387.3M397.1 244.5H387.3M397.1 237.0H387.3M397.1 228.5H388.9M397.1 222.6H390.1M397.1 251.8H403.3M397.1 249.4H403.3M397.1 246.7H403.3M397.1 244.3H403.3M397.1 242.0H403.3M397.1 239.4H403.3M397.1 224.9H403.3M397.1 218.9H403.3" stroke="#f8a018" stroke-width="1.0" fill="none" opacity="1"/>
<path d="M298.0 254.2H291.8M298.0 251.7H291.8M298.0 246.4H291.8M298.0 239.1H291.8M298.0 254.1H303.4M298.0 246.8H303.4M298.0 239.2H303.4M312.2 250.5H305.1M312.2 245.4H305.1M312.2 248.4H318.1M312.2 243.8H318.1M312.2 238.6H318.1M326.3 254.4H319.8M326.3 252.1H319.8M326.3 245.1H319.8M326.3 252.5H335.8M326.3 250.3H335.8M326.3 245.1H335.8M347.6 249.6H337.5M347.6 244.7H337.5M347.6 242.3H337.5M347.6 254.4H361.1M347.6 251.9H361.1M375.9 239.2H362.9M375.9 236.7H365.5M375.9 247.5H385.6M375.9 237.2H385.6M397.1 252.2H387.3M397.1 242.1H387.3M397.1 254.4H403.3M397.1 236.9H403.3" stroke="#e84020" stroke-width="1.0" fill="none" opacity="1"/>
<path d="M304.7 257.2V252.5M303.9 251.2V247.0M303.9 245.7V241.0M304.6 239.7V236.1M304.6 236.1V233.5M304.3 233.5V230.9M304.4 230.9V228.5M303.8 227.2V223.8" stroke="#0c34d0" stroke-width="1.3" fill="none"/>
<path d="M319.1 257.2V254.9M319.4 254.9V251.8M318.8 251.8V247.9M319.1 246.6V243.4M318.9 243.4V240.8M319.4 239.5V235.3M318.9 234.0V229.7M319.2 229.7V225.7M319.3 224.4V220.6" stroke="#0c34d0" stroke-width="1.3" fill="none"/>
<path d="M337.0 257.2V253.8M336.5 253.8V249.6M337.1 248.3V244.5M336.3 244.5V240.9M336.5 240.9V238.5M336.9 238.5V235.7M336.5 234.4V230.1M336.4 230.1V226.9" stroke="#0c34d0" stroke-width="1.3" fill="none"/>
<path d="M361.9 257.2V254.1M362.4 254.1V251.0M362.5 251.0V248.2M361.5 248.2V245.8M362.1 244.5V241.1M361.8 241.1V236.7" stroke="#0c34d0" stroke-width="1.3" fill="none"/>
<path d="M387.0 257.2V252.8M386.8 252.8V250.6M386.8 249.3V245.3M386.8 245.3V242.8M386.2 242.8V239.6M386.7 239.6V236.0M386.6 234.7V231.0M386.8 229.7V227.9" stroke="#0c34d0" stroke-width="1.3" fill="none"/>
<path d="M298.0 256.6H397.1" stroke="#f4a820" stroke-width="0.8" fill="none"/>
<path d="M298.0 257.2V210.2" stroke="#f4ac20" stroke-width="1.2" fill="none"/>
<path d="M298.0 257.2V221.2" stroke="#ee5a18" stroke-width="0.6" fill="none"/>
<circle cx="298.0" cy="256.5" r="0.9" fill="#e01010"/>
<path d="M312.2 257.2V206.9" stroke="#f4ac20" stroke-width="1.2" fill="none"/>
<path d="M312.2 257.2V218.6" stroke="#ee5a18" stroke-width="0.6" fill="none"/>
<circle cx="312.2" cy="256.5" r="0.9" fill="#e01010"/>
<path d="M326.3 257.2V205.6" stroke="#f4ac20" stroke-width="1.2" fill="none"/>
<path d="M326.3 257.2V217.7" stroke="#ee5a18" stroke-width="0.6" fill="none"/>
<circle cx="326.3" cy="256.5" r="0.9" fill="#e01010"/>
<path d="M347.6 257.2V204.4" stroke="#f4ac20" stroke-width="1.2" fill="none"/>
<path d="M347.6 257.2V216.7" stroke="#ee5a18" stroke-width="0.6" fill="none"/>
<circle cx="347.6" cy="256.5" r="0.9" fill="#e01010"/>
<path d="M375.9 257.2V206.1" stroke="#f4ac20" stroke-width="1.2" fill="none"/>
<path d="M375.9 257.2V218.1" stroke="#ee5a18" stroke-width="0.6" fill="none"/>
<circle cx="375.9" cy="256.5" r="0.9" fill="#e01010"/>
<path d="M397.1 257.2V205.9" stroke="#f4ac20" stroke-width="1.2" fill="none"/>
<path d="M397.1 257.2V217.9" stroke="#ee5a18" stroke-width="0.6" fill="none"/>
<circle cx="397.1" cy="256.5" r="0.9" fill="#e01010"/>
</g></g></g>
<text x="302.8" y="164.5" class="lb">70s</text>
<text x="293.6" y="258.9" class="tk" text-anchor="end">0</text>
<text x="293.6" y="250.4" class="tk" text-anchor="end">1</text>
<text x="293.6" y="241.8" class="tk" text-anchor="end">2</text>
<text x="293.6" y="233.2" class="tk" text-anchor="end">3</text>
<text x="293.6" y="224.6" class="tk" text-anchor="end">4</text>
<text x="293.6" y="216.0" class="tk" text-anchor="end">5</text>
<text x="293.6" y="207.4" class="tk" text-anchor="end">6</text>
<text x="293.6" y="198.9" class="tk" text-anchor="end">7</text>
<text x="293.6" y="190.3" class="tk" text-anchor="end">8</text>
<text x="293.6" y="181.7" class="tk" text-anchor="end">9</text>
<text x="293.6" y="173.1" class="tk" text-anchor="end">10</text>
<text x="293.6" y="164.5" class="tk" text-anchor="end">11</text>
<text x="293.6" y="155.9" class="tk" text-anchor="end">12</text>
<text x="298.0" y="269.2" class="tk" text-anchor="middle">0</text>
<text x="312.2" y="269.2" class="tk" text-anchor="middle">2</text>
<text x="326.3" y="269.2" class="tk" text-anchor="middle">4</text>
<text x="340.5" y="269.2" class="tk" text-anchor="middle">6</text>
<text x="354.6" y="269.2" class="tk" text-anchor="middle">8</text>
<text x="368.8" y="269.2" class="tk" text-anchor="middle">10</text>
<text x="382.9" y="269.2" class="tk" text-anchor="middle">12</text>
<text x="284.6" y="149.7" class="tk" text-anchor="middle">µm</text>
<text x="399.0" y="267.4" class="tk" text-anchor="middle">µm</text>
<text x="346.9" y="146.0" class="tk" text-anchor="middle" fill="#7080a0">ξ</text>
<rect x="402.8" y="154.5" width="1.4" height="108.0" fill="url(#cb)" opacity="0.78"/>
<text x="404.5" y="264.0" class="ck">0</text>
<text x="404.5" y="252.7" class="ck">0.1</text>
<text x="404.5" y="241.3" class="ck">0.2</text>
<text x="404.5" y="229.9" class="ck">0.3</text>
<text x="404.5" y="218.6" class="ck">0.4</text>
<text x="404.5" y="207.2" class="ck">0.5</text>
<text x="404.5" y="195.8" class="ck">0.6</text>
<text x="404.5" y="184.5" class="ck">0.7</text>
<text x="404.5" y="173.1" class="ck">0.8</text>
<text x="404.5" y="161.7" class="ck">0.9</text>
<text transform="translate(289.4,201.4) rotate(-90)" class="yl" font-size="8.0" text-anchor="middle">Height / µm</text>
<text x="353.1" y="276.3" class="xl" text-anchor="middle">x / µm</text>
<rect x="427.0" y="146.5" width="108.6" height="117.2" fill="none" stroke="#e2e2e2" stroke-width="0.8"/>
<rect x="431.8" y="153.3" width="99.0" height="103.2" fill="#000084"/>
<clipPath id="c7"><rect x="431.8" y="153.3" width="99.0" height="103.2"/></clipPath>
<clipPath id="s7"><polygon points="431.8,256.5 431.8,197.1 432.5,199.0 433.2,201.1 433.9,203.4 434.6,204.1 435.3,204.9 436.0,205.8 436.8,206.9 437.5,208.0 438.2,209.2 438.9,210.5 439.6,209.2 440.3,208.0 441.0,206.9 441.7,205.8 442.4,204.9 443.1,204.1 443.8,203.4 444.5,201.1 445.2,199.0 445.9,197.1 446.6,199.0 447.4,201.1 448.1,203.4 448.8,204.1 449.5,204.9 450.2,205.8 450.9,206.9 451.6,208.0 452.3,209.1 452.3,209.0 453.0,207.7 453.7,206.4 454.4,205.1 455.1,204.0 455.8,203.0 456.6,202.1 457.3,201.3 458.0,200.6 458.7,198.3 459.4,196.2 460.1,194.2 460.8,196.2 461.5,198.3 462.2,200.6 462.9,201.3 463.6,202.1 464.3,203.0 465.0,204.0 465.7,205.1 466.4,206.4 467.2,207.7 467.9,209.0 468.6,210.5 469.3,212.0 470.0,213.6 470.7,215.3 471.4,213.6 472.1,212.0 472.8,210.5 473.5,209.0 474.2,207.7 474.9,206.4 475.6,205.1 476.3,204.0 477.1,203.0 477.8,202.1 478.5,201.3 479.2,200.6 479.9,198.3 480.6,196.2 481.3,194.2 482.0,196.2 482.7,198.3 483.4,200.6 484.1,201.3 484.8,202.1 485.5,203.0 486.2,204.0 487.0,205.1 487.7,206.4 488.4,207.7 489.1,209.0 489.8,210.5 490.5,212.0 491.2,213.6 491.9,215.3 492.6,217.1 493.3,218.9 494.0,220.8 494.7,222.7 495.4,224.7 495.4,224.6 496.1,222.6 496.9,220.6 497.6,218.7 498.3,216.9 499.0,215.1 499.7,213.5 500.4,211.9 501.1,210.3 501.8,208.9 502.5,207.5 503.2,206.2 503.9,205.0 504.6,203.9 505.3,202.8 506.0,201.9 506.8,201.1 507.5,200.4 508.2,198.1 508.9,196.0 509.6,194.1 510.3,196.0 511.0,198.1 511.7,200.4 512.4,201.1 513.1,201.9 513.8,202.8 514.5,203.9 515.2,205.0 515.9,206.2 516.7,207.5 517.4,208.9 518.1,210.3 518.8,211.9 519.5,213.5 520.2,215.1 520.5,216.0 520.9,215.2 521.6,213.6 522.3,212.0 523.0,210.6 523.7,209.2 524.4,207.9 525.1,206.7 525.8,205.6 526.6,204.6 527.3,203.6 528.0,202.8 528.7,202.1 529.4,199.8 530.1,197.7 530.8,195.8 530.8,256.5"/></clipPath>
<g clip-path="url(#c7)"><g filter="url(#bl)">
<polygon points="431.8,256.5 431.8,197.1 432.5,199.0 433.2,201.1 433.9,203.4 434.6,204.1 435.3,204.9 436.0,205.8 436.8,206.9 437.5,208.0 438.2,209.2 438.9,210.5 439.6,209.2 440.3,208.0 441.0,206.9 441.7,205.8 442.4,204.9 443.1,204.1 443.8,203.4 444.5,201.1 445.2,199.0 445.9,197.1 446.6,199.0 447.4,201.1 448.1,203.4 448.8,204.1 449.5,204.9 450.2,205.8 450.9,206.9 451.6,208.0 452.3,209.1 452.3,209.0 453.0,207.7 453.7,206.4 454.4,205.1 455.1,204.0 455.8,203.0 456.6,202.1 457.3,201.3 458.0,200.6 458.7,198.3 459.4,196.2 460.1,194.2 460.8,196.2 461.5,198.3 462.2,200.6 462.9,201.3 463.6,202.1 464.3,203.0 465.0,204.0 465.7,205.1 466.4,206.4 467.2,207.7 467.9,209.0 468.6,210.5 469.3,212.0 470.0,213.6 470.7,215.3 471.4,213.6 472.1,212.0 472.8,210.5 473.5,209.0 474.2,207.7 474.9,206.4 475.6,205.1 476.3,204.0 477.1,203.0 477.8,202.1 478.5,201.3 479.2,200.6 479.9,198.3 480.6,196.2 481.3,194.2 482.0,196.2 482.7,198.3 483.4,200.6 484.1,201.3 484.8,202.1 485.5,203.0 486.2,204.0 487.0,205.1 487.7,206.4 488.4,207.7 489.1,209.0 489.8,210.5 490.5,212.0 491.2,213.6 491.9,215.3 492.6,217.1 493.3,218.9 494.0,220.8 494.7,222.7 495.4,224.7 495.4,224.6 496.1,222.6 496.9,220.6 497.6,218.7 498.3,216.9 499.0,215.1 499.7,213.5 500.4,211.9 501.1,210.3 501.8,208.9 502.5,207.5 503.2,206.2 503.9,205.0 504.6,203.9 505.3,202.8 506.0,201.9 506.8,201.1 507.5,200.4 508.2,198.1 508.9,196.0 509.6,194.1 510.3,196.0 511.0,198.1 511.7,200.4 512.4,201.1 513.1,201.9 513.8,202.8 514.5,203.9 515.2,205.0 515.9,206.2 516.7,207.5 517.4,208.9 518.1,210.3 518.8,211.9 519.5,213.5 520.2,215.1 520.5,216.0 520.9,215.2 521.6,213.6 522.3,212.0 523.0,210.6 523.7,209.2 524.4,207.9 525.1,206.7 525.8,205.6 526.6,204.6 527.3,203.6 528.0,202.8 528.7,202.1 529.4,199.8 530.1,197.7 530.8,195.8 530.8,256.5" fill="#0c50ec" stroke="#0828c0" stroke-width="0.5"/>
<g clip-path="url(#s7)">
<path d="M431.8 197.7L433.7 203.6L437.7 209.4L440.5 215.3L442.9 221.2L445.0 227.1L446.8 233.0L448.6 238.9L450.2 244.7L451.8 250.6L453.3 256.5L410.3 256.5L411.8 250.6L413.4 244.7L415.0 238.9L416.8 233.0L418.6 227.1L420.7 221.2L423.1 215.3L425.9 209.4L429.9 203.6ZM445.9 197.7L447.8 203.6L451.9 209.4L454.7 215.3L457.0 221.2L459.1 227.1L461.0 233.0L462.7 238.9L464.4 244.7L465.9 250.6L467.4 256.5L424.5 256.5L425.9 250.6L427.5 244.7L429.1 238.9L430.9 233.0L432.8 227.1L434.8 221.2L437.2 215.3L440.0 209.4L444.0 203.6ZM460.1 194.9L462.1 201.0L466.3 207.2L469.2 213.4L471.6 219.5L473.7 225.7L475.6 231.8L477.4 238.0L479.1 244.2L480.7 250.3L482.3 256.5L437.9 256.5L439.4 250.3L441.0 244.2L442.7 238.0L444.5 231.8L446.5 225.7L448.6 219.5L451.0 213.4L453.9 207.2L458.1 201.0ZM481.3 194.9L483.3 201.0L487.5 207.2L490.4 213.4L492.8 219.5L494.9 225.7L496.9 231.8L498.7 238.0L500.3 244.2L501.9 250.3L503.5 256.5L459.1 256.5L460.7 250.3L462.3 244.2L463.9 238.0L465.7 231.8L467.7 225.7L469.8 219.5L472.2 213.4L475.1 207.2L479.3 201.0ZM509.6 194.7L511.6 200.9L515.8 207.1L518.7 213.2L521.1 219.4L523.2 225.6L525.2 231.8L527.0 238.0L528.7 244.1L530.3 250.3L531.8 256.5L487.4 256.5L488.9 250.3L490.5 244.1L492.2 238.0L494.0 231.8L495.9 225.6L498.1 219.4L500.5 213.2L503.3 207.1L507.6 200.9ZM530.8 196.4L532.7 202.4L536.9 208.4L539.7 214.4L542.1 220.4L544.2 226.4L546.1 232.5L547.9 238.5L549.5 244.5L551.1 250.5L552.6 256.5L509.0 256.5L510.5 250.5L512.1 244.5L513.7 238.5L515.5 232.5L517.4 226.4L519.5 220.4L521.9 214.4L524.7 208.4L528.9 202.4Z" fill="#22c8d0"/>
<path d="M431.8 198.6L433.5 204.4L437.2 210.1L439.7 215.9L441.8 221.7L443.7 227.5L445.4 233.3L447.0 239.1L448.5 244.9L449.9 250.7L451.2 256.5L412.4 256.5L413.7 250.7L415.1 244.9L416.6 239.1L418.2 233.3L419.9 227.5L421.8 221.7L423.9 215.9L426.4 210.1L430.1 204.4ZM445.9 198.6L447.7 204.4L451.3 210.1L453.9 215.9L456.0 221.7L457.9 227.5L459.6 233.3L461.1 239.1L462.6 244.9L464.0 250.7L465.4 256.5L426.5 256.5L427.8 250.7L429.3 244.9L430.7 239.1L432.3 233.3L434.0 227.5L435.9 221.7L438.0 215.9L440.6 210.1L444.2 204.4ZM460.1 195.8L461.9 201.9L465.7 207.9L468.3 214.0L470.5 220.1L472.4 226.1L474.2 232.2L475.8 238.3L477.3 244.4L478.8 250.4L480.2 256.5L440.0 256.5L441.4 250.4L442.8 244.4L444.4 238.3L446.0 232.2L447.7 226.1L449.7 220.1L451.8 214.0L454.5 207.9L458.3 201.9ZM481.3 195.8L483.1 201.9L486.9 207.9L489.5 214.0L491.7 220.1L493.6 226.1L495.4 232.2L497.0 238.3L498.5 244.4L500.0 250.4L501.4 256.5L461.2 256.5L462.6 250.4L464.1 244.4L465.6 238.3L467.2 232.2L469.0 226.1L470.9 220.1L473.1 214.0L475.7 207.9L479.5 201.9ZM509.6 195.6L511.4 201.7L515.2 207.8L517.9 213.9L520.0 220.0L521.9 226.1L523.7 232.1L525.3 238.2L526.9 244.3L528.3 250.4L529.7 256.5L489.5 256.5L490.9 250.4L492.3 244.3L493.8 238.2L495.5 232.1L497.2 226.1L499.1 220.0L501.3 213.9L503.9 207.8L507.8 201.7ZM530.8 197.3L532.6 203.2L536.3 209.1L538.9 215.1L541.0 221.0L542.9 226.9L544.6 232.8L546.2 238.7L547.7 244.7L549.2 250.6L550.5 256.5L511.1 256.5L512.4 250.6L513.9 244.7L515.4 238.7L517.0 232.8L518.7 226.9L520.6 221.0L522.7 215.1L525.3 209.1L529.0 203.2Z" fill="#44de8c"/>
<path d="M431.8 250.9H423.7M431.8 248.7H423.7M431.8 243.8H423.7M431.8 241.3H423.7M431.8 226.1H423.7M431.8 223.0H423.7M431.8 220.0H423.7M431.8 216.5H423.7M431.8 213.0H423.7M431.8 210.2H425.5M431.8 206.8H427.5M431.8 200.6H430.7M431.8 254.2H439.9M431.8 247.1H439.9M431.8 244.8H439.9M431.8 242.2H439.9M431.8 239.6H439.9M431.8 237.3H439.9M431.8 229.3H439.9M431.8 222.8H439.9M431.8 219.4H439.9M431.8 216.3H439.9M431.8 213.3H438.9M431.8 210.2H438.2M431.8 206.8H437.2M445.9 253.4H437.9M445.9 220.5H437.9M445.9 217.4H437.9M445.9 210.7H438.8M445.9 207.2H441.7M445.9 203.8H443.4M445.9 200.7H444.9M445.9 239.0H453.1M445.9 231.6H453.1M445.9 226.1H453.1M445.9 220.4H453.1M445.9 216.9H453.1M445.9 213.9H453.1M445.9 210.7H452.0M445.9 207.4H450.9M445.9 204.2H449.1M445.9 200.7H447.3M460.1 243.2H451.0M460.1 228.5H451.0M460.1 221.6H451.0M460.1 218.4H451.0M460.1 215.2H451.0M460.1 212.4H451.0M460.1 209.6H451.3M460.1 206.1H453.4M460.1 203.0H456.4M460.1 199.4H458.2M460.1 247.8H472.8M460.1 235.9H472.8M460.1 225.2H472.8M460.1 222.1H472.8M460.1 216.3H472.5M460.1 212.8H468.1M460.1 209.9H468.8M460.1 207.0H467.7M460.1 203.5H464.2M460.1 200.0H461.7M460.1 196.9H461.0M481.3 254.3H468.6M481.3 244.3H468.6M481.3 236.8H468.6M481.3 234.1H468.6M481.3 229.0H468.6M481.3 225.4H469.5M481.3 222.2H470.2M481.3 218.8H468.9M481.3 215.9H470.7M481.3 212.8H472.1M481.3 209.4H473.6M481.3 206.2H474.6M481.3 203.0H476.7M481.3 199.5H479.5M481.3 239.0H497.4M481.3 232.0H495.5M481.3 229.3H498.5M481.3 222.6H496.1M481.3 216.1H490.5M481.3 213.3H492.3M481.3 210.1H488.7M481.3 207.0H487.9M481.3 200.6H483.0M481.3 197.1H482.4M509.6 238.6H492.3M509.6 216.4H497.1M509.6 213.5H498.9M509.6 210.3H502.7M509.6 206.9H504.1M509.6 203.5H505.6M509.6 200.5H507.1M509.6 197.1H508.4M509.6 253.8H522.7M509.6 248.8H522.7M509.6 246.1H522.7M509.6 215.7H520.7M509.6 212.3H519.8M509.6 209.3H518.3M509.6 206.1H516.0M509.6 203.2H513.6M509.6 200.2H511.6M509.6 196.7H510.6M530.8 249.0H518.6M530.8 246.4H518.6M530.8 241.5H518.6M530.8 225.7H518.6M530.8 219.0H520.2M530.8 208.6H524.3M530.8 202.1H528.4M530.8 247.4H538.9M530.8 242.0H538.9M530.8 226.5H538.9M530.8 223.1H538.9M530.8 216.8H538.9M530.8 213.5H538.9M530.8 210.6H538.5M530.8 207.6H537.0M530.8 204.4H534.8M431.8 246.4H423.7M431.8 239.0H423.7M431.8 234.0H423.7M431.8 231.8H423.7M431.8 229.3H423.7M431.8 251.9H439.9M431.8 249.6H439.9M431.8 234.6H439.9M431.8 226.2H439.9M445.9 250.8H437.9M445.9 248.0H437.9M445.9 242.6H437.9M445.9 240.1H437.9M445.9 235.3H437.9M445.9 232.7H437.9M445.9 230.1H437.9M445.9 226.9H437.9M445.9 223.7H437.9M445.9 214.1H438.0M445.9 253.8H453.1M445.9 246.4H453.1M445.9 243.7H453.1M445.9 236.7H453.1M445.9 234.0H453.1M445.9 229.4H453.1M445.9 223.3H453.1M460.1 250.7H451.0M460.1 245.7H451.0M460.1 241.0H451.0M460.1 238.7H451.0M460.1 236.2H451.0M460.1 231.1H451.0M460.1 225.0H451.0M460.1 255.0H472.8M460.1 252.8H472.8M460.1 250.4H472.8M460.1 245.4H472.8M460.1 243.1H472.8M460.1 233.1H472.8M460.1 230.7H472.8M460.1 228.1H472.8M460.1 219.3H470.5M481.3 251.7H468.6M481.3 246.6H468.6M481.3 231.4H468.6M481.3 254.6H498.5M481.3 252.1H498.5M481.3 246.7H498.5M481.3 244.2H498.5M481.3 241.6H498.5M481.3 236.7H497.4M481.3 225.8H494.2M481.3 219.4H494.9M509.6 253.8H492.3M509.6 248.3H492.3M509.6 243.6H492.3M509.6 241.1H492.3M509.6 236.0H493.8M509.6 230.9H492.6M509.6 228.7H494.9M509.6 225.6H493.4M509.6 222.8H497.6M509.6 219.5H496.4M509.6 243.8H522.7M509.6 241.2H522.7M509.6 233.9H522.7M509.6 228.8H522.1M509.6 225.8H522.7M509.6 222.4H522.5M509.6 219.0H522.7M530.8 251.4H518.6M530.8 244.1H518.6M530.8 238.7H518.6M530.8 231.5H518.6M530.8 229.2H518.6M530.8 222.5H518.6M530.8 215.4H522.4M530.8 212.1H521.8M530.8 254.7H538.9M530.8 252.1H538.9M530.8 249.9H538.9M530.8 244.7H538.9M530.8 239.8H538.9M530.8 229.4H538.9M530.8 219.8H538.9M431.8 203.7H429.4M431.8 203.7H434.4M431.8 200.2H432.9M481.3 203.7H485.4M530.8 205.1H526.2M530.8 198.9H529.9M530.8 200.9H532.7M431.8 253.5H423.7M431.8 236.5H423.7M431.8 232.0H439.9M445.9 245.4H437.9M445.9 237.6H437.9M445.9 251.3H453.1M445.9 248.6H453.1M445.9 241.3H453.1M460.1 253.5H451.0M460.1 248.4H451.0M460.1 233.8H451.0M460.1 240.7H472.8M460.1 238.4H472.8M481.3 249.0H468.6M481.3 241.6H468.6M481.3 239.2H468.6M481.3 249.4H498.5M481.3 234.3H498.5M509.6 251.0H492.3M509.6 245.9H492.3M509.6 233.4H492.3M509.6 251.4H522.7M509.6 238.8H522.7M509.6 236.5H522.7M509.6 231.3H522.7M530.8 254.1H518.6M530.8 236.4H518.6M530.8 233.9H518.6M530.8 237.3H538.9M530.8 234.7H538.9M530.8 231.9H538.9" stroke="#3cd8a0" stroke-width="1.7" fill="none" opacity="1"/>
<path d="M427.3 214.9H424.7M429.7 208.6H425.5M430.0 205.2H427.9M431.1 202.1H430.0M436.3 227.7H438.9M434.1 208.6H438.1M433.4 205.2H435.8M441.7 212.5H438.9M451.2 215.3H452.3M450.3 212.4H452.3M457.2 204.5H454.6M459.0 201.4H457.0M462.4 205.4H466.2M477.6 207.8H473.8M478.2 204.6H475.7M479.6 201.4H478.2M483.4 205.4H487.4M482.9 202.1H485.1M506.3 227.1H495.4M507.6 201.9H505.9M508.6 198.9H507.8M513.0 210.7H518.7M510.2 198.6H511.2M527.9 224.1H520.5M526.5 210.5H522.7M535.2 227.8H537.9M535.8 211.9H537.9M533.3 209.0H537.9" stroke="#20b8e8" stroke-width="1.1" fill="none" opacity="1"/>
<path d="M426.7 251.9H424.7M427.1 249.3H424.7M426.8 247.1H424.7M427.9 244.8H424.7M427.9 242.2H424.7M427.0 239.8H424.7M427.7 237.4H424.7M428.7 234.9H424.7M427.5 232.4H424.7M427.6 230.2H424.7M427.5 227.7H424.7M426.8 224.5H424.7M427.5 221.5H424.7M426.7 218.4H424.7M434.8 250.3H438.9M434.9 248.0H438.9M437.0 245.5H438.9M436.5 243.2H438.9M436.9 240.6H438.9M435.3 238.0H438.9M436.3 235.7H438.9M436.5 233.0H438.9M435.0 230.4H438.9M436.6 224.6H438.9M435.4 221.2H438.9M436.2 217.8H438.9M437.0 214.8H438.9M432.8 202.1H433.6M441.1 251.8H438.9M441.3 249.2H438.9M441.7 243.8H438.9M440.8 241.0H438.9M441.2 236.0H438.9M443.0 233.7H438.9M442.4 231.1H438.9M441.5 222.1H438.9M441.5 218.9H438.9M442.2 209.1H439.3M444.2 205.6H441.7M445.0 202.2H444.1M449.3 252.2H452.3M449.0 249.7H452.3M450.6 247.0H452.3M451.1 244.8H452.3M451.1 242.1H452.3M448.8 239.7H452.3M449.1 237.4H452.3M449.5 235.1H452.3M450.2 232.4H452.3M451.1 230.1H452.3M449.6 227.8H452.3M449.2 224.5H452.3M450.7 218.8H452.3M449.3 209.1H452.3M446.8 202.6H447.9M455.8 251.9H452.3M456.7 246.8H452.3M454.9 244.1H452.3M455.2 241.6H452.3M456.0 239.4H452.3M456.1 237.1H452.3M456.7 234.6H452.3M455.0 232.2H452.3M455.5 229.5H452.3M455.4 223.4H452.3M455.6 220.0H452.3M456.2 216.8H452.3M454.9 213.6H452.3M456.3 210.8H452.3M457.0 208.0H452.5M465.2 253.4H470.7M464.7 251.2H470.7M464.9 248.8H470.7M464.4 246.2H470.7M463.2 243.8H470.7M463.5 241.5H470.7M465.2 239.1H470.7M464.8 236.8H470.7M465.2 234.3H470.7M463.2 231.5H470.7M463.4 229.1H470.7M463.1 226.5H470.7M463.6 223.6H470.7M464.5 220.5H470.7M464.4 217.7H470.7M465.3 214.7H470.7M463.8 211.2H469.4M463.2 208.3H467.9M461.7 201.9H463.6M478.1 252.7H470.7M478.2 250.1H470.7M478.1 247.4H470.7M477.5 245.0H470.7M476.6 242.7H470.7M476.3 240.0H470.7M476.5 237.6H470.7M477.6 235.2H470.7M477.2 232.5H470.7M476.6 229.8H470.7M478.3 227.4H470.7M477.1 223.9H470.7M476.8 220.6H470.7M476.7 211.2H472.0M486.2 253.0H495.4M486.5 250.5H495.4M484.8 245.1H495.4M484.9 242.6H495.4M484.2 240.0H495.4M486.1 237.5H495.4M484.1 235.2H495.4M486.4 232.7H495.4M484.3 230.4H495.4M486.6 227.7H495.4M485.5 224.2H495.4M486.2 221.0H495.4M484.7 217.8H494.1M485.0 214.6H492.6M506.2 252.2H495.4M506.2 249.5H495.4M505.8 246.7H495.4M505.2 242.0H495.4M506.3 239.5H495.4M506.2 237.0H495.4M504.4 234.4H495.4M506.6 231.8H495.4M506.8 229.3H495.4M506.7 221.2H495.4M505.5 217.9H496.7M505.0 214.8H498.1M513.0 252.2H520.5M514.9 249.8H520.5M514.3 247.2H520.5M513.4 244.5H520.5M514.2 242.2H520.5M513.0 239.7H520.5M514.7 237.2H520.5M512.7 229.7H520.5M512.4 227.2H520.5M513.5 220.8H520.5M512.7 217.4H520.5M512.6 214.1H520.5M513.8 207.7H517.1M512.5 204.5H515.2M526.5 252.5H520.5M525.6 249.9H520.5M526.6 247.4H520.5M526.6 244.8H520.5M526.9 242.5H520.5M526.3 239.9H520.5M526.7 237.1H520.5M527.1 234.9H520.5M525.6 232.3H520.5M528.0 229.9H520.5M526.9 227.6H520.5M526.4 220.9H520.5M527.3 217.4H520.5M528.7 207.0H524.7M529.2 203.5H527.2M534.8 253.1H537.9M535.9 248.3H537.9M534.8 245.8H537.9M535.1 243.1H537.9M534.2 240.5H537.9M535.4 238.2H537.9M534.4 235.7H537.9M535.8 225.0H537.9M535.1 221.6H537.9M533.8 218.2H537.9M535.1 215.2H537.9M533.0 206.0H536.3M532.0 202.8H533.7" stroke="#1048e8" stroke-width="1.1" fill="none" opacity="1"/>
<path d="M435.8 252.6H438.9M440.9 246.4H438.9M442.0 238.5H438.9M443.0 228.5H438.9M442.7 225.3H438.9M441.0 215.8H438.9M449.2 221.7H452.3M457.2 249.2H452.3M455.2 227.0H452.3M477.9 217.2H470.7M476.2 214.3H470.7M485.2 247.8H495.4M505.6 244.3H495.4M506.1 224.0H495.4M513.6 234.9H520.5M512.4 232.3H520.5M512.5 224.2H520.5M535.9 250.5H537.9M535.2 233.1H537.9M534.8 230.3H537.9" stroke="#0818b0" stroke-width="1.1" fill="none" opacity="1"/>
<path d="M424.7 251.9H424.7M424.7 249.3H424.7M424.7 247.1H424.7M424.7 244.8H424.7M424.7 242.2H424.7M424.7 239.8H424.7M424.7 237.4H424.7M424.7 234.9H424.7M424.7 232.4H424.7M424.7 230.2H424.7M424.7 227.7H424.7M424.7 224.5H424.7M424.7 221.5H424.7M424.7 218.4H424.7M425.3 214.9H424.7M426.4 211.4H424.7M427.2 208.6H425.2M429.0 205.2H427.7M430.4 202.1H429.9M438.9 252.6H438.9M438.9 250.3H438.9M438.9 248.0H438.9M438.9 245.5H438.9M438.9 243.2H438.9M438.9 240.6H438.9M438.9 238.0H438.9M438.9 235.7H438.9M438.9 233.0H438.9M438.9 230.4H438.9M438.9 227.7H438.9M438.9 224.6H438.9M438.9 221.2H438.9M438.9 217.8H438.9M438.4 214.8H438.9M436.8 211.8H438.9M435.9 208.6H438.4M434.5 205.2H436.0M433.0 202.1H433.7M438.9 251.8H438.9M438.9 249.2H438.9M438.9 246.4H438.9M438.9 243.8H438.9M438.9 241.0H438.9M438.9 238.5H438.9M438.9 236.0H438.9M438.9 233.7H438.9M438.9 231.1H438.9M438.9 228.5H438.9M438.9 225.3H438.9M438.9 222.1H438.9M438.9 218.9H438.9M439.2 215.8H438.9M440.5 212.5H438.9M441.6 209.1H439.0M442.8 205.6H441.4M444.8 202.2H444.0M452.3 252.2H452.3M452.3 249.7H452.3M452.3 247.0H452.3M452.3 244.8H452.3M452.3 242.1H452.3M452.3 239.7H452.3M452.3 237.4H452.3M452.3 235.1H452.3M452.3 232.4H452.3M452.3 230.1H452.3M452.3 227.8H452.3M452.3 224.5H452.3M452.3 221.7H452.3M452.3 218.8H452.3M452.3 215.3H452.3M452.1 212.4H452.3M450.7 209.1H452.3M449.2 205.8H450.6M447.1 202.6H448.0M452.3 251.9H452.3M452.3 249.2H452.3M452.3 246.8H452.3M452.3 244.1H452.3M452.3 241.6H452.3M452.3 239.4H452.3M452.3 237.1H452.3M452.3 234.6H452.3M452.3 232.2H452.3M452.3 229.5H452.3M452.3 227.0H452.3M452.3 223.4H452.3M452.3 220.0H452.3M452.3 216.8H452.3M453.3 213.6H452.3M453.8 210.8H452.3M455.0 208.0H452.3M456.2 204.5H454.3M457.8 201.4H456.8M459.3 197.9H458.7M470.7 253.4H470.7M470.7 251.2H470.7M470.7 248.8H470.7M470.7 246.2H470.7M470.7 243.8H470.7M470.7 241.5H470.7M470.7 239.1H470.7M470.7 236.8H470.7M470.7 234.3H470.7M470.7 231.5H470.7M470.3 229.1H470.7M470.4 226.5H470.7M469.2 223.6H470.7M469.9 220.5H470.7M469.0 217.7H470.7M466.6 214.7H470.7M467.0 211.2H469.8M465.6 208.3H468.2M464.1 205.4H466.5M462.6 201.9H463.8M461.1 198.4H461.7M470.7 252.7H470.7M470.7 250.1H470.7M470.7 247.4H470.7M470.7 245.0H470.7M470.7 242.7H470.7M470.7 240.0H470.7M470.7 237.6H470.7M470.7 235.2H470.7M470.7 232.5H470.7M470.7 229.8H470.7M471.2 227.4H470.7M471.3 223.9H470.7M473.1 220.6H470.7M474.2 217.2H470.7M474.0 214.3H470.7M474.6 211.2H471.6M475.7 207.8H473.4M478.0 204.6H475.4M479.1 201.4H478.0M480.5 197.9H479.9M495.4 253.0H495.4M495.4 250.5H495.4M494.8 247.8H495.4M494.0 245.1H495.4M495.4 242.6H495.4M494.0 240.0H495.4M495.4 237.5H495.4M492.5 235.2H495.4M492.7 232.7H495.4M493.6 230.4H495.4M491.7 227.7H495.4M490.6 224.2H495.4M489.8 221.0H495.4M489.7 217.8H494.1M489.0 214.6H492.6M488.2 211.7H491.2M486.9 208.5H489.6M485.8 205.4H487.7M483.6 202.1H485.2M482.4 199.0H483.1M495.4 252.2H495.4M495.8 249.5H495.4M496.1 246.7H495.4M495.4 244.3H495.4M497.0 242.0H495.4M496.5 239.5H495.4M497.3 237.0H495.4M497.6 234.4H495.4M496.4 231.8H495.4M497.9 229.3H495.4M498.6 227.1H495.4M499.6 224.0H495.4M500.4 221.2H495.4M501.5 217.9H496.7M501.7 214.8H498.1M503.3 212.0H499.4M504.7 208.7H501.1M505.2 205.3H503.1M506.8 201.9H505.7M508.5 198.9H507.7M520.5 252.2H520.5M520.5 249.8H520.5M520.5 247.2H520.5M520.5 244.5H520.5M520.5 242.2H520.5M520.5 239.7H520.5M520.5 237.2H520.5M520.5 234.9H520.5M520.5 232.3H520.5M520.5 229.7H520.5M519.4 227.2H520.5M519.1 224.2H520.5M519.6 220.8H520.5M517.9 217.4H520.5M516.6 214.1H520.5M516.2 210.7H519.1M514.5 207.7H517.5M513.0 204.5H515.5M511.9 201.6H513.2M510.6 198.6H511.3M520.5 252.5H520.5M520.5 249.9H520.5M520.5 247.4H520.5M520.5 244.8H520.5M520.5 242.5H520.5M520.5 239.9H520.5M520.5 237.1H520.5M520.5 234.9H520.5M520.5 232.3H520.5M520.5 229.9H520.5M520.5 227.6H520.5M521.7 224.1H520.5M522.4 220.9H520.5M523.7 217.4H520.5M524.9 213.8H520.6M525.5 210.5H522.3M526.7 207.0H524.4M528.4 203.5H527.0M529.6 200.5H529.0M537.9 253.1H537.9M537.9 250.5H537.9M537.9 248.3H537.9M537.9 245.8H537.9M537.9 243.1H537.9M537.9 240.5H537.9M537.9 238.2H537.9M537.9 235.7H537.9M537.9 233.1H537.9M537.9 230.3H537.9M537.9 227.8H537.9M537.9 225.0H537.9M537.9 221.6H537.9M537.9 218.2H537.9M537.9 215.2H537.9M536.9 211.9H537.9M536.0 209.0H537.9M534.6 206.0H536.5M532.8 202.8H533.9M531.6 199.3H532.2" stroke="#0c44d8" stroke-width="1.1" fill="none" opacity="1"/>
<path d="M431.8 203.7H429.9M431.8 203.7H433.8M431.8 200.2H432.7M481.3 203.7H484.4M530.8 205.1H527.3M530.8 198.9H530.1M530.8 200.9H532.3" stroke="#a0f050" stroke-width="1.0" fill="none" opacity="1"/>
<path d="M431.8 250.9H425.6M431.8 248.7H425.6M431.8 243.8H425.6M431.8 241.3H425.6M431.8 226.1H425.6M431.8 223.0H425.6M431.8 220.0H425.6M431.8 216.5H425.6M431.8 213.0H425.6M431.8 210.2H427.0M431.8 206.8H428.5M431.8 200.6H430.9M431.8 254.2H438.0M431.8 247.1H438.0M431.8 244.8H438.0M431.8 242.2H438.0M431.8 239.6H438.0M431.8 237.3H438.0M431.8 229.3H438.0M431.8 222.8H438.0M431.8 219.4H438.0M431.8 216.3H438.0M431.8 213.3H437.3M431.8 210.2H436.7M431.8 206.8H436.0M445.9 253.4H439.7M445.9 220.5H439.7M445.9 217.4H439.7M445.9 210.7H440.5M445.9 207.2H442.7M445.9 203.8H444.0M445.9 200.7H445.2M445.9 239.0H451.4M445.9 231.6H451.4M445.9 226.1H451.4M445.9 220.4H451.4M445.9 216.9H451.4M445.9 213.9H451.4M445.9 210.7H450.6M445.9 207.4H449.8M445.9 204.2H448.3M445.9 200.7H447.0M460.1 243.2H453.1M460.1 228.5H453.1M460.1 221.6H453.1M460.1 218.4H453.1M460.1 215.2H453.1M460.1 212.4H453.1M460.1 209.6H453.3M460.1 206.1H454.9M460.1 203.0H457.2M460.1 199.4H458.7M460.1 247.8H469.8M460.1 235.9H469.8M460.1 225.2H469.8M460.1 222.1H469.8M460.1 216.3H469.6M460.1 212.8H466.3M460.1 209.9H466.8M460.1 207.0H465.9M460.1 203.5H463.2M460.1 200.0H461.4M460.1 196.9H460.8M481.3 254.3H471.5M481.3 244.3H471.5M481.3 236.8H471.5M481.3 234.1H471.5M481.3 229.0H471.5M481.3 225.4H472.2M481.3 222.2H472.8M481.3 218.8H471.8M481.3 215.9H473.1M481.3 212.8H474.2M481.3 209.4H475.4M481.3 206.2H476.1M481.3 203.0H477.8M481.3 199.5H479.9M481.3 239.0H493.7M481.3 232.0H492.3M481.3 229.3H494.6M481.3 222.6H492.7M481.3 216.1H488.3M481.3 213.3H489.8M481.3 210.1H487.0M481.3 207.0H486.4M481.3 200.6H482.6M481.3 197.1H482.2M509.6 238.6H496.3M509.6 216.4H500.0M509.6 213.5H501.4M509.6 210.3H504.3M509.6 206.9H505.4M509.6 203.5H506.5M509.6 200.5H507.7M509.6 197.1H508.7M509.6 253.8H519.7M509.6 248.8H519.7M509.6 246.1H519.7M509.6 215.7H518.1M509.6 212.3H517.4M509.6 209.3H516.3M509.6 206.1H514.6M509.6 203.2H512.7M509.6 200.2H511.1M509.6 196.7H510.3M530.8 249.0H521.4M530.8 246.4H521.4M530.8 241.5H521.4M530.8 225.7H521.4M530.8 219.0H522.6M530.8 208.6H525.8M530.8 202.1H529.0M530.8 247.4H537.0M530.8 242.0H537.0M530.8 226.5H537.0M530.8 223.1H537.0M530.8 216.8H537.0M530.8 213.5H537.0M530.8 210.6H536.8M530.8 207.6H535.5M530.8 204.4H533.9" stroke="#eee820" stroke-width="1.0" fill="none" opacity="1"/>
<path d="M431.8 246.4H425.6M431.8 239.0H425.6M431.8 234.0H425.6M431.8 231.8H425.6M431.8 229.3H425.6M431.8 251.9H438.0M431.8 249.6H438.0M431.8 234.6H438.0M431.8 226.2H438.0M445.9 250.8H439.7M445.9 248.0H439.7M445.9 242.6H439.7M445.9 240.1H439.7M445.9 235.3H439.7M445.9 232.7H439.7M445.9 230.1H439.7M445.9 226.9H439.7M445.9 223.7H439.7M445.9 214.1H439.8M445.9 253.8H451.4M445.9 246.4H451.4M445.9 243.7H451.4M445.9 236.7H451.4M445.9 234.0H451.4M445.9 229.4H451.4M445.9 223.3H451.4M460.1 250.7H453.1M460.1 245.7H453.1M460.1 241.0H453.1M460.1 238.7H453.1M460.1 236.2H453.1M460.1 231.1H453.1M460.1 225.0H453.1M460.1 255.0H469.8M460.1 252.8H469.8M460.1 250.4H469.8M460.1 245.4H469.8M460.1 243.1H469.8M460.1 233.1H469.8M460.1 230.7H469.8M460.1 228.1H469.8M460.1 219.3H468.1M481.3 251.7H471.5M481.3 246.6H471.5M481.3 231.4H471.5M481.3 254.6H494.6M481.3 252.1H494.6M481.3 246.7H494.6M481.3 244.2H494.6M481.3 241.6H494.6M481.3 236.7H493.6M481.3 225.8H491.2M481.3 219.4H491.8M509.6 253.8H496.3M509.6 248.3H496.3M509.6 243.6H496.3M509.6 241.1H496.3M509.6 236.0H497.5M509.6 230.9H496.5M509.6 228.7H498.3M509.6 225.6H497.1M509.6 222.8H500.4M509.6 219.5H499.5M509.6 243.8H519.7M509.6 241.2H519.7M509.6 233.9H519.7M509.6 228.8H519.2M509.6 225.8H519.7M509.6 222.4H519.5M509.6 219.0H519.7M530.8 251.4H521.4M530.8 244.1H521.4M530.8 238.7H521.4M530.8 231.5H521.4M530.8 229.2H521.4M530.8 222.5H521.4M530.8 215.4H524.3M530.8 212.1H523.8M530.8 254.7H537.0M530.8 252.1H537.0M530.8 249.9H537.0M530.8 244.7H537.0M530.8 239.8H537.0M530.8 229.4H537.0M530.8 219.8H537.0" stroke="#f8a018" stroke-width="1.0" fill="none" opacity="1"/>
<path d="M431.8 253.5H425.6M431.8 236.5H425.6M431.8 232.0H438.0M445.9 245.4H439.7M445.9 237.6H439.7M445.9 251.3H451.4M445.9 248.6H451.4M445.9 241.3H451.4M460.1 253.5H453.1M460.1 248.4H453.1M460.1 233.8H453.1M460.1 240.7H469.8M460.1 238.4H469.8M481.3 249.0H471.5M481.3 241.6H471.5M481.3 239.2H471.5M481.3 249.4H494.6M481.3 234.3H494.6M509.6 251.0H496.3M509.6 245.9H496.3M509.6 233.4H496.3M509.6 251.4H519.7M509.6 238.8H519.7M509.6 236.5H519.7M509.6 231.3H519.7M530.8 254.1H521.4M530.8 236.4H521.4M530.8 233.9H521.4M530.8 237.3H537.0M530.8 234.7H537.0M530.8 231.9H537.0" stroke="#e84020" stroke-width="1.0" fill="none" opacity="1"/>
<path d="M438.3 256.5V252.1M438.7 250.9V247.6M438.5 246.3V243.2M439.1 241.9V238.2M438.6 238.2V235.4M439.0 235.4V231.8M438.9 230.5V226.0M438.9 226.0V223.1M439.4 223.1V219.7M438.7 219.7V217.0" stroke="#0c34d0" stroke-width="1.3" fill="none"/>
<path d="M452.3 256.5V253.1M452.6 251.8V249.5M452.5 249.5V245.8M452.3 244.5V242.2M452.6 242.2V238.5M451.8 238.5V234.0M451.9 234.0V230.1M452.7 228.8V225.0M451.8 223.7V220.3M452.1 219.0V216.5" stroke="#0c34d0" stroke-width="1.3" fill="none"/>
<path d="M470.9 256.5V254.3M470.8 254.3V249.7M471.1 248.4V246.0M470.3 246.0V243.0M470.7 243.0V240.7M470.9 239.4V235.0M470.2 233.7V229.3M471.2 229.3V225.9M470.9 225.9V223.3M470.7 222.0V219.4" stroke="#0c34d0" stroke-width="1.3" fill="none"/>
<path d="M495.2 256.5V252.6M495.4 251.4V248.5M495.7 248.5V245.8M495.4 245.8V241.9M495.2 241.9V237.2M495.7 237.2V234.3M495.4 234.3V229.9" stroke="#0c34d0" stroke-width="1.3" fill="none"/>
<path d="M520.0 256.5V252.5M520.5 251.2V247.4M520.2 247.4V243.4M520.3 243.4V239.1M520.6 239.1V235.1M520.4 235.1V231.5M520.4 231.5V229.3M521.0 228.0V224.2M520.9 224.2V221.3" stroke="#0c34d0" stroke-width="1.3" fill="none"/>
<path d="M431.8 255.9H530.8" stroke="#f4a820" stroke-width="0.8" fill="none"/>
<path d="M431.8 256.5V200.6" stroke="#f4ac20" stroke-width="1.2" fill="none"/>
<path d="M431.8 256.5V213.7" stroke="#ee5a18" stroke-width="0.6" fill="none"/>
<circle cx="431.8" cy="255.8" r="0.9" fill="#e01010"/>
<path d="M445.9 256.5V200.6" stroke="#f4ac20" stroke-width="1.2" fill="none"/>
<path d="M445.9 256.5V213.7" stroke="#ee5a18" stroke-width="0.6" fill="none"/>
<circle cx="445.9" cy="255.8" r="0.9" fill="#e01010"/>
<path d="M460.1 256.5V198.0" stroke="#f4ac20" stroke-width="1.2" fill="none"/>
<path d="M460.1 256.5V211.7" stroke="#ee5a18" stroke-width="0.6" fill="none"/>
<circle cx="460.1" cy="255.8" r="0.9" fill="#e01010"/>
<path d="M481.3 256.5V198.0" stroke="#f4ac20" stroke-width="1.2" fill="none"/>
<path d="M481.3 256.5V211.7" stroke="#ee5a18" stroke-width="0.6" fill="none"/>
<circle cx="481.3" cy="255.8" r="0.9" fill="#e01010"/>
<path d="M509.6 256.5V197.8" stroke="#f4ac20" stroke-width="1.2" fill="none"/>
<path d="M509.6 256.5V211.5" stroke="#ee5a18" stroke-width="0.6" fill="none"/>
<circle cx="509.6" cy="255.8" r="0.9" fill="#e01010"/>
<path d="M530.8 256.5V199.4" stroke="#f4ac20" stroke-width="1.2" fill="none"/>
<path d="M530.8 256.5V212.8" stroke="#ee5a18" stroke-width="0.6" fill="none"/>
<circle cx="530.8" cy="255.8" r="0.9" fill="#e01010"/>
</g></g></g>
<text x="436.4" y="163.5" class="lb">80s</text>
<text x="427.4" y="258.2" class="tk" text-anchor="end">0</text>
<text x="427.4" y="249.7" class="tk" text-anchor="end">1</text>
<text x="427.4" y="241.1" class="tk" text-anchor="end">2</text>
<text x="427.4" y="232.4" class="tk" text-anchor="end">3</text>
<text x="427.4" y="223.8" class="tk" text-anchor="end">4</text>
<text x="427.4" y="215.2" class="tk" text-anchor="end">5</text>
<text x="427.4" y="206.7" class="tk" text-anchor="end">6</text>
<text x="427.4" y="198.1" class="tk" text-anchor="end">7</text>
<text x="427.4" y="189.4" class="tk" text-anchor="end">8</text>
<text x="427.4" y="180.9" class="tk" text-anchor="end">9</text>
<text x="427.4" y="172.2" class="tk" text-anchor="end">10</text>
<text x="427.4" y="163.7" class="tk" text-anchor="end">11</text>
<text x="427.4" y="155.1" class="tk" text-anchor="end">12</text>
<text x="431.8" y="268.5" class="tk" text-anchor="middle">0</text>
<text x="445.9" y="268.5" class="tk" text-anchor="middle">2</text>
<text x="460.1" y="268.5" class="tk" text-anchor="middle">4</text>
<text x="474.2" y="268.5" class="tk" text-anchor="middle">6</text>
<text x="488.4" y="268.5" class="tk" text-anchor="middle">8</text>
<text x="502.5" y="268.5" class="tk" text-anchor="middle">10</text>
<text x="516.7" y="268.5" class="tk" text-anchor="middle">12</text>
<text x="418.4" y="148.8" class="tk" text-anchor="middle">µm</text>
<text x="532.7" y="266.7" class="tk" text-anchor="middle">µm</text>
<text x="480.7" y="145.1" class="tk" text-anchor="middle" fill="#7080a0">ξ</text>
<rect x="536.6" y="153.6" width="1.4" height="108.2" fill="url(#cb)" opacity="0.78"/>
<text x="538.3" y="263.3" class="ck">0</text>
<text x="538.3" y="252.0" class="ck">0.1</text>
<text x="538.3" y="240.6" class="ck">0.2</text>
<text x="538.3" y="229.2" class="ck">0.3</text>
<text x="538.3" y="217.9" class="ck">0.4</text>
<text x="538.3" y="206.5" class="ck">0.5</text>
<text x="538.3" y="195.1" class="ck">0.6</text>
<text x="538.3" y="183.8" class="ck">0.7</text>
<text x="538.3" y="172.4" class="ck">0.8</text>
<text x="538.3" y="161.0" class="ck">0.9</text>
<text transform="translate(422.9,199.8) rotate(-90)" class="yl" font-size="8.0" text-anchor="middle">Height / µm</text>
<text x="484.9" y="274.6" class="xl" text-anchor="middle">x / µm</text>
</svg>
</body></html>
